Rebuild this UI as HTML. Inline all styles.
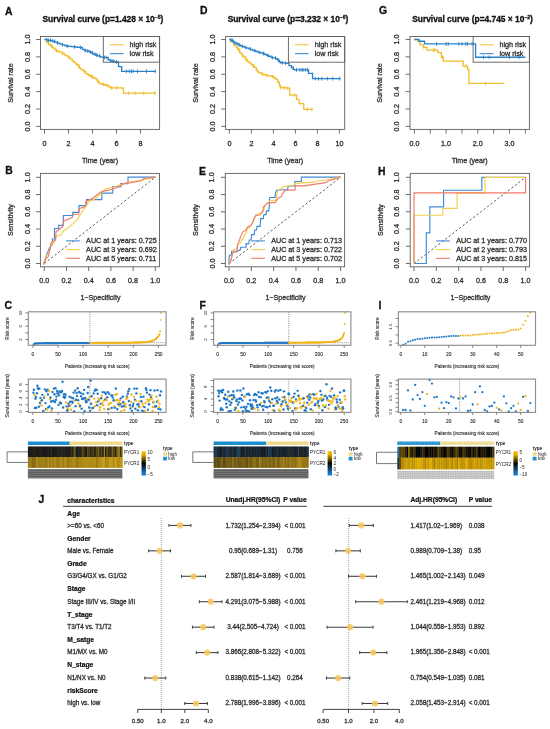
<!DOCTYPE html>
<html><head><meta charset="utf-8"><style>
html,body{margin:0;padding:0;background:#fff;width:550px;height:729px;overflow:hidden}
svg{display:block;will-change:transform}
text{font-family:"Liberation Sans", sans-serif}
text.r{stroke:#333;stroke-width:0.28px}
text.s{stroke:#333;stroke-width:0.1px}
text.b{stroke:#111;stroke-width:0.3px}
text.t{stroke:#111;stroke-width:0.32px}
text.u{stroke:#111;stroke-width:0.22px}
</style></head><body>
<svg width="550" height="729" viewBox="0 0 550 729">
<rect width="550" height="729" fill="#fff"/>
<text x="4.90" y="14.50" font-size="10.4" font-weight="bold" fill="#111" class="b">A</text>
<text x="199.90" y="14.40" font-size="10.4" font-weight="bold" fill="#111" class="b">D</text>
<text x="379.00" y="14.40" font-size="10.4" font-weight="bold" fill="#111" class="b">G</text>
<text x="5.30" y="174.30" font-size="10.4" font-weight="bold" fill="#111" class="b">B</text>
<text x="199.00" y="174.60" font-size="10.4" font-weight="bold" fill="#111" class="b">E</text>
<text x="378.00" y="174.60" font-size="10.4" font-weight="bold" fill="#111" class="b">H</text>
<text x="4.50" y="308.50" font-size="10.4" font-weight="bold" fill="#111" class="b">C</text>
<text x="199.60" y="308.50" font-size="10.4" font-weight="bold" fill="#111" class="b">F</text>
<text x="378.40" y="308.50" font-size="10.4" font-weight="bold" fill="#111" class="b">I</text>
<text x="38.50" y="503.20" font-size="10.4" font-weight="bold" fill="#111" class="b">J</text>
<text x="102.90" y="21.7" font-size="8.4" font-weight="bold" text-anchor="middle" fill="#111" class="t">Survival curve (p=1.428 × 10<tspan dy="-3.0" font-size="5.0">−5</tspan><tspan dy="3.0">)</tspan></text>
<polyline points="44.50,39.50 46.59,39.50 46.59,42.30 48.47,42.30 48.47,44.27 49.75,44.27 49.75,45.15 50.89,45.15 50.89,45.96 52.12,45.96 52.12,47.16 53.01,47.16 53.01,48.03 54.98,48.03 54.98,49.96 56.39,49.96 56.39,50.73 58.49,50.73 58.49,51.61 59.87,51.61 59.87,52.19 62.14,52.19 62.14,53.38 64.25,53.38 64.25,54.62 65.03,54.62 65.03,55.08 66.13,55.08 66.13,55.94 68.33,55.94 68.33,57.71 69.85,57.71 69.85,58.93 72.16,58.93 72.16,60.79 73.56,60.79 73.56,61.91 74.45,61.91 74.45,62.63 76.21,62.63 76.21,64.42 78.21,64.42 78.21,66.57 79.41,66.57 79.41,67.87 80.32,67.87 80.32,68.84 81.62,68.84 81.62,69.88 83.91,69.88 83.91,71.71 85.87,71.71 85.87,73.28 86.83,73.28 86.83,73.95 88.00,73.95 88.00,74.75 88.93,74.75 88.93,75.40 89.81,75.40 89.81,76.01 91.83,76.01 91.83,77.23 92.89,77.23 92.89,77.62 94.54,77.62 94.54,78.21 96.02,78.21 96.02,79.41 97.10,79.41 97.10,81.58 99.02,81.58 99.02,83.29 100.00,83.29 100.00,83.57 101.79,83.57 101.79,84.08 102.75,84.08 102.75,84.35 104.18,84.35 104.18,84.77 105.30,84.77 105.30,85.09 106.50,85.09 106.50,85.44 108.79,85.44 108.79,86.79 110.50,86.79 110.50,87.90 110.50,87.90 122.86,87.90 122.86,88.51 123.46,88.51 123.46,93.20 155.86,93.20 155.86,93.20" fill="none" stroke="#f1bd2c" stroke-width="1.3" stroke-linejoin="miter"/>
<line x1="48.10" y1="40.40" x2="48.10" y2="44.20" stroke="#f1bd2c" stroke-width="0.9"/>
<line x1="51.70" y1="44.06" x2="51.70" y2="47.86" stroke="#f1bd2c" stroke-width="0.9"/>
<line x1="56.50" y1="48.83" x2="56.50" y2="52.63" stroke="#f1bd2c" stroke-width="0.9"/>
<line x1="62.50" y1="51.48" x2="62.50" y2="55.28" stroke="#f1bd2c" stroke-width="0.9"/>
<line x1="69.70" y1="55.81" x2="69.70" y2="59.61" stroke="#f1bd2c" stroke-width="0.9"/>
<line x1="79.30" y1="64.67" x2="79.30" y2="68.47" stroke="#f1bd2c" stroke-width="0.9"/>
<line x1="84.10" y1="69.81" x2="84.10" y2="73.61" stroke="#f1bd2c" stroke-width="0.9"/>
<line x1="91.30" y1="74.11" x2="91.30" y2="77.91" stroke="#f1bd2c" stroke-width="0.9"/>
<line x1="92.50" y1="75.33" x2="92.50" y2="79.13" stroke="#f1bd2c" stroke-width="0.9"/>
<line x1="98.50" y1="79.68" x2="98.50" y2="83.48" stroke="#f1bd2c" stroke-width="0.9"/>
<line x1="103.30" y1="82.45" x2="103.30" y2="86.25" stroke="#f1bd2c" stroke-width="0.9"/>
<line x1="106.90" y1="83.54" x2="106.90" y2="87.34" stroke="#f1bd2c" stroke-width="0.9"/>
<line x1="111.70" y1="86.00" x2="111.70" y2="89.80" stroke="#f1bd2c" stroke-width="0.9"/>
<line x1="116.50" y1="86.00" x2="116.50" y2="89.80" stroke="#f1bd2c" stroke-width="0.9"/>
<line x1="128.50" y1="91.30" x2="128.50" y2="95.10" stroke="#f1bd2c" stroke-width="0.9"/>
<line x1="135.10" y1="91.30" x2="135.10" y2="95.10" stroke="#f1bd2c" stroke-width="0.9"/>
<line x1="143.74" y1="91.30" x2="143.74" y2="95.10" stroke="#f1bd2c" stroke-width="0.9"/>
<line x1="154.90" y1="91.30" x2="154.90" y2="95.10" stroke="#f1bd2c" stroke-width="0.9"/>
<polyline points="44.50,39.50 46.33,39.50 46.33,39.87 48.36,39.87 48.36,40.29 51.10,40.29 51.10,40.88 52.95,40.88 52.95,41.46 54.89,41.46 54.89,42.07 56.97,42.07 56.97,42.78 58.29,42.78 58.29,43.31 60.23,43.31 60.23,44.09 62.40,44.09 62.40,44.90 64.88,44.90 64.88,45.65 66.02,45.65 66.02,45.99 67.57,45.99 67.57,46.19 68.70,46.19 68.70,46.33 71.22,46.33 71.22,46.63 73.51,46.63 73.51,46.90 74.55,46.90 74.55,47.02 77.39,47.02 77.39,47.26 80.21,47.26 80.21,47.49 82.42,47.49 82.42,49.28 84.56,49.28 84.56,50.48 85.83,50.48 85.83,50.75 86.81,50.75 86.81,50.96 88.79,50.96 88.79,51.38 89.86,51.38 89.86,51.97 91.19,51.97 91.19,52.76 92.61,52.76 92.61,53.60 93.63,53.60 93.63,54.18 95.48,54.18 95.48,55.00 97.29,55.00 97.29,55.80 99.86,55.80 99.86,56.90 101.82,56.90 101.82,57.14 104.01,57.14 104.01,57.40 105.93,57.40 105.93,57.63 108.16,57.63 108.16,59.94 110.00,59.94 110.00,60.52 111.49,60.52 111.49,60.99 114.37,60.99 114.37,61.89 114.46,61.89 114.46,61.92 114.46,61.92 118.54,61.92 118.54,66.61 121.66,66.61 121.66,71.31 155.86,71.31 155.86,71.31" fill="none" stroke="#2a82ca" stroke-width="1.3" stroke-linejoin="miter"/>
<line x1="46.90" y1="37.97" x2="46.90" y2="41.77" stroke="#2a82ca" stroke-width="0.9"/>
<line x1="48.70" y1="38.39" x2="48.70" y2="42.19" stroke="#2a82ca" stroke-width="0.9"/>
<line x1="50.50" y1="38.39" x2="50.50" y2="42.19" stroke="#2a82ca" stroke-width="0.9"/>
<line x1="52.90" y1="38.98" x2="52.90" y2="42.78" stroke="#2a82ca" stroke-width="0.9"/>
<line x1="54.70" y1="39.56" x2="54.70" y2="43.36" stroke="#2a82ca" stroke-width="0.9"/>
<line x1="57.70" y1="40.88" x2="57.70" y2="44.68" stroke="#2a82ca" stroke-width="0.9"/>
<line x1="62.50" y1="43.00" x2="62.50" y2="46.80" stroke="#2a82ca" stroke-width="0.9"/>
<line x1="67.30" y1="44.09" x2="67.30" y2="47.89" stroke="#2a82ca" stroke-width="0.9"/>
<line x1="74.50" y1="45.00" x2="74.50" y2="48.80" stroke="#2a82ca" stroke-width="0.9"/>
<line x1="80.50" y1="45.59" x2="80.50" y2="49.39" stroke="#2a82ca" stroke-width="0.9"/>
<line x1="85.30" y1="48.58" x2="85.30" y2="52.38" stroke="#2a82ca" stroke-width="0.9"/>
<line x1="87.70" y1="49.06" x2="87.70" y2="52.86" stroke="#2a82ca" stroke-width="0.9"/>
<line x1="90.10" y1="50.07" x2="90.10" y2="53.87" stroke="#2a82ca" stroke-width="0.9"/>
<line x1="92.50" y1="50.86" x2="92.50" y2="54.66" stroke="#2a82ca" stroke-width="0.9"/>
<line x1="94.90" y1="52.28" x2="94.90" y2="56.08" stroke="#2a82ca" stroke-width="0.9"/>
<line x1="96.70" y1="53.10" x2="96.70" y2="56.90" stroke="#2a82ca" stroke-width="0.9"/>
<line x1="99.70" y1="53.90" x2="99.70" y2="57.70" stroke="#2a82ca" stroke-width="0.9"/>
<line x1="104.50" y1="55.50" x2="104.50" y2="59.30" stroke="#2a82ca" stroke-width="0.9"/>
<line x1="106.90" y1="55.73" x2="106.90" y2="59.53" stroke="#2a82ca" stroke-width="0.9"/>
<line x1="110.50" y1="58.62" x2="110.50" y2="62.42" stroke="#2a82ca" stroke-width="0.9"/>
<line x1="112.90" y1="59.09" x2="112.90" y2="62.89" stroke="#2a82ca" stroke-width="0.9"/>
<line x1="116.50" y1="60.02" x2="116.50" y2="63.82" stroke="#2a82ca" stroke-width="0.9"/>
<line x1="126.34" y1="69.41" x2="126.34" y2="73.21" stroke="#2a82ca" stroke-width="0.9"/>
<line x1="129.34" y1="69.41" x2="129.34" y2="73.21" stroke="#2a82ca" stroke-width="0.9"/>
<line x1="131.62" y1="69.41" x2="131.62" y2="73.21" stroke="#2a82ca" stroke-width="0.9"/>
<line x1="132.94" y1="69.41" x2="132.94" y2="73.21" stroke="#2a82ca" stroke-width="0.9"/>
<line x1="137.50" y1="69.41" x2="137.50" y2="73.21" stroke="#2a82ca" stroke-width="0.9"/>
<line x1="146.50" y1="69.41" x2="146.50" y2="73.21" stroke="#2a82ca" stroke-width="0.9"/>
<line x1="155.26" y1="69.41" x2="155.26" y2="73.21" stroke="#2a82ca" stroke-width="0.9"/>
<rect x="40.50" y="36.50" width="119.10" height="92.90" fill="none" stroke="#5e5e5e" stroke-width="0.9"/>
<line x1="36.10" y1="126.40" x2="40.50" y2="126.40" stroke="#5e5e5e" stroke-width="0.9"/>
<text x="29.70" y="126.40" font-size="7.3" text-anchor="middle" class="r" fill="#222" transform="rotate(-90 29.70 126.40)">0.0</text>
<line x1="36.10" y1="109.02" x2="40.50" y2="109.02" stroke="#5e5e5e" stroke-width="0.9"/>
<text x="29.70" y="109.02" font-size="7.3" text-anchor="middle" class="r" fill="#222" transform="rotate(-90 29.70 109.02)">0.2</text>
<line x1="36.10" y1="91.64" x2="40.50" y2="91.64" stroke="#5e5e5e" stroke-width="0.9"/>
<text x="29.70" y="91.64" font-size="7.3" text-anchor="middle" class="r" fill="#222" transform="rotate(-90 29.70 91.64)">0.4</text>
<line x1="36.10" y1="74.26" x2="40.50" y2="74.26" stroke="#5e5e5e" stroke-width="0.9"/>
<text x="29.70" y="74.26" font-size="7.3" text-anchor="middle" class="r" fill="#222" transform="rotate(-90 29.70 74.26)">0.6</text>
<line x1="36.10" y1="56.88" x2="40.50" y2="56.88" stroke="#5e5e5e" stroke-width="0.9"/>
<text x="29.70" y="56.88" font-size="7.3" text-anchor="middle" class="r" fill="#222" transform="rotate(-90 29.70 56.88)">0.8</text>
<line x1="36.10" y1="39.50" x2="40.50" y2="39.50" stroke="#5e5e5e" stroke-width="0.9"/>
<text x="29.70" y="39.50" font-size="7.3" text-anchor="middle" class="r" fill="#222" transform="rotate(-90 29.70 39.50)">1.0</text>
<line x1="44.50" y1="129.40" x2="44.50" y2="133.60" stroke="#5e5e5e" stroke-width="0.9"/>
<text x="44.50" y="145.70" font-size="7.2" text-anchor="middle" class="r" fill="#222">0</text>
<line x1="68.50" y1="129.40" x2="68.50" y2="133.60" stroke="#5e5e5e" stroke-width="0.9"/>
<text x="68.50" y="145.70" font-size="7.2" text-anchor="middle" class="r" fill="#222">2</text>
<line x1="92.50" y1="129.40" x2="92.50" y2="133.60" stroke="#5e5e5e" stroke-width="0.9"/>
<text x="92.50" y="145.70" font-size="7.2" text-anchor="middle" class="r" fill="#222">4</text>
<line x1="116.50" y1="129.40" x2="116.50" y2="133.60" stroke="#5e5e5e" stroke-width="0.9"/>
<text x="116.50" y="145.70" font-size="7.2" text-anchor="middle" class="r" fill="#222">6</text>
<line x1="140.50" y1="129.40" x2="140.50" y2="133.60" stroke="#5e5e5e" stroke-width="0.9"/>
<text x="140.50" y="145.70" font-size="7.2" text-anchor="middle" class="r" fill="#222">8</text>
<text x="100.05" y="162.60" font-size="7.1" text-anchor="middle" class="r" fill="#222">Time (year)</text>
<text x="13.00" y="82.95" font-size="7.1" text-anchor="middle" class="r" fill="#222" transform="rotate(-90 13.00 82.95)">Survival rate</text>
<rect x="103.30" y="36.50" width="56.30" height="25.70" fill="none" stroke="#5e5e5e" stroke-width="0.9"/>
<line x1="109.80" y1="44.80" x2="123.60" y2="44.80" stroke="#f1bd2c" stroke-width="1.0"/>
<line x1="109.80" y1="53.70" x2="123.60" y2="53.70" stroke="#2a82ca" stroke-width="1.0"/>
<text x="129.60" y="47.30" font-size="7.2" text-anchor="start" class="r" fill="#222">high risk</text>
<text x="129.60" y="56.20" font-size="7.2" text-anchor="start" class="r" fill="#222">low risk</text>
<text x="288.00" y="21.7" font-size="8.4" font-weight="bold" text-anchor="middle" fill="#111" class="t">Survival curve (p=3.232 × 10<tspan dy="-3.0" font-size="5.0">−6</tspan><tspan dy="3.0">)</tspan></text>
<polyline points="229.40,39.50 230.33,39.50 230.33,40.60 231.16,40.60 231.16,41.59 233.41,41.59 233.41,44.16 234.55,44.16 234.55,45.30 236.40,45.30 236.40,47.28 237.57,47.28 237.57,49.25 239.61,49.25 239.61,52.62 241.30,52.62 241.30,54.33 242.52,54.33 242.52,55.56 243.56,55.56 243.56,56.83 245.44,56.83 245.44,59.23 246.31,59.23 246.31,60.35 247.44,60.35 247.44,61.57 249.07,61.57 249.07,62.86 251.15,62.86 251.15,64.50 252.87,64.50 252.87,66.00 254.07,66.00 254.07,67.43 256.25,67.43 256.25,70.01 257.33,70.01 257.33,71.30 258.13,71.30 258.13,72.15 259.31,72.15 259.31,72.74 260.77,72.74 260.77,73.47 261.63,73.47 261.63,73.90 262.68,73.90 262.68,74.42 264.01,74.42 264.01,74.89 265.66,74.89 265.66,75.18 266.64,75.18 266.64,75.35 267.97,75.35 267.97,75.58 270.11,75.58 270.11,76.02 272.39,76.02 272.39,77.14 274.17,77.14 274.17,78.01 276.00,78.01 276.00,79.45 277.67,79.45 277.67,81.73 278.66,81.73 278.66,83.20 279.48,83.20 279.48,85.50 280.28,85.50 280.28,87.56 282.45,87.56 282.45,87.72 284.30,87.72 284.30,87.86 286.55,87.86 286.55,88.02 287.36,88.02 287.36,88.08 288.47,88.08 288.47,88.16 288.47,88.16 289.68,88.16 289.68,95.20 296.61,95.20 296.61,99.37 299.03,99.37 299.03,103.55 303.76,103.55 303.76,109.37 312.56,109.37 312.56,109.37" fill="none" stroke="#f1bd2c" stroke-width="1.3" stroke-linejoin="miter"/>
<line x1="233.80" y1="42.26" x2="233.80" y2="46.06" stroke="#f1bd2c" stroke-width="0.9"/>
<line x1="238.20" y1="47.35" x2="238.20" y2="51.15" stroke="#f1bd2c" stroke-width="0.9"/>
<line x1="242.60" y1="53.66" x2="242.60" y2="57.46" stroke="#f1bd2c" stroke-width="0.9"/>
<line x1="247.00" y1="58.45" x2="247.00" y2="62.25" stroke="#f1bd2c" stroke-width="0.9"/>
<line x1="253.60" y1="64.10" x2="253.60" y2="67.90" stroke="#f1bd2c" stroke-width="0.9"/>
<line x1="262.40" y1="72.00" x2="262.40" y2="75.80" stroke="#f1bd2c" stroke-width="0.9"/>
<line x1="266.80" y1="73.45" x2="266.80" y2="77.25" stroke="#f1bd2c" stroke-width="0.9"/>
<line x1="273.40" y1="75.24" x2="273.40" y2="79.04" stroke="#f1bd2c" stroke-width="0.9"/>
<line x1="281.10" y1="85.66" x2="281.10" y2="89.46" stroke="#f1bd2c" stroke-width="0.9"/>
<line x1="284.40" y1="85.96" x2="284.40" y2="89.76" stroke="#f1bd2c" stroke-width="0.9"/>
<line x1="287.70" y1="86.18" x2="287.70" y2="89.98" stroke="#f1bd2c" stroke-width="0.9"/>
<line x1="294.30" y1="93.30" x2="294.30" y2="97.10" stroke="#f1bd2c" stroke-width="0.9"/>
<line x1="307.50" y1="107.47" x2="307.50" y2="111.27" stroke="#f1bd2c" stroke-width="0.9"/>
<line x1="311.90" y1="107.47" x2="311.90" y2="111.27" stroke="#f1bd2c" stroke-width="0.9"/>
<polyline points="229.40,39.50 230.82,39.50 230.82,40.42 233.25,40.42 233.25,42.02 234.50,42.02 234.50,42.83 236.08,42.83 236.08,43.72 238.46,43.72 238.46,44.91 240.47,44.91 240.47,45.91 241.53,45.91 241.53,46.29 244.15,46.29 244.15,47.22 245.40,47.22 245.40,47.67 246.74,47.67 246.74,48.14 248.98,48.14 248.98,48.94 250.44,48.94 250.44,49.47 251.84,49.47 251.84,49.97 252.85,49.97 252.85,50.34 253.89,50.34 253.89,50.71 255.79,50.71 255.79,51.40 257.10,51.40 257.10,51.82 259.04,51.82 259.04,52.45 260.57,52.45 260.57,52.94 262.25,52.94 262.25,53.48 264.82,53.48 264.82,54.62 266.55,54.62 266.55,55.39 268.44,55.39 268.44,56.24 270.85,56.24 270.85,57.19 272.05,57.19 272.05,57.58 273.20,57.58 273.20,57.95 275.68,57.95 275.68,58.74 278.00,58.74 278.00,60.54 279.32,60.54 279.32,61.83 280.53,61.83 280.53,62.73 282.71,62.73 282.71,62.92 285.25,62.92 285.25,63.14 286.47,63.14 286.47,63.24 289.02,63.24 289.02,65.55 291.46,65.55 291.46,67.85 293.40,67.85 293.40,69.35 294.30,69.35 294.30,69.83 294.30,69.83 308.49,69.83 308.49,73.39 312.56,73.39 312.56,78.69 340.83,78.69 340.83,78.69" fill="none" stroke="#2a82ca" stroke-width="1.3" stroke-linejoin="miter"/>
<line x1="231.05" y1="38.52" x2="231.05" y2="42.32" stroke="#2a82ca" stroke-width="0.9"/>
<line x1="232.70" y1="38.52" x2="232.70" y2="42.32" stroke="#2a82ca" stroke-width="0.9"/>
<line x1="234.90" y1="40.93" x2="234.90" y2="44.73" stroke="#2a82ca" stroke-width="0.9"/>
<line x1="237.10" y1="41.82" x2="237.10" y2="45.62" stroke="#2a82ca" stroke-width="0.9"/>
<line x1="239.30" y1="43.01" x2="239.30" y2="46.81" stroke="#2a82ca" stroke-width="0.9"/>
<line x1="242.60" y1="44.39" x2="242.60" y2="48.19" stroke="#2a82ca" stroke-width="0.9"/>
<line x1="245.90" y1="45.77" x2="245.90" y2="49.57" stroke="#2a82ca" stroke-width="0.9"/>
<line x1="250.30" y1="47.04" x2="250.30" y2="50.84" stroke="#2a82ca" stroke-width="0.9"/>
<line x1="254.70" y1="48.81" x2="254.70" y2="52.61" stroke="#2a82ca" stroke-width="0.9"/>
<line x1="259.10" y1="50.55" x2="259.10" y2="54.35" stroke="#2a82ca" stroke-width="0.9"/>
<line x1="263.50" y1="51.58" x2="263.50" y2="55.38" stroke="#2a82ca" stroke-width="0.9"/>
<line x1="267.90" y1="53.49" x2="267.90" y2="57.29" stroke="#2a82ca" stroke-width="0.9"/>
<line x1="272.30" y1="55.68" x2="272.30" y2="59.48" stroke="#2a82ca" stroke-width="0.9"/>
<line x1="275.60" y1="56.05" x2="275.60" y2="59.85" stroke="#2a82ca" stroke-width="0.9"/>
<line x1="278.90" y1="58.64" x2="278.90" y2="62.44" stroke="#2a82ca" stroke-width="0.9"/>
<line x1="282.20" y1="60.83" x2="282.20" y2="64.63" stroke="#2a82ca" stroke-width="0.9"/>
<line x1="285.50" y1="61.24" x2="285.50" y2="65.04" stroke="#2a82ca" stroke-width="0.9"/>
<line x1="293.20" y1="65.95" x2="293.20" y2="69.75" stroke="#2a82ca" stroke-width="0.9"/>
<line x1="296.50" y1="67.93" x2="296.50" y2="71.73" stroke="#2a82ca" stroke-width="0.9"/>
<line x1="299.80" y1="67.93" x2="299.80" y2="71.73" stroke="#2a82ca" stroke-width="0.9"/>
<line x1="302.00" y1="67.93" x2="302.00" y2="71.73" stroke="#2a82ca" stroke-width="0.9"/>
<line x1="303.10" y1="67.93" x2="303.10" y2="71.73" stroke="#2a82ca" stroke-width="0.9"/>
<line x1="305.30" y1="67.93" x2="305.30" y2="71.73" stroke="#2a82ca" stroke-width="0.9"/>
<line x1="307.50" y1="67.93" x2="307.50" y2="71.73" stroke="#2a82ca" stroke-width="0.9"/>
<line x1="315.20" y1="76.79" x2="315.20" y2="80.59" stroke="#2a82ca" stroke-width="0.9"/>
<line x1="318.50" y1="76.79" x2="318.50" y2="80.59" stroke="#2a82ca" stroke-width="0.9"/>
<line x1="321.80" y1="76.79" x2="321.80" y2="80.59" stroke="#2a82ca" stroke-width="0.9"/>
<line x1="327.30" y1="76.79" x2="327.30" y2="80.59" stroke="#2a82ca" stroke-width="0.9"/>
<line x1="332.80" y1="76.79" x2="332.80" y2="80.59" stroke="#2a82ca" stroke-width="0.9"/>
<line x1="339.40" y1="76.79" x2="339.40" y2="80.59" stroke="#2a82ca" stroke-width="0.9"/>
<rect x="225.60" y="36.50" width="119.10" height="92.90" fill="none" stroke="#5e5e5e" stroke-width="0.9"/>
<line x1="221.20" y1="126.40" x2="225.60" y2="126.40" stroke="#5e5e5e" stroke-width="0.9"/>
<text x="214.80" y="126.40" font-size="7.3" text-anchor="middle" class="r" fill="#222" transform="rotate(-90 214.80 126.40)">0.0</text>
<line x1="221.20" y1="109.02" x2="225.60" y2="109.02" stroke="#5e5e5e" stroke-width="0.9"/>
<text x="214.80" y="109.02" font-size="7.3" text-anchor="middle" class="r" fill="#222" transform="rotate(-90 214.80 109.02)">0.2</text>
<line x1="221.20" y1="91.64" x2="225.60" y2="91.64" stroke="#5e5e5e" stroke-width="0.9"/>
<text x="214.80" y="91.64" font-size="7.3" text-anchor="middle" class="r" fill="#222" transform="rotate(-90 214.80 91.64)">0.4</text>
<line x1="221.20" y1="74.26" x2="225.60" y2="74.26" stroke="#5e5e5e" stroke-width="0.9"/>
<text x="214.80" y="74.26" font-size="7.3" text-anchor="middle" class="r" fill="#222" transform="rotate(-90 214.80 74.26)">0.6</text>
<line x1="221.20" y1="56.88" x2="225.60" y2="56.88" stroke="#5e5e5e" stroke-width="0.9"/>
<text x="214.80" y="56.88" font-size="7.3" text-anchor="middle" class="r" fill="#222" transform="rotate(-90 214.80 56.88)">0.8</text>
<line x1="221.20" y1="39.50" x2="225.60" y2="39.50" stroke="#5e5e5e" stroke-width="0.9"/>
<text x="214.80" y="39.50" font-size="7.3" text-anchor="middle" class="r" fill="#222" transform="rotate(-90 214.80 39.50)">1.0</text>
<line x1="229.40" y1="129.40" x2="229.40" y2="133.60" stroke="#5e5e5e" stroke-width="0.9"/>
<text x="229.40" y="145.70" font-size="7.2" text-anchor="middle" class="r" fill="#222">0</text>
<line x1="251.40" y1="129.40" x2="251.40" y2="133.60" stroke="#5e5e5e" stroke-width="0.9"/>
<text x="251.40" y="145.70" font-size="7.2" text-anchor="middle" class="r" fill="#222">2</text>
<line x1="273.40" y1="129.40" x2="273.40" y2="133.60" stroke="#5e5e5e" stroke-width="0.9"/>
<text x="273.40" y="145.70" font-size="7.2" text-anchor="middle" class="r" fill="#222">4</text>
<line x1="295.40" y1="129.40" x2="295.40" y2="133.60" stroke="#5e5e5e" stroke-width="0.9"/>
<text x="295.40" y="145.70" font-size="7.2" text-anchor="middle" class="r" fill="#222">6</text>
<line x1="317.40" y1="129.40" x2="317.40" y2="133.60" stroke="#5e5e5e" stroke-width="0.9"/>
<text x="317.40" y="145.70" font-size="7.2" text-anchor="middle" class="r" fill="#222">8</text>
<line x1="339.40" y1="129.40" x2="339.40" y2="133.60" stroke="#5e5e5e" stroke-width="0.9"/>
<text x="339.40" y="145.70" font-size="7.2" text-anchor="middle" class="r" fill="#222">10</text>
<text x="285.15" y="162.60" font-size="7.1" text-anchor="middle" class="r" fill="#222">Time (year)</text>
<text x="198.10" y="82.95" font-size="7.1" text-anchor="middle" class="r" fill="#222" transform="rotate(-90 198.10 82.95)">Survival rate</text>
<rect x="288.40" y="36.50" width="56.30" height="25.70" fill="none" stroke="#5e5e5e" stroke-width="0.9"/>
<line x1="294.90" y1="44.80" x2="308.70" y2="44.80" stroke="#f1bd2c" stroke-width="1.0"/>
<line x1="294.90" y1="53.70" x2="308.70" y2="53.70" stroke="#2a82ca" stroke-width="1.0"/>
<text x="314.70" y="47.30" font-size="7.2" text-anchor="start" class="r" fill="#222">high risk</text>
<text x="314.70" y="56.20" font-size="7.2" text-anchor="start" class="r" fill="#222">low risk</text>
<text x="472.55" y="21.7" font-size="8.4" font-weight="bold" text-anchor="middle" fill="#111" class="t">Survival curve (p=4.745 × 10<tspan dy="-3.0" font-size="5.0">−2</tspan><tspan dy="3.0">)</tspan></text>
<polyline points="414.40,39.50 417.89,39.50 417.89,41.67 420.11,41.67 420.11,44.97 423.28,44.97 423.28,47.32 426.76,47.32 426.76,50.10 437.86,50.10 437.86,52.71 441.34,52.71 441.34,57.23 443.25,57.23 443.25,61.22 463.22,61.22 463.22,66.09 467.66,66.09 467.66,69.39 468.92,69.39 468.92,83.38 504.43,83.38 504.43,83.38" fill="none" stroke="#f1bd2c" stroke-width="1.3" stroke-linejoin="miter"/>
<line x1="423.91" y1="45.42" x2="423.91" y2="49.22" stroke="#f1bd2c" stroke-width="0.9"/>
<line x1="433.42" y1="48.20" x2="433.42" y2="52.00" stroke="#f1bd2c" stroke-width="0.9"/>
<line x1="435.00" y1="48.20" x2="435.00" y2="52.00" stroke="#f1bd2c" stroke-width="0.9"/>
<line x1="442.93" y1="55.33" x2="442.93" y2="59.13" stroke="#f1bd2c" stroke-width="0.9"/>
<line x1="465.75" y1="64.19" x2="465.75" y2="67.99" stroke="#f1bd2c" stroke-width="0.9"/>
<line x1="485.41" y1="81.48" x2="485.41" y2="85.28" stroke="#f1bd2c" stroke-width="0.9"/>
<polyline points="414.40,39.50 419.00,39.50 419.00,41.24 424.54,41.24 424.54,43.84 475.58,43.84 475.58,57.23 525.35,57.23 525.35,57.23" fill="none" stroke="#2a82ca" stroke-width="1.3" stroke-linejoin="miter"/>
<line x1="436.59" y1="41.95" x2="436.59" y2="45.74" stroke="#2a82ca" stroke-width="0.9"/>
<line x1="446.10" y1="41.95" x2="446.10" y2="45.74" stroke="#2a82ca" stroke-width="0.9"/>
<line x1="448.32" y1="41.95" x2="448.32" y2="45.74" stroke="#2a82ca" stroke-width="0.9"/>
<line x1="458.78" y1="41.95" x2="458.78" y2="45.74" stroke="#2a82ca" stroke-width="0.9"/>
<line x1="461.95" y1="41.95" x2="461.95" y2="45.74" stroke="#2a82ca" stroke-width="0.9"/>
<line x1="465.75" y1="41.95" x2="465.75" y2="45.74" stroke="#2a82ca" stroke-width="0.9"/>
<line x1="467.66" y1="41.95" x2="467.66" y2="45.74" stroke="#2a82ca" stroke-width="0.9"/>
<line x1="472.09" y1="41.95" x2="472.09" y2="45.74" stroke="#2a82ca" stroke-width="0.9"/>
<line x1="483.51" y1="55.33" x2="483.51" y2="59.13" stroke="#2a82ca" stroke-width="0.9"/>
<line x1="489.21" y1="55.33" x2="489.21" y2="59.13" stroke="#2a82ca" stroke-width="0.9"/>
<line x1="509.50" y1="55.33" x2="509.50" y2="59.13" stroke="#2a82ca" stroke-width="0.9"/>
<line x1="519.01" y1="55.33" x2="519.01" y2="59.13" stroke="#2a82ca" stroke-width="0.9"/>
<rect x="410.00" y="36.50" width="119.40" height="92.90" fill="none" stroke="#5e5e5e" stroke-width="0.9"/>
<line x1="405.60" y1="126.40" x2="410.00" y2="126.40" stroke="#5e5e5e" stroke-width="0.9"/>
<text x="399.20" y="126.40" font-size="7.3" text-anchor="middle" class="r" fill="#222" transform="rotate(-90 399.20 126.40)">0.0</text>
<line x1="405.60" y1="109.02" x2="410.00" y2="109.02" stroke="#5e5e5e" stroke-width="0.9"/>
<text x="399.20" y="109.02" font-size="7.3" text-anchor="middle" class="r" fill="#222" transform="rotate(-90 399.20 109.02)">0.2</text>
<line x1="405.60" y1="91.64" x2="410.00" y2="91.64" stroke="#5e5e5e" stroke-width="0.9"/>
<text x="399.20" y="91.64" font-size="7.3" text-anchor="middle" class="r" fill="#222" transform="rotate(-90 399.20 91.64)">0.4</text>
<line x1="405.60" y1="74.26" x2="410.00" y2="74.26" stroke="#5e5e5e" stroke-width="0.9"/>
<text x="399.20" y="74.26" font-size="7.3" text-anchor="middle" class="r" fill="#222" transform="rotate(-90 399.20 74.26)">0.6</text>
<line x1="405.60" y1="56.88" x2="410.00" y2="56.88" stroke="#5e5e5e" stroke-width="0.9"/>
<text x="399.20" y="56.88" font-size="7.3" text-anchor="middle" class="r" fill="#222" transform="rotate(-90 399.20 56.88)">0.8</text>
<line x1="405.60" y1="39.50" x2="410.00" y2="39.50" stroke="#5e5e5e" stroke-width="0.9"/>
<text x="399.20" y="39.50" font-size="7.3" text-anchor="middle" class="r" fill="#222" transform="rotate(-90 399.20 39.50)">1.0</text>
<line x1="414.40" y1="129.40" x2="414.40" y2="133.60" stroke="#5e5e5e" stroke-width="0.9"/>
<text x="414.40" y="145.70" font-size="7.2" text-anchor="middle" class="r" fill="#222">0.0</text>
<line x1="430.25" y1="129.40" x2="430.25" y2="133.60" stroke="#5e5e5e" stroke-width="0.9"/>
<line x1="446.10" y1="129.40" x2="446.10" y2="133.60" stroke="#5e5e5e" stroke-width="0.9"/>
<text x="446.10" y="145.70" font-size="7.2" text-anchor="middle" class="r" fill="#222">1.0</text>
<line x1="461.95" y1="129.40" x2="461.95" y2="133.60" stroke="#5e5e5e" stroke-width="0.9"/>
<line x1="477.80" y1="129.40" x2="477.80" y2="133.60" stroke="#5e5e5e" stroke-width="0.9"/>
<text x="477.80" y="145.70" font-size="7.2" text-anchor="middle" class="r" fill="#222">2.0</text>
<line x1="493.65" y1="129.40" x2="493.65" y2="133.60" stroke="#5e5e5e" stroke-width="0.9"/>
<line x1="509.50" y1="129.40" x2="509.50" y2="133.60" stroke="#5e5e5e" stroke-width="0.9"/>
<text x="509.50" y="145.70" font-size="7.2" text-anchor="middle" class="r" fill="#222">3.0</text>
<line x1="525.35" y1="129.40" x2="525.35" y2="133.60" stroke="#5e5e5e" stroke-width="0.9"/>
<text x="469.70" y="162.60" font-size="7.1" text-anchor="middle" class="r" fill="#222">Time (year)</text>
<text x="382.50" y="82.95" font-size="7.1" text-anchor="middle" class="r" fill="#222" transform="rotate(-90 382.50 82.95)">Survival rate</text>
<rect x="473.10" y="36.50" width="56.30" height="25.70" fill="none" stroke="#5e5e5e" stroke-width="0.9"/>
<line x1="479.60" y1="44.80" x2="493.40" y2="44.80" stroke="#f1bd2c" stroke-width="1.0"/>
<line x1="479.60" y1="53.70" x2="493.40" y2="53.70" stroke="#2a82ca" stroke-width="1.0"/>
<text x="499.40" y="47.30" font-size="7.2" text-anchor="start" class="r" fill="#222">high risk</text>
<text x="499.40" y="56.20" font-size="7.2" text-anchor="start" class="r" fill="#222">low risk</text>
<line x1="44.30" y1="263.50" x2="155.30" y2="177.30" stroke="#444" stroke-width="0.9" stroke-dasharray="2.2,2.2"/>
<polyline points="43.56,264.48 46.69,254.58 49.29,248.33 52.42,244.17 52.42,238.96 54.50,238.96 54.50,228.54 58.67,228.54 58.67,225.42 63.35,225.42 63.35,215.52 72.73,215.52 72.73,212.40 78.98,212.40 78.98,205.62 85.75,205.62 86.55,205.45 86.55,199.64 101.82,199.64 101.82,193.09 112.73,193.09 112.73,186.55 120.73,186.55 120.73,183.64 128.00,183.64 128.00,177.09 155.64,177.09" fill="none" stroke="#3f8ad8" stroke-width="1.15" stroke-linejoin="miter"/>
<polyline points="43.56,264.48 46.17,256.67 48.77,252.50 50.33,248.33 51.90,243.12 54.50,242.08 56.58,235.83 61.27,234.79 62.83,231.67 67.00,228.54 73.25,223.33 77.42,219.17 80.02,214.90 88.73,201.82 94.55,198.91 98.91,195.27 105.45,188.73 113.45,187.27 123.64,183.64 132.36,181.45 146.91,179.27 155.64,177.09" fill="none" stroke="#f6cf4e" stroke-width="1.15" stroke-linejoin="miter"/>
<polyline points="43.56,264.48 45.65,258.75 48.25,256.67 50.33,248.33 50.85,243.12 55.54,240.00 56.06,231.67 62.83,226.46 63.35,221.25 72.21,217.60 73.25,214.48 78.46,213.96 78.98,208.75 85.23,206.67 85.82,203.27 85.82,201.09 91.64,198.91 100.36,192.36 104.73,190.91 112.00,189.45 120.73,185.82 123.64,183.64 129.45,182.91 141.09,180.73 144.00,178.55 155.64,177.09" fill="none" stroke="#f27a68" stroke-width="1.15" stroke-linejoin="miter"/>
<rect x="40.40" y="173.40" width="119.10" height="93.40" fill="none" stroke="#5e5e5e" stroke-width="0.9"/>
<line x1="36.00" y1="263.50" x2="40.40" y2="263.50" stroke="#5e5e5e" stroke-width="0.9"/>
<text x="29.60" y="263.50" font-size="7.3" text-anchor="middle" class="r" fill="#222" transform="rotate(-90 29.60 263.50)">0.0</text>
<line x1="44.30" y1="266.80" x2="44.30" y2="271.00" stroke="#5e5e5e" stroke-width="0.9"/>
<text x="44.30" y="282.70" font-size="7.2" text-anchor="middle" class="r" fill="#222">0.0</text>
<line x1="36.00" y1="246.26" x2="40.40" y2="246.26" stroke="#5e5e5e" stroke-width="0.9"/>
<text x="29.60" y="246.26" font-size="7.3" text-anchor="middle" class="r" fill="#222" transform="rotate(-90 29.60 246.26)">0.2</text>
<line x1="66.50" y1="266.80" x2="66.50" y2="271.00" stroke="#5e5e5e" stroke-width="0.9"/>
<text x="66.50" y="282.70" font-size="7.2" text-anchor="middle" class="r" fill="#222">0.2</text>
<line x1="36.00" y1="229.02" x2="40.40" y2="229.02" stroke="#5e5e5e" stroke-width="0.9"/>
<text x="29.60" y="229.02" font-size="7.3" text-anchor="middle" class="r" fill="#222" transform="rotate(-90 29.60 229.02)">0.4</text>
<line x1="88.70" y1="266.80" x2="88.70" y2="271.00" stroke="#5e5e5e" stroke-width="0.9"/>
<text x="88.70" y="282.70" font-size="7.2" text-anchor="middle" class="r" fill="#222">0.4</text>
<line x1="36.00" y1="211.78" x2="40.40" y2="211.78" stroke="#5e5e5e" stroke-width="0.9"/>
<text x="29.60" y="211.78" font-size="7.3" text-anchor="middle" class="r" fill="#222" transform="rotate(-90 29.60 211.78)">0.6</text>
<line x1="110.90" y1="266.80" x2="110.90" y2="271.00" stroke="#5e5e5e" stroke-width="0.9"/>
<text x="110.90" y="282.70" font-size="7.2" text-anchor="middle" class="r" fill="#222">0.6</text>
<line x1="36.00" y1="194.54" x2="40.40" y2="194.54" stroke="#5e5e5e" stroke-width="0.9"/>
<text x="29.60" y="194.54" font-size="7.3" text-anchor="middle" class="r" fill="#222" transform="rotate(-90 29.60 194.54)">0.8</text>
<line x1="133.10" y1="266.80" x2="133.10" y2="271.00" stroke="#5e5e5e" stroke-width="0.9"/>
<text x="133.10" y="282.70" font-size="7.2" text-anchor="middle" class="r" fill="#222">0.8</text>
<line x1="36.00" y1="177.30" x2="40.40" y2="177.30" stroke="#5e5e5e" stroke-width="0.9"/>
<text x="29.60" y="177.30" font-size="7.3" text-anchor="middle" class="r" fill="#222" transform="rotate(-90 29.60 177.30)">1.0</text>
<line x1="155.30" y1="266.80" x2="155.30" y2="271.00" stroke="#5e5e5e" stroke-width="0.9"/>
<text x="155.30" y="282.70" font-size="7.2" text-anchor="middle" class="r" fill="#222">1.0</text>
<text x="100.45" y="299.80" font-size="7.1" text-anchor="middle" class="r" fill="#222">1−Specificity</text>
<text x="12.90" y="220.10" font-size="7.1" text-anchor="middle" class="r" fill="#222" transform="rotate(-90 12.90 220.10)">Sensitivity</text>
<line x1="66.10" y1="240.90" x2="79.90" y2="240.90" stroke="#3f8ad8" stroke-width="1.1"/>
<text x="86.10" y="243.40" font-size="7.2" text-anchor="start" class="r" fill="#222">AUC at 1 years: 0.725</text>
<line x1="66.10" y1="249.60" x2="79.90" y2="249.60" stroke="#f6cf4e" stroke-width="1.1"/>
<text x="86.10" y="252.10" font-size="7.2" text-anchor="start" class="r" fill="#222">AUC at 3 years: 0.692</text>
<line x1="66.10" y1="258.30" x2="79.90" y2="258.30" stroke="#f27a68" stroke-width="1.1"/>
<text x="86.10" y="260.80" font-size="7.2" text-anchor="start" class="r" fill="#222">AUC at 5 years: 0.711</text>
<line x1="229.00" y1="263.50" x2="340.60" y2="177.30" stroke="#444" stroke-width="0.9" stroke-dasharray="2.2,2.2"/>
<polyline points="228.82,264.55 229.27,255.45 231.55,254.55 231.55,251.36 237.00,251.36 240.64,249.55 240.64,247.27 246.09,247.27 246.09,243.64 248.82,243.64 249.27,240.00 251.09,240.00 251.55,234.55 254.27,234.55 254.73,230.00 256.55,230.00 257.00,226.36 260.18,226.36 260.64,218.64 263.36,218.64 263.82,214.55 266.09,214.55 266.55,210.91 268.82,210.91 269.27,206.36 269.36,198.91 270.09,197.45 275.18,197.45 275.18,193.82 276.64,190.18 287.55,189.45 288.27,185.82 294.82,185.82 294.82,181.45 301.36,181.45 301.36,177.09 340.64,177.09" fill="none" stroke="#3f8ad8" stroke-width="1.15" stroke-linejoin="miter"/>
<polyline points="228.82,264.55 231.09,260.00 233.36,249.55 237.00,249.09 237.91,244.55 240.64,242.73 241.55,240.00 243.36,239.09 244.27,234.55 246.09,233.64 247.00,229.09 249.73,227.27 251.55,224.55 253.36,221.82 254.27,218.18 256.09,214.55 259.73,213.64 263.36,210.91 265.18,205.45 270.09,200.36 275.91,200.36 277.36,191.64 279.55,189.45 283.91,186.55 288.27,185.82 294.09,185.09 294.82,183.64 302.82,182.91 314.45,182.18 317.36,180.73 326.09,180.00 340.64,177.09" fill="none" stroke="#f6cf4e" stroke-width="1.15" stroke-linejoin="miter"/>
<polyline points="228.82,264.55 230.64,261.82 232.45,253.64 234.27,251.82 237.00,251.82 237.45,244.55 239.27,240.91 240.64,236.36 242.91,231.82 246.09,230.00 247.45,227.27 250.64,225.45 252.45,222.73 254.27,218.18 256.09,215.45 259.73,215.00 262.91,211.82 263.36,207.27 267.18,203.27 270.82,202.55 275.18,202.55 278.09,198.18 281.00,196.73 282.45,193.82 285.36,190.18 294.82,190.18 295.55,185.82 304.27,185.82 313.73,184.36 324.64,182.91 329.00,180.73 340.64,177.09" fill="none" stroke="#f27a68" stroke-width="1.15" stroke-linejoin="miter"/>
<rect x="225.30" y="173.40" width="119.30" height="93.40" fill="none" stroke="#5e5e5e" stroke-width="0.9"/>
<line x1="220.90" y1="263.50" x2="225.30" y2="263.50" stroke="#5e5e5e" stroke-width="0.9"/>
<text x="214.50" y="263.50" font-size="7.3" text-anchor="middle" class="r" fill="#222" transform="rotate(-90 214.50 263.50)">0.0</text>
<line x1="229.00" y1="266.80" x2="229.00" y2="271.00" stroke="#5e5e5e" stroke-width="0.9"/>
<text x="229.00" y="282.70" font-size="7.2" text-anchor="middle" class="r" fill="#222">0.0</text>
<line x1="220.90" y1="246.26" x2="225.30" y2="246.26" stroke="#5e5e5e" stroke-width="0.9"/>
<text x="214.50" y="246.26" font-size="7.3" text-anchor="middle" class="r" fill="#222" transform="rotate(-90 214.50 246.26)">0.2</text>
<line x1="251.32" y1="266.80" x2="251.32" y2="271.00" stroke="#5e5e5e" stroke-width="0.9"/>
<text x="251.32" y="282.70" font-size="7.2" text-anchor="middle" class="r" fill="#222">0.2</text>
<line x1="220.90" y1="229.02" x2="225.30" y2="229.02" stroke="#5e5e5e" stroke-width="0.9"/>
<text x="214.50" y="229.02" font-size="7.3" text-anchor="middle" class="r" fill="#222" transform="rotate(-90 214.50 229.02)">0.4</text>
<line x1="273.64" y1="266.80" x2="273.64" y2="271.00" stroke="#5e5e5e" stroke-width="0.9"/>
<text x="273.64" y="282.70" font-size="7.2" text-anchor="middle" class="r" fill="#222">0.4</text>
<line x1="220.90" y1="211.78" x2="225.30" y2="211.78" stroke="#5e5e5e" stroke-width="0.9"/>
<text x="214.50" y="211.78" font-size="7.3" text-anchor="middle" class="r" fill="#222" transform="rotate(-90 214.50 211.78)">0.6</text>
<line x1="295.96" y1="266.80" x2="295.96" y2="271.00" stroke="#5e5e5e" stroke-width="0.9"/>
<text x="295.96" y="282.70" font-size="7.2" text-anchor="middle" class="r" fill="#222">0.6</text>
<line x1="220.90" y1="194.54" x2="225.30" y2="194.54" stroke="#5e5e5e" stroke-width="0.9"/>
<text x="214.50" y="194.54" font-size="7.3" text-anchor="middle" class="r" fill="#222" transform="rotate(-90 214.50 194.54)">0.8</text>
<line x1="318.28" y1="266.80" x2="318.28" y2="271.00" stroke="#5e5e5e" stroke-width="0.9"/>
<text x="318.28" y="282.70" font-size="7.2" text-anchor="middle" class="r" fill="#222">0.8</text>
<line x1="220.90" y1="177.30" x2="225.30" y2="177.30" stroke="#5e5e5e" stroke-width="0.9"/>
<text x="214.50" y="177.30" font-size="7.3" text-anchor="middle" class="r" fill="#222" transform="rotate(-90 214.50 177.30)">1.0</text>
<line x1="340.60" y1="266.80" x2="340.60" y2="271.00" stroke="#5e5e5e" stroke-width="0.9"/>
<text x="340.60" y="282.70" font-size="7.2" text-anchor="middle" class="r" fill="#222">1.0</text>
<text x="285.45" y="299.80" font-size="7.1" text-anchor="middle" class="r" fill="#222">1−Specificity</text>
<text x="197.80" y="220.10" font-size="7.1" text-anchor="middle" class="r" fill="#222" transform="rotate(-90 197.80 220.10)">Sensitivity</text>
<line x1="251.20" y1="240.90" x2="265.00" y2="240.90" stroke="#3f8ad8" stroke-width="1.1"/>
<text x="271.20" y="243.40" font-size="7.2" text-anchor="start" class="r" fill="#222">AUC at 1 years: 0.713</text>
<line x1="251.20" y1="249.60" x2="265.00" y2="249.60" stroke="#f6cf4e" stroke-width="1.1"/>
<text x="271.20" y="252.10" font-size="7.2" text-anchor="start" class="r" fill="#222">AUC at 3 years: 0.722</text>
<line x1="251.20" y1="258.30" x2="265.00" y2="258.30" stroke="#f27a68" stroke-width="1.1"/>
<text x="271.20" y="260.80" font-size="7.2" text-anchor="start" class="r" fill="#222">AUC at 5 years: 0.702</text>
<line x1="414.00" y1="263.50" x2="525.60" y2="177.30" stroke="#444" stroke-width="0.9" stroke-dasharray="2.2,2.2"/>
<polyline points="414.00,263.50 426.28,263.50 426.28,232.81 429.85,232.81 429.85,206.87 443.57,206.87 443.57,190.23 481.85,190.23 481.85,177.30 525.60,177.30" fill="none" stroke="#3f8ad8" stroke-width="1.15" stroke-linejoin="miter"/>
<polyline points="414.00,263.50 414.00,215.23 442.79,215.23 442.79,208.33 457.08,208.33 457.08,192.82 484.98,192.82 484.98,177.30 525.60,177.30" fill="none" stroke="#f6cf4e" stroke-width="1.15" stroke-linejoin="miter"/>
<polyline points="414.00,263.50 414.00,192.82 525.60,192.82 525.60,177.30" fill="none" stroke="#f27a68" stroke-width="1.15" stroke-linejoin="miter"/>
<rect x="410.20" y="173.40" width="119.40" height="93.40" fill="none" stroke="#5e5e5e" stroke-width="0.9"/>
<line x1="405.80" y1="263.50" x2="410.20" y2="263.50" stroke="#5e5e5e" stroke-width="0.9"/>
<text x="399.40" y="263.50" font-size="7.3" text-anchor="middle" class="r" fill="#222" transform="rotate(-90 399.40 263.50)">0.0</text>
<line x1="414.00" y1="266.80" x2="414.00" y2="271.00" stroke="#5e5e5e" stroke-width="0.9"/>
<text x="414.00" y="282.70" font-size="7.2" text-anchor="middle" class="r" fill="#222">0.0</text>
<line x1="405.80" y1="246.26" x2="410.20" y2="246.26" stroke="#5e5e5e" stroke-width="0.9"/>
<text x="399.40" y="246.26" font-size="7.3" text-anchor="middle" class="r" fill="#222" transform="rotate(-90 399.40 246.26)">0.2</text>
<line x1="436.32" y1="266.80" x2="436.32" y2="271.00" stroke="#5e5e5e" stroke-width="0.9"/>
<text x="436.32" y="282.70" font-size="7.2" text-anchor="middle" class="r" fill="#222">0.2</text>
<line x1="405.80" y1="229.02" x2="410.20" y2="229.02" stroke="#5e5e5e" stroke-width="0.9"/>
<text x="399.40" y="229.02" font-size="7.3" text-anchor="middle" class="r" fill="#222" transform="rotate(-90 399.40 229.02)">0.4</text>
<line x1="458.64" y1="266.80" x2="458.64" y2="271.00" stroke="#5e5e5e" stroke-width="0.9"/>
<text x="458.64" y="282.70" font-size="7.2" text-anchor="middle" class="r" fill="#222">0.4</text>
<line x1="405.80" y1="211.78" x2="410.20" y2="211.78" stroke="#5e5e5e" stroke-width="0.9"/>
<text x="399.40" y="211.78" font-size="7.3" text-anchor="middle" class="r" fill="#222" transform="rotate(-90 399.40 211.78)">0.6</text>
<line x1="480.96" y1="266.80" x2="480.96" y2="271.00" stroke="#5e5e5e" stroke-width="0.9"/>
<text x="480.96" y="282.70" font-size="7.2" text-anchor="middle" class="r" fill="#222">0.6</text>
<line x1="405.80" y1="194.54" x2="410.20" y2="194.54" stroke="#5e5e5e" stroke-width="0.9"/>
<text x="399.40" y="194.54" font-size="7.3" text-anchor="middle" class="r" fill="#222" transform="rotate(-90 399.40 194.54)">0.8</text>
<line x1="503.28" y1="266.80" x2="503.28" y2="271.00" stroke="#5e5e5e" stroke-width="0.9"/>
<text x="503.28" y="282.70" font-size="7.2" text-anchor="middle" class="r" fill="#222">0.8</text>
<line x1="405.80" y1="177.30" x2="410.20" y2="177.30" stroke="#5e5e5e" stroke-width="0.9"/>
<text x="399.40" y="177.30" font-size="7.3" text-anchor="middle" class="r" fill="#222" transform="rotate(-90 399.40 177.30)">1.0</text>
<line x1="525.60" y1="266.80" x2="525.60" y2="271.00" stroke="#5e5e5e" stroke-width="0.9"/>
<text x="525.60" y="282.70" font-size="7.2" text-anchor="middle" class="r" fill="#222">1.0</text>
<text x="470.40" y="299.80" font-size="7.1" text-anchor="middle" class="r" fill="#222">1−Specificity</text>
<text x="382.70" y="220.10" font-size="7.1" text-anchor="middle" class="r" fill="#222" transform="rotate(-90 382.70 220.10)">Sensitivity</text>
<line x1="436.20" y1="240.90" x2="450.00" y2="240.90" stroke="#3f8ad8" stroke-width="1.1"/>
<text x="456.20" y="243.40" font-size="7.2" text-anchor="start" class="r" fill="#222">AUC at 1 years: 0.770</text>
<line x1="436.20" y1="249.60" x2="450.00" y2="249.60" stroke="#f6cf4e" stroke-width="1.1"/>
<text x="456.20" y="252.10" font-size="7.2" text-anchor="start" class="r" fill="#222">AUC at 2 years: 0.793</text>
<line x1="436.20" y1="258.30" x2="450.00" y2="258.30" stroke="#f27a68" stroke-width="1.1"/>
<text x="456.20" y="260.80" font-size="7.2" text-anchor="start" class="r" fill="#222">AUC at 3 years: 0.815</text>
<line x1="89.92" y1="311.80" x2="89.92" y2="345.30" stroke="#555" stroke-width="0.7" stroke-dasharray="1,1.2"/>
<line x1="89.92" y1="342.70" x2="166.10" y2="342.70" stroke="#555" stroke-width="0.7" stroke-dasharray="1,1.2"/>
<circle cx="33.40" cy="345.10" r="0.95" fill="#1f78c8"/>
<circle cx="33.90" cy="344.20" r="0.95" fill="#1f78c8"/>
<circle cx="34.41" cy="343.60" r="0.95" fill="#1f78c8"/>
<circle cx="34.91" cy="343.50" r="0.95" fill="#1f78c8"/>
<circle cx="35.41" cy="343.40" r="0.95" fill="#1f78c8"/>
<circle cx="35.91" cy="343.40" r="0.95" fill="#1f78c8"/>
<circle cx="36.42" cy="343.39" r="0.95" fill="#1f78c8"/>
<circle cx="36.92" cy="343.39" r="0.95" fill="#1f78c8"/>
<circle cx="37.42" cy="343.38" r="0.95" fill="#1f78c8"/>
<circle cx="37.92" cy="343.38" r="0.95" fill="#1f78c8"/>
<circle cx="38.43" cy="343.37" r="0.95" fill="#1f78c8"/>
<circle cx="38.93" cy="343.37" r="0.95" fill="#1f78c8"/>
<circle cx="39.43" cy="343.36" r="0.95" fill="#1f78c8"/>
<circle cx="39.93" cy="343.36" r="0.95" fill="#1f78c8"/>
<circle cx="40.44" cy="343.35" r="0.95" fill="#1f78c8"/>
<circle cx="40.94" cy="343.35" r="0.95" fill="#1f78c8"/>
<circle cx="41.44" cy="343.34" r="0.95" fill="#1f78c8"/>
<circle cx="41.94" cy="343.34" r="0.95" fill="#1f78c8"/>
<circle cx="42.45" cy="343.33" r="0.95" fill="#1f78c8"/>
<circle cx="42.95" cy="343.33" r="0.95" fill="#1f78c8"/>
<circle cx="43.45" cy="343.32" r="0.95" fill="#1f78c8"/>
<circle cx="43.95" cy="343.32" r="0.95" fill="#1f78c8"/>
<circle cx="44.46" cy="343.31" r="0.95" fill="#1f78c8"/>
<circle cx="44.96" cy="343.31" r="0.95" fill="#1f78c8"/>
<circle cx="45.46" cy="343.30" r="0.95" fill="#1f78c8"/>
<circle cx="45.96" cy="343.30" r="0.95" fill="#1f78c8"/>
<circle cx="46.46" cy="343.29" r="0.95" fill="#1f78c8"/>
<circle cx="46.97" cy="343.29" r="0.95" fill="#1f78c8"/>
<circle cx="47.47" cy="343.28" r="0.95" fill="#1f78c8"/>
<circle cx="47.97" cy="343.28" r="0.95" fill="#1f78c8"/>
<circle cx="48.47" cy="343.27" r="0.95" fill="#1f78c8"/>
<circle cx="48.98" cy="343.27" r="0.95" fill="#1f78c8"/>
<circle cx="49.48" cy="343.26" r="0.95" fill="#1f78c8"/>
<circle cx="49.98" cy="343.26" r="0.95" fill="#1f78c8"/>
<circle cx="50.48" cy="343.25" r="0.95" fill="#1f78c8"/>
<circle cx="50.99" cy="343.25" r="0.95" fill="#1f78c8"/>
<circle cx="51.49" cy="343.24" r="0.95" fill="#1f78c8"/>
<circle cx="51.99" cy="343.24" r="0.95" fill="#1f78c8"/>
<circle cx="52.49" cy="343.24" r="0.95" fill="#1f78c8"/>
<circle cx="53.00" cy="343.23" r="0.95" fill="#1f78c8"/>
<circle cx="53.50" cy="343.23" r="0.95" fill="#1f78c8"/>
<circle cx="54.00" cy="343.22" r="0.95" fill="#1f78c8"/>
<circle cx="54.50" cy="343.22" r="0.95" fill="#1f78c8"/>
<circle cx="55.01" cy="343.21" r="0.95" fill="#1f78c8"/>
<circle cx="55.51" cy="343.21" r="0.95" fill="#1f78c8"/>
<circle cx="56.01" cy="343.20" r="0.95" fill="#1f78c8"/>
<circle cx="56.51" cy="343.20" r="0.95" fill="#1f78c8"/>
<circle cx="57.02" cy="343.19" r="0.95" fill="#1f78c8"/>
<circle cx="57.52" cy="343.19" r="0.95" fill="#1f78c8"/>
<circle cx="58.02" cy="343.18" r="0.95" fill="#1f78c8"/>
<circle cx="58.52" cy="343.18" r="0.95" fill="#1f78c8"/>
<circle cx="59.02" cy="343.17" r="0.95" fill="#1f78c8"/>
<circle cx="59.53" cy="343.17" r="0.95" fill="#1f78c8"/>
<circle cx="60.03" cy="343.16" r="0.95" fill="#1f78c8"/>
<circle cx="60.53" cy="343.16" r="0.95" fill="#1f78c8"/>
<circle cx="61.03" cy="343.15" r="0.95" fill="#1f78c8"/>
<circle cx="61.54" cy="343.15" r="0.95" fill="#1f78c8"/>
<circle cx="62.04" cy="343.14" r="0.95" fill="#1f78c8"/>
<circle cx="62.54" cy="343.14" r="0.95" fill="#1f78c8"/>
<circle cx="63.04" cy="343.13" r="0.95" fill="#1f78c8"/>
<circle cx="63.55" cy="343.13" r="0.95" fill="#1f78c8"/>
<circle cx="64.05" cy="343.12" r="0.95" fill="#1f78c8"/>
<circle cx="64.55" cy="343.12" r="0.95" fill="#1f78c8"/>
<circle cx="65.05" cy="343.11" r="0.95" fill="#1f78c8"/>
<circle cx="65.56" cy="343.11" r="0.95" fill="#1f78c8"/>
<circle cx="66.06" cy="343.10" r="0.95" fill="#1f78c8"/>
<circle cx="66.56" cy="343.10" r="0.95" fill="#1f78c8"/>
<circle cx="67.06" cy="343.09" r="0.95" fill="#1f78c8"/>
<circle cx="67.57" cy="343.09" r="0.95" fill="#1f78c8"/>
<circle cx="68.07" cy="343.08" r="0.95" fill="#1f78c8"/>
<circle cx="68.57" cy="343.08" r="0.95" fill="#1f78c8"/>
<circle cx="69.07" cy="343.07" r="0.95" fill="#1f78c8"/>
<circle cx="69.58" cy="343.07" r="0.95" fill="#1f78c8"/>
<circle cx="70.08" cy="343.06" r="0.95" fill="#1f78c8"/>
<circle cx="70.58" cy="343.06" r="0.95" fill="#1f78c8"/>
<circle cx="71.08" cy="343.05" r="0.95" fill="#1f78c8"/>
<circle cx="71.58" cy="343.05" r="0.95" fill="#1f78c8"/>
<circle cx="72.09" cy="343.04" r="0.95" fill="#1f78c8"/>
<circle cx="72.59" cy="343.04" r="0.95" fill="#1f78c8"/>
<circle cx="73.09" cy="343.03" r="0.95" fill="#1f78c8"/>
<circle cx="73.59" cy="343.03" r="0.95" fill="#1f78c8"/>
<circle cx="74.10" cy="343.02" r="0.95" fill="#1f78c8"/>
<circle cx="74.60" cy="343.02" r="0.95" fill="#1f78c8"/>
<circle cx="75.10" cy="343.01" r="0.95" fill="#1f78c8"/>
<circle cx="75.60" cy="343.01" r="0.95" fill="#1f78c8"/>
<circle cx="76.11" cy="343.00" r="0.95" fill="#1f78c8"/>
<circle cx="76.61" cy="343.00" r="0.95" fill="#1f78c8"/>
<circle cx="77.11" cy="342.99" r="0.95" fill="#1f78c8"/>
<circle cx="77.61" cy="342.99" r="0.95" fill="#1f78c8"/>
<circle cx="78.12" cy="342.98" r="0.95" fill="#1f78c8"/>
<circle cx="78.62" cy="342.98" r="0.95" fill="#1f78c8"/>
<circle cx="79.12" cy="342.97" r="0.95" fill="#1f78c8"/>
<circle cx="79.62" cy="342.97" r="0.95" fill="#1f78c8"/>
<circle cx="80.13" cy="342.96" r="0.95" fill="#1f78c8"/>
<circle cx="80.63" cy="342.96" r="0.95" fill="#1f78c8"/>
<circle cx="81.13" cy="342.95" r="0.95" fill="#1f78c8"/>
<circle cx="81.63" cy="342.95" r="0.95" fill="#1f78c8"/>
<circle cx="82.14" cy="342.94" r="0.95" fill="#1f78c8"/>
<circle cx="82.64" cy="342.94" r="0.95" fill="#1f78c8"/>
<circle cx="83.14" cy="342.93" r="0.95" fill="#1f78c8"/>
<circle cx="83.64" cy="342.93" r="0.95" fill="#1f78c8"/>
<circle cx="84.14" cy="342.92" r="0.95" fill="#1f78c8"/>
<circle cx="84.65" cy="342.92" r="0.95" fill="#1f78c8"/>
<circle cx="85.15" cy="342.91" r="0.95" fill="#1f78c8"/>
<circle cx="85.65" cy="342.91" r="0.95" fill="#1f78c8"/>
<circle cx="86.15" cy="342.90" r="0.95" fill="#1f78c8"/>
<circle cx="86.66" cy="342.90" r="0.95" fill="#1f78c8"/>
<circle cx="87.16" cy="342.89" r="0.95" fill="#1f78c8"/>
<circle cx="87.66" cy="342.89" r="0.95" fill="#1f78c8"/>
<circle cx="88.16" cy="342.88" r="0.95" fill="#1f78c8"/>
<circle cx="88.67" cy="342.88" r="0.95" fill="#1f78c8"/>
<circle cx="89.17" cy="342.87" r="0.95" fill="#1f78c8"/>
<circle cx="89.67" cy="342.87" r="0.95" fill="#1f78c8"/>
<circle cx="90.17" cy="342.87" r="0.95" fill="#f2b51d"/>
<circle cx="90.68" cy="342.86" r="0.95" fill="#f2b51d"/>
<circle cx="91.18" cy="342.86" r="0.95" fill="#f2b51d"/>
<circle cx="91.68" cy="342.86" r="0.95" fill="#f2b51d"/>
<circle cx="92.18" cy="342.85" r="0.95" fill="#f2b51d"/>
<circle cx="92.69" cy="342.85" r="0.95" fill="#f2b51d"/>
<circle cx="93.19" cy="342.85" r="0.95" fill="#f2b51d"/>
<circle cx="93.69" cy="342.85" r="0.95" fill="#f2b51d"/>
<circle cx="94.19" cy="342.84" r="0.95" fill="#f2b51d"/>
<circle cx="94.70" cy="342.84" r="0.95" fill="#f2b51d"/>
<circle cx="95.20" cy="342.84" r="0.95" fill="#f2b51d"/>
<circle cx="95.70" cy="342.83" r="0.95" fill="#f2b51d"/>
<circle cx="96.20" cy="342.83" r="0.95" fill="#f2b51d"/>
<circle cx="96.70" cy="342.83" r="0.95" fill="#f2b51d"/>
<circle cx="97.21" cy="342.82" r="0.95" fill="#f2b51d"/>
<circle cx="97.71" cy="342.82" r="0.95" fill="#f2b51d"/>
<circle cx="98.21" cy="342.82" r="0.95" fill="#f2b51d"/>
<circle cx="98.71" cy="342.81" r="0.95" fill="#f2b51d"/>
<circle cx="99.22" cy="342.81" r="0.95" fill="#f2b51d"/>
<circle cx="99.72" cy="342.81" r="0.95" fill="#f2b51d"/>
<circle cx="100.22" cy="342.81" r="0.95" fill="#f2b51d"/>
<circle cx="100.72" cy="342.80" r="0.95" fill="#f2b51d"/>
<circle cx="101.23" cy="342.80" r="0.95" fill="#f2b51d"/>
<circle cx="101.73" cy="342.80" r="0.95" fill="#f2b51d"/>
<circle cx="102.23" cy="342.79" r="0.95" fill="#f2b51d"/>
<circle cx="102.73" cy="342.79" r="0.95" fill="#f2b51d"/>
<circle cx="103.24" cy="342.79" r="0.95" fill="#f2b51d"/>
<circle cx="103.74" cy="342.78" r="0.95" fill="#f2b51d"/>
<circle cx="104.24" cy="342.78" r="0.95" fill="#f2b51d"/>
<circle cx="104.74" cy="342.78" r="0.95" fill="#f2b51d"/>
<circle cx="105.25" cy="342.78" r="0.95" fill="#f2b51d"/>
<circle cx="105.75" cy="342.77" r="0.95" fill="#f2b51d"/>
<circle cx="106.25" cy="342.77" r="0.95" fill="#f2b51d"/>
<circle cx="106.75" cy="342.77" r="0.95" fill="#f2b51d"/>
<circle cx="107.26" cy="342.76" r="0.95" fill="#f2b51d"/>
<circle cx="107.76" cy="342.76" r="0.95" fill="#f2b51d"/>
<circle cx="108.26" cy="342.76" r="0.95" fill="#f2b51d"/>
<circle cx="108.76" cy="342.75" r="0.95" fill="#f2b51d"/>
<circle cx="109.26" cy="342.75" r="0.95" fill="#f2b51d"/>
<circle cx="109.77" cy="342.75" r="0.95" fill="#f2b51d"/>
<circle cx="110.27" cy="342.74" r="0.95" fill="#f2b51d"/>
<circle cx="110.77" cy="342.74" r="0.95" fill="#f2b51d"/>
<circle cx="111.27" cy="342.74" r="0.95" fill="#f2b51d"/>
<circle cx="111.78" cy="342.74" r="0.95" fill="#f2b51d"/>
<circle cx="112.28" cy="342.73" r="0.95" fill="#f2b51d"/>
<circle cx="112.78" cy="342.73" r="0.95" fill="#f2b51d"/>
<circle cx="113.28" cy="342.73" r="0.95" fill="#f2b51d"/>
<circle cx="113.79" cy="342.72" r="0.95" fill="#f2b51d"/>
<circle cx="114.29" cy="342.72" r="0.95" fill="#f2b51d"/>
<circle cx="114.79" cy="342.72" r="0.95" fill="#f2b51d"/>
<circle cx="115.29" cy="342.71" r="0.95" fill="#f2b51d"/>
<circle cx="115.80" cy="342.71" r="0.95" fill="#f2b51d"/>
<circle cx="116.30" cy="342.71" r="0.95" fill="#f2b51d"/>
<circle cx="116.80" cy="342.70" r="0.95" fill="#f2b51d"/>
<circle cx="117.30" cy="342.70" r="0.95" fill="#f2b51d"/>
<circle cx="117.81" cy="342.70" r="0.95" fill="#f2b51d"/>
<circle cx="118.31" cy="342.70" r="0.95" fill="#f2b51d"/>
<circle cx="118.81" cy="342.69" r="0.95" fill="#f2b51d"/>
<circle cx="119.31" cy="342.69" r="0.95" fill="#f2b51d"/>
<circle cx="119.82" cy="342.69" r="0.95" fill="#f2b51d"/>
<circle cx="120.32" cy="342.68" r="0.95" fill="#f2b51d"/>
<circle cx="120.82" cy="342.68" r="0.95" fill="#f2b51d"/>
<circle cx="121.32" cy="342.68" r="0.95" fill="#f2b51d"/>
<circle cx="121.82" cy="342.67" r="0.95" fill="#f2b51d"/>
<circle cx="122.33" cy="342.67" r="0.95" fill="#f2b51d"/>
<circle cx="122.83" cy="342.67" r="0.95" fill="#f2b51d"/>
<circle cx="123.33" cy="342.66" r="0.95" fill="#f2b51d"/>
<circle cx="123.83" cy="342.66" r="0.95" fill="#f2b51d"/>
<circle cx="124.34" cy="342.66" r="0.95" fill="#f2b51d"/>
<circle cx="124.84" cy="342.66" r="0.95" fill="#f2b51d"/>
<circle cx="125.34" cy="342.65" r="0.95" fill="#f2b51d"/>
<circle cx="125.84" cy="342.65" r="0.95" fill="#f2b51d"/>
<circle cx="126.35" cy="342.65" r="0.95" fill="#f2b51d"/>
<circle cx="126.85" cy="342.64" r="0.95" fill="#f2b51d"/>
<circle cx="127.35" cy="342.64" r="0.95" fill="#f2b51d"/>
<circle cx="127.85" cy="342.64" r="0.95" fill="#f2b51d"/>
<circle cx="128.36" cy="342.63" r="0.95" fill="#f2b51d"/>
<circle cx="128.86" cy="342.63" r="0.95" fill="#f2b51d"/>
<circle cx="129.36" cy="342.63" r="0.95" fill="#f2b51d"/>
<circle cx="129.86" cy="342.63" r="0.95" fill="#f2b51d"/>
<circle cx="130.37" cy="342.62" r="0.95" fill="#f2b51d"/>
<circle cx="130.87" cy="342.62" r="0.95" fill="#f2b51d"/>
<circle cx="131.37" cy="342.62" r="0.95" fill="#f2b51d"/>
<circle cx="131.87" cy="342.61" r="0.95" fill="#f2b51d"/>
<circle cx="132.38" cy="342.61" r="0.95" fill="#f2b51d"/>
<circle cx="132.88" cy="342.61" r="0.95" fill="#f2b51d"/>
<circle cx="133.38" cy="342.60" r="0.95" fill="#f2b51d"/>
<circle cx="133.88" cy="342.59" r="0.95" fill="#f2b51d"/>
<circle cx="134.38" cy="342.57" r="0.95" fill="#f2b51d"/>
<circle cx="134.89" cy="342.56" r="0.95" fill="#f2b51d"/>
<circle cx="135.39" cy="342.54" r="0.95" fill="#f2b51d"/>
<circle cx="135.89" cy="342.52" r="0.95" fill="#f2b51d"/>
<circle cx="136.39" cy="342.51" r="0.95" fill="#f2b51d"/>
<circle cx="136.90" cy="342.49" r="0.95" fill="#f2b51d"/>
<circle cx="137.40" cy="342.48" r="0.95" fill="#f2b51d"/>
<circle cx="137.90" cy="342.46" r="0.95" fill="#f2b51d"/>
<circle cx="138.40" cy="342.44" r="0.95" fill="#f2b51d"/>
<circle cx="138.91" cy="342.43" r="0.95" fill="#f2b51d"/>
<circle cx="139.41" cy="342.41" r="0.95" fill="#f2b51d"/>
<circle cx="139.91" cy="342.40" r="0.95" fill="#f2b51d"/>
<circle cx="140.41" cy="342.38" r="0.95" fill="#f2b51d"/>
<circle cx="140.92" cy="342.36" r="0.95" fill="#f2b51d"/>
<circle cx="141.42" cy="342.35" r="0.95" fill="#f2b51d"/>
<circle cx="141.92" cy="342.33" r="0.95" fill="#f2b51d"/>
<circle cx="142.42" cy="342.32" r="0.95" fill="#f2b51d"/>
<circle cx="142.93" cy="342.30" r="0.95" fill="#f2b51d"/>
<circle cx="143.43" cy="342.28" r="0.95" fill="#f2b51d"/>
<circle cx="143.93" cy="342.27" r="0.95" fill="#f2b51d"/>
<circle cx="144.43" cy="342.25" r="0.95" fill="#f2b51d"/>
<circle cx="144.94" cy="342.24" r="0.95" fill="#f2b51d"/>
<circle cx="145.44" cy="342.22" r="0.95" fill="#f2b51d"/>
<circle cx="145.94" cy="342.20" r="0.95" fill="#f2b51d"/>
<circle cx="146.44" cy="342.12" r="0.95" fill="#f2b51d"/>
<circle cx="146.94" cy="342.04" r="0.95" fill="#f2b51d"/>
<circle cx="147.45" cy="341.96" r="0.95" fill="#f2b51d"/>
<circle cx="147.95" cy="341.88" r="0.95" fill="#f2b51d"/>
<circle cx="148.45" cy="341.80" r="0.95" fill="#f2b51d"/>
<circle cx="148.95" cy="341.71" r="0.95" fill="#f2b51d"/>
<circle cx="149.46" cy="341.63" r="0.95" fill="#f2b51d"/>
<circle cx="149.96" cy="341.55" r="0.95" fill="#f2b51d"/>
<circle cx="150.46" cy="341.47" r="0.95" fill="#f2b51d"/>
<circle cx="150.96" cy="341.39" r="0.95" fill="#f2b51d"/>
<circle cx="151.47" cy="341.30" r="0.95" fill="#f2b51d"/>
<circle cx="151.97" cy="341.06" r="0.95" fill="#f2b51d"/>
<circle cx="152.47" cy="340.82" r="0.95" fill="#f2b51d"/>
<circle cx="152.97" cy="340.58" r="0.95" fill="#f2b51d"/>
<circle cx="153.48" cy="340.33" r="0.95" fill="#f2b51d"/>
<circle cx="153.98" cy="340.09" r="0.95" fill="#f2b51d"/>
<circle cx="154.48" cy="339.85" r="0.95" fill="#f2b51d"/>
<circle cx="154.98" cy="339.61" r="0.95" fill="#f2b51d"/>
<circle cx="155.49" cy="339.15" r="0.95" fill="#f2b51d"/>
<circle cx="155.99" cy="338.70" r="0.95" fill="#f2b51d"/>
<circle cx="156.49" cy="338.24" r="0.95" fill="#f2b51d"/>
<circle cx="156.99" cy="337.79" r="0.95" fill="#f2b51d"/>
<circle cx="157.50" cy="337.33" r="0.95" fill="#f2b51d"/>
<circle cx="158.00" cy="336.88" r="0.95" fill="#f2b51d"/>
<circle cx="158.50" cy="335.99" r="0.95" fill="#f2b51d"/>
<circle cx="159.00" cy="335.10" r="0.95" fill="#f2b51d"/>
<circle cx="159.50" cy="334.21" r="0.95" fill="#f2b51d"/>
<circle cx="160.01" cy="331.21" r="0.95" fill="#f2b51d"/>
<circle cx="160.51" cy="319.89" r="0.95" fill="#f2b51d"/>
<circle cx="161.01" cy="312.90" r="0.95" fill="#f2b51d"/>
<rect x="28.30" y="311.80" width="137.80" height="33.50" fill="none" stroke="#8f8f8f" stroke-width="1.15"/>
<line x1="25.30" y1="312.90" x2="28.30" y2="312.90" stroke="#6a6a6a" stroke-width="0.8"/>
<text x="22.00" y="312.90" font-size="4.4" text-anchor="middle" fill="#222" transform="rotate(-90 22.00 312.90)">10</text>
<line x1="25.30" y1="319.56" x2="28.30" y2="319.56" stroke="#6a6a6a" stroke-width="0.8"/>
<line x1="25.30" y1="326.22" x2="28.30" y2="326.22" stroke="#6a6a6a" stroke-width="0.8"/>
<text x="22.00" y="326.22" font-size="4.4" text-anchor="middle" fill="#222" transform="rotate(-90 22.00 326.22)">6</text>
<line x1="25.30" y1="332.88" x2="28.30" y2="332.88" stroke="#6a6a6a" stroke-width="0.8"/>
<line x1="25.30" y1="339.54" x2="28.30" y2="339.54" stroke="#6a6a6a" stroke-width="0.8"/>
<text x="22.00" y="339.54" font-size="4.4" text-anchor="middle" fill="#222" transform="rotate(-90 22.00 339.54)">2</text>
<line x1="32.90" y1="345.30" x2="32.90" y2="347.90" stroke="#6a6a6a" stroke-width="0.8"/>
<text x="32.90" y="355.60" font-size="4.9" text-anchor="middle" class="s" fill="#222">0</text>
<line x1="58.02" y1="345.30" x2="58.02" y2="347.90" stroke="#6a6a6a" stroke-width="0.8"/>
<text x="58.02" y="355.60" font-size="4.9" text-anchor="middle" class="s" fill="#222">50</text>
<line x1="83.14" y1="345.30" x2="83.14" y2="347.90" stroke="#6a6a6a" stroke-width="0.8"/>
<text x="83.14" y="355.60" font-size="4.9" text-anchor="middle" class="s" fill="#222">100</text>
<line x1="108.26" y1="345.30" x2="108.26" y2="347.90" stroke="#6a6a6a" stroke-width="0.8"/>
<text x="108.26" y="355.60" font-size="4.9" text-anchor="middle" class="s" fill="#222">150</text>
<line x1="133.38" y1="345.30" x2="133.38" y2="347.90" stroke="#6a6a6a" stroke-width="0.8"/>
<text x="133.38" y="355.60" font-size="4.9" text-anchor="middle" class="s" fill="#222">200</text>
<line x1="158.50" y1="345.30" x2="158.50" y2="347.90" stroke="#6a6a6a" stroke-width="0.8"/>
<text x="158.50" y="355.60" font-size="4.9" text-anchor="middle" class="s" fill="#222">250</text>
<text x="97.20" y="368.10" font-size="4.75" text-anchor="middle" class="s" fill="#222">Patients (increasing risk score)</text>
<text x="8.80" y="328.55" font-size="4.75" text-anchor="middle" class="s" fill="#222" transform="rotate(-90 8.80 328.55)">Risk score</text>
<line x1="89.92" y1="379.10" x2="89.92" y2="412.40" stroke="#555" stroke-width="0.7" stroke-dasharray="1,1.2"/>
<circle cx="33.40" cy="392.71" r="1.2" fill="#1f78c8"/>
<circle cx="33.90" cy="389.71" r="1.2" fill="#1f78c8"/>
<circle cx="34.41" cy="394.78" r="1.2" fill="#f2b51d"/>
<circle cx="34.91" cy="407.98" r="1.2" fill="#1f78c8"/>
<circle cx="35.41" cy="398.65" r="1.2" fill="#1f78c8"/>
<circle cx="35.91" cy="396.98" r="1.2" fill="#1f78c8"/>
<circle cx="36.42" cy="407.73" r="1.2" fill="#1f78c8"/>
<circle cx="36.92" cy="393.19" r="1.2" fill="#1f78c8"/>
<circle cx="37.42" cy="385.70" r="1.2" fill="#1f78c8"/>
<circle cx="37.92" cy="388.29" r="1.2" fill="#1f78c8"/>
<circle cx="38.43" cy="388.79" r="1.2" fill="#1f78c8"/>
<circle cx="38.93" cy="406.66" r="1.2" fill="#1f78c8"/>
<circle cx="39.43" cy="388.66" r="1.2" fill="#1f78c8"/>
<circle cx="39.93" cy="402.97" r="1.2" fill="#1f78c8"/>
<circle cx="40.44" cy="397.86" r="1.2" fill="#1f78c8"/>
<circle cx="40.94" cy="400.81" r="1.2" fill="#f2b51d"/>
<circle cx="41.44" cy="405.51" r="1.2" fill="#f2b51d"/>
<circle cx="41.94" cy="400.14" r="1.2" fill="#1f78c8"/>
<circle cx="42.45" cy="394.85" r="1.2" fill="#1f78c8"/>
<circle cx="42.95" cy="410.97" r="1.2" fill="#f2b51d"/>
<circle cx="43.45" cy="411.07" r="1.2" fill="#1f78c8"/>
<circle cx="43.95" cy="397.83" r="1.2" fill="#1f78c8"/>
<circle cx="44.46" cy="396.60" r="1.2" fill="#f2b51d"/>
<circle cx="44.96" cy="389.54" r="1.2" fill="#1f78c8"/>
<circle cx="45.46" cy="403.12" r="1.2" fill="#1f78c8"/>
<circle cx="45.96" cy="408.95" r="1.2" fill="#1f78c8"/>
<circle cx="46.46" cy="391.19" r="1.2" fill="#1f78c8"/>
<circle cx="46.97" cy="409.38" r="1.2" fill="#f2b51d"/>
<circle cx="47.47" cy="389.81" r="1.2" fill="#1f78c8"/>
<circle cx="47.97" cy="394.57" r="1.2" fill="#1f78c8"/>
<circle cx="48.47" cy="407.31" r="1.2" fill="#1f78c8"/>
<circle cx="48.98" cy="391.07" r="1.2" fill="#f2b51d"/>
<circle cx="49.48" cy="406.48" r="1.2" fill="#1f78c8"/>
<circle cx="49.98" cy="399.08" r="1.2" fill="#f2b51d"/>
<circle cx="50.48" cy="397.47" r="1.2" fill="#1f78c8"/>
<circle cx="50.99" cy="401.54" r="1.2" fill="#1f78c8"/>
<circle cx="51.49" cy="410.74" r="1.2" fill="#f2b51d"/>
<circle cx="51.99" cy="408.42" r="1.2" fill="#1f78c8"/>
<circle cx="52.49" cy="391.93" r="1.2" fill="#1f78c8"/>
<circle cx="53.00" cy="401.17" r="1.2" fill="#1f78c8"/>
<circle cx="53.50" cy="400.79" r="1.2" fill="#1f78c8"/>
<circle cx="54.00" cy="388.44" r="1.2" fill="#1f78c8"/>
<circle cx="54.50" cy="394.27" r="1.2" fill="#1f78c8"/>
<circle cx="55.01" cy="401.96" r="1.2" fill="#1f78c8"/>
<circle cx="55.51" cy="388.15" r="1.2" fill="#1f78c8"/>
<circle cx="56.01" cy="399.70" r="1.2" fill="#1f78c8"/>
<circle cx="56.51" cy="396.62" r="1.2" fill="#1f78c8"/>
<circle cx="57.02" cy="391.01" r="1.2" fill="#1f78c8"/>
<circle cx="57.52" cy="393.19" r="1.2" fill="#1f78c8"/>
<circle cx="58.02" cy="393.55" r="1.2" fill="#1f78c8"/>
<circle cx="58.52" cy="404.86" r="1.2" fill="#1f78c8"/>
<circle cx="59.02" cy="395.18" r="1.2" fill="#1f78c8"/>
<circle cx="59.53" cy="391.33" r="1.2" fill="#1f78c8"/>
<circle cx="60.03" cy="402.42" r="1.2" fill="#1f78c8"/>
<circle cx="60.53" cy="392.21" r="1.2" fill="#1f78c8"/>
<circle cx="61.03" cy="403.28" r="1.2" fill="#1f78c8"/>
<circle cx="61.54" cy="391.93" r="1.2" fill="#1f78c8"/>
<circle cx="62.04" cy="390.95" r="1.2" fill="#1f78c8"/>
<circle cx="62.54" cy="381.80" r="1.2" fill="#1f78c8"/>
<circle cx="63.04" cy="407.57" r="1.2" fill="#1f78c8"/>
<circle cx="63.55" cy="396.68" r="1.2" fill="#1f78c8"/>
<circle cx="64.05" cy="394.25" r="1.2" fill="#1f78c8"/>
<circle cx="64.55" cy="397.78" r="1.2" fill="#1f78c8"/>
<circle cx="65.05" cy="396.76" r="1.2" fill="#1f78c8"/>
<circle cx="65.56" cy="394.48" r="1.2" fill="#1f78c8"/>
<circle cx="66.06" cy="402.38" r="1.2" fill="#f2b51d"/>
<circle cx="66.56" cy="406.33" r="1.2" fill="#1f78c8"/>
<circle cx="67.06" cy="410.51" r="1.2" fill="#1f78c8"/>
<circle cx="67.57" cy="410.22" r="1.2" fill="#1f78c8"/>
<circle cx="68.07" cy="408.28" r="1.2" fill="#f2b51d"/>
<circle cx="68.57" cy="403.80" r="1.2" fill="#1f78c8"/>
<circle cx="69.07" cy="405.88" r="1.2" fill="#1f78c8"/>
<circle cx="69.58" cy="396.72" r="1.2" fill="#1f78c8"/>
<circle cx="70.08" cy="401.81" r="1.2" fill="#1f78c8"/>
<circle cx="70.58" cy="404.88" r="1.2" fill="#f2b51d"/>
<circle cx="71.08" cy="409.82" r="1.2" fill="#f2b51d"/>
<circle cx="71.58" cy="397.78" r="1.2" fill="#1f78c8"/>
<circle cx="72.09" cy="401.60" r="1.2" fill="#1f78c8"/>
<circle cx="72.59" cy="402.77" r="1.2" fill="#1f78c8"/>
<circle cx="73.09" cy="398.18" r="1.2" fill="#1f78c8"/>
<circle cx="73.59" cy="392.60" r="1.2" fill="#1f78c8"/>
<circle cx="74.10" cy="411.33" r="1.2" fill="#1f78c8"/>
<circle cx="74.60" cy="400.60" r="1.2" fill="#f2b51d"/>
<circle cx="75.10" cy="390.44" r="1.2" fill="#1f78c8"/>
<circle cx="75.60" cy="406.15" r="1.2" fill="#1f78c8"/>
<circle cx="76.11" cy="399.71" r="1.2" fill="#1f78c8"/>
<circle cx="76.61" cy="393.00" r="1.2" fill="#1f78c8"/>
<circle cx="77.11" cy="396.09" r="1.2" fill="#1f78c8"/>
<circle cx="77.61" cy="388.25" r="1.2" fill="#1f78c8"/>
<circle cx="78.12" cy="400.23" r="1.2" fill="#1f78c8"/>
<circle cx="78.62" cy="403.64" r="1.2" fill="#f2b51d"/>
<circle cx="79.12" cy="391.97" r="1.2" fill="#1f78c8"/>
<circle cx="79.62" cy="406.65" r="1.2" fill="#f2b51d"/>
<circle cx="80.13" cy="405.70" r="1.2" fill="#1f78c8"/>
<circle cx="80.63" cy="392.95" r="1.2" fill="#1f78c8"/>
<circle cx="81.13" cy="396.26" r="1.2" fill="#1f78c8"/>
<circle cx="81.63" cy="408.71" r="1.2" fill="#1f78c8"/>
<circle cx="82.14" cy="398.90" r="1.2" fill="#1f78c8"/>
<circle cx="82.64" cy="398.98" r="1.2" fill="#1f78c8"/>
<circle cx="83.14" cy="393.90" r="1.2" fill="#1f78c8"/>
<circle cx="83.64" cy="398.36" r="1.2" fill="#1f78c8"/>
<circle cx="84.14" cy="389.85" r="1.2" fill="#1f78c8"/>
<circle cx="84.65" cy="411.16" r="1.2" fill="#1f78c8"/>
<circle cx="85.15" cy="397.90" r="1.2" fill="#1f78c8"/>
<circle cx="85.65" cy="400.12" r="1.2" fill="#1f78c8"/>
<circle cx="86.15" cy="402.24" r="1.2" fill="#1f78c8"/>
<circle cx="86.66" cy="401.29" r="1.2" fill="#1f78c8"/>
<circle cx="87.16" cy="399.19" r="1.2" fill="#f2b51d"/>
<circle cx="87.66" cy="393.06" r="1.2" fill="#1f78c8"/>
<circle cx="88.16" cy="387.05" r="1.2" fill="#1f78c8"/>
<circle cx="88.67" cy="399.74" r="1.2" fill="#1f78c8"/>
<circle cx="89.17" cy="407.53" r="1.2" fill="#1f78c8"/>
<circle cx="89.67" cy="396.98" r="1.2" fill="#f2b51d"/>
<circle cx="90.17" cy="410.90" r="1.2" fill="#1f78c8"/>
<circle cx="90.68" cy="380.50" r="1.2" fill="#1f78c8"/>
<circle cx="91.18" cy="403.70" r="1.2" fill="#1f78c8"/>
<circle cx="91.68" cy="396.24" r="1.2" fill="#1f78c8"/>
<circle cx="92.18" cy="408.32" r="1.2" fill="#1f78c8"/>
<circle cx="92.69" cy="408.01" r="1.2" fill="#f2b51d"/>
<circle cx="93.19" cy="407.69" r="1.2" fill="#1f78c8"/>
<circle cx="93.69" cy="393.39" r="1.2" fill="#1f78c8"/>
<circle cx="94.19" cy="398.58" r="1.2" fill="#f2b51d"/>
<circle cx="94.70" cy="390.75" r="1.2" fill="#1f78c8"/>
<circle cx="95.20" cy="405.93" r="1.2" fill="#f2b51d"/>
<circle cx="95.70" cy="389.33" r="1.2" fill="#1f78c8"/>
<circle cx="96.20" cy="402.22" r="1.2" fill="#f2b51d"/>
<circle cx="96.70" cy="389.99" r="1.2" fill="#1f78c8"/>
<circle cx="97.21" cy="405.28" r="1.2" fill="#1f78c8"/>
<circle cx="97.71" cy="393.77" r="1.2" fill="#1f78c8"/>
<circle cx="98.21" cy="401.29" r="1.2" fill="#1f78c8"/>
<circle cx="98.71" cy="398.45" r="1.2" fill="#f2b51d"/>
<circle cx="99.22" cy="399.89" r="1.2" fill="#f2b51d"/>
<circle cx="99.72" cy="409.88" r="1.2" fill="#f2b51d"/>
<circle cx="100.22" cy="407.27" r="1.2" fill="#f2b51d"/>
<circle cx="100.72" cy="403.86" r="1.2" fill="#1f78c8"/>
<circle cx="101.23" cy="398.32" r="1.2" fill="#1f78c8"/>
<circle cx="101.73" cy="395.64" r="1.2" fill="#f2b51d"/>
<circle cx="102.23" cy="402.87" r="1.2" fill="#f2b51d"/>
<circle cx="102.73" cy="392.11" r="1.2" fill="#1f78c8"/>
<circle cx="103.24" cy="405.22" r="1.2" fill="#f2b51d"/>
<circle cx="103.74" cy="400.62" r="1.2" fill="#f2b51d"/>
<circle cx="104.24" cy="409.08" r="1.2" fill="#f2b51d"/>
<circle cx="104.74" cy="392.49" r="1.2" fill="#1f78c8"/>
<circle cx="105.25" cy="399.27" r="1.2" fill="#1f78c8"/>
<circle cx="105.75" cy="394.01" r="1.2" fill="#1f78c8"/>
<circle cx="106.25" cy="398.38" r="1.2" fill="#f2b51d"/>
<circle cx="106.75" cy="400.30" r="1.2" fill="#f2b51d"/>
<circle cx="107.26" cy="397.15" r="1.2" fill="#1f78c8"/>
<circle cx="107.76" cy="392.27" r="1.2" fill="#1f78c8"/>
<circle cx="108.26" cy="409.14" r="1.2" fill="#1f78c8"/>
<circle cx="108.76" cy="404.55" r="1.2" fill="#f2b51d"/>
<circle cx="109.26" cy="393.75" r="1.2" fill="#1f78c8"/>
<circle cx="109.77" cy="408.64" r="1.2" fill="#f2b51d"/>
<circle cx="110.27" cy="402.96" r="1.2" fill="#f2b51d"/>
<circle cx="110.77" cy="402.91" r="1.2" fill="#f2b51d"/>
<circle cx="111.27" cy="395.58" r="1.2" fill="#1f78c8"/>
<circle cx="111.78" cy="407.84" r="1.2" fill="#1f78c8"/>
<circle cx="112.28" cy="395.57" r="1.2" fill="#1f78c8"/>
<circle cx="112.78" cy="397.59" r="1.2" fill="#1f78c8"/>
<circle cx="113.28" cy="400.40" r="1.2" fill="#f2b51d"/>
<circle cx="113.79" cy="400.19" r="1.2" fill="#1f78c8"/>
<circle cx="114.29" cy="406.48" r="1.2" fill="#f2b51d"/>
<circle cx="114.79" cy="407.64" r="1.2" fill="#1f78c8"/>
<circle cx="115.29" cy="394.84" r="1.2" fill="#f2b51d"/>
<circle cx="115.80" cy="388.46" r="1.2" fill="#1f78c8"/>
<circle cx="116.30" cy="400.52" r="1.2" fill="#f2b51d"/>
<circle cx="116.80" cy="393.97" r="1.2" fill="#f2b51d"/>
<circle cx="117.30" cy="409.28" r="1.2" fill="#1f78c8"/>
<circle cx="117.81" cy="400.06" r="1.2" fill="#f2b51d"/>
<circle cx="118.31" cy="404.14" r="1.2" fill="#1f78c8"/>
<circle cx="118.81" cy="402.66" r="1.2" fill="#f2b51d"/>
<circle cx="119.31" cy="406.08" r="1.2" fill="#f2b51d"/>
<circle cx="119.82" cy="400.41" r="1.2" fill="#f2b51d"/>
<circle cx="120.32" cy="404.15" r="1.2" fill="#1f78c8"/>
<circle cx="120.82" cy="398.33" r="1.2" fill="#1f78c8"/>
<circle cx="121.32" cy="411.29" r="1.2" fill="#f2b51d"/>
<circle cx="121.82" cy="406.43" r="1.2" fill="#1f78c8"/>
<circle cx="122.33" cy="402.88" r="1.2" fill="#f2b51d"/>
<circle cx="122.83" cy="396.73" r="1.2" fill="#1f78c8"/>
<circle cx="123.33" cy="401.95" r="1.2" fill="#1f78c8"/>
<circle cx="123.83" cy="406.21" r="1.2" fill="#1f78c8"/>
<circle cx="124.34" cy="409.95" r="1.2" fill="#f2b51d"/>
<circle cx="124.84" cy="404.11" r="1.2" fill="#1f78c8"/>
<circle cx="125.34" cy="404.05" r="1.2" fill="#f2b51d"/>
<circle cx="125.84" cy="406.76" r="1.2" fill="#f2b51d"/>
<circle cx="126.35" cy="398.78" r="1.2" fill="#f2b51d"/>
<circle cx="126.85" cy="396.45" r="1.2" fill="#1f78c8"/>
<circle cx="127.35" cy="397.82" r="1.2" fill="#f2b51d"/>
<circle cx="127.85" cy="393.73" r="1.2" fill="#1f78c8"/>
<circle cx="128.36" cy="391.19" r="1.2" fill="#1f78c8"/>
<circle cx="128.86" cy="401.05" r="1.2" fill="#1f78c8"/>
<circle cx="129.36" cy="388.94" r="1.2" fill="#1f78c8"/>
<circle cx="129.86" cy="405.18" r="1.2" fill="#1f78c8"/>
<circle cx="130.37" cy="408.42" r="1.2" fill="#1f78c8"/>
<circle cx="130.87" cy="401.92" r="1.2" fill="#f2b51d"/>
<circle cx="131.37" cy="394.56" r="1.2" fill="#f2b51d"/>
<circle cx="131.87" cy="410.85" r="1.2" fill="#1f78c8"/>
<circle cx="132.38" cy="407.01" r="1.2" fill="#f2b51d"/>
<circle cx="132.88" cy="406.04" r="1.2" fill="#1f78c8"/>
<circle cx="133.38" cy="403.69" r="1.2" fill="#1f78c8"/>
<circle cx="133.88" cy="396.85" r="1.2" fill="#f2b51d"/>
<circle cx="134.38" cy="388.59" r="1.2" fill="#1f78c8"/>
<circle cx="134.89" cy="399.67" r="1.2" fill="#1f78c8"/>
<circle cx="135.39" cy="408.71" r="1.2" fill="#1f78c8"/>
<circle cx="135.89" cy="400.76" r="1.2" fill="#f2b51d"/>
<circle cx="136.39" cy="393.37" r="1.2" fill="#1f78c8"/>
<circle cx="136.90" cy="388.59" r="1.2" fill="#1f78c8"/>
<circle cx="137.40" cy="404.39" r="1.2" fill="#1f78c8"/>
<circle cx="137.90" cy="410.26" r="1.2" fill="#1f78c8"/>
<circle cx="138.40" cy="404.17" r="1.2" fill="#1f78c8"/>
<circle cx="138.91" cy="406.41" r="1.2" fill="#1f78c8"/>
<circle cx="139.41" cy="401.53" r="1.2" fill="#f2b51d"/>
<circle cx="139.91" cy="407.22" r="1.2" fill="#f2b51d"/>
<circle cx="140.41" cy="394.09" r="1.2" fill="#f2b51d"/>
<circle cx="140.92" cy="396.90" r="1.2" fill="#1f78c8"/>
<circle cx="141.42" cy="401.24" r="1.2" fill="#1f78c8"/>
<circle cx="141.92" cy="410.61" r="1.2" fill="#1f78c8"/>
<circle cx="142.42" cy="403.35" r="1.2" fill="#f2b51d"/>
<circle cx="142.93" cy="405.76" r="1.2" fill="#f2b51d"/>
<circle cx="143.43" cy="396.78" r="1.2" fill="#1f78c8"/>
<circle cx="143.93" cy="411.26" r="1.2" fill="#1f78c8"/>
<circle cx="144.43" cy="407.14" r="1.2" fill="#1f78c8"/>
<circle cx="144.94" cy="411.02" r="1.2" fill="#f2b51d"/>
<circle cx="145.44" cy="403.06" r="1.2" fill="#f2b51d"/>
<circle cx="145.94" cy="388.29" r="1.2" fill="#1f78c8"/>
<circle cx="146.44" cy="389.99" r="1.2" fill="#1f78c8"/>
<circle cx="146.94" cy="392.63" r="1.2" fill="#1f78c8"/>
<circle cx="147.45" cy="399.46" r="1.2" fill="#f2b51d"/>
<circle cx="147.95" cy="409.66" r="1.2" fill="#1f78c8"/>
<circle cx="148.45" cy="401.22" r="1.2" fill="#f2b51d"/>
<circle cx="148.95" cy="404.25" r="1.2" fill="#1f78c8"/>
<circle cx="149.46" cy="394.58" r="1.2" fill="#1f78c8"/>
<circle cx="149.96" cy="399.63" r="1.2" fill="#f2b51d"/>
<circle cx="150.46" cy="390.15" r="1.2" fill="#1f78c8"/>
<circle cx="150.96" cy="397.07" r="1.2" fill="#1f78c8"/>
<circle cx="151.47" cy="395.62" r="1.2" fill="#f2b51d"/>
<circle cx="151.97" cy="398.83" r="1.2" fill="#f2b51d"/>
<circle cx="152.47" cy="410.96" r="1.2" fill="#f2b51d"/>
<circle cx="152.97" cy="406.96" r="1.2" fill="#f2b51d"/>
<circle cx="153.48" cy="402.37" r="1.2" fill="#1f78c8"/>
<circle cx="153.98" cy="401.69" r="1.2" fill="#f2b51d"/>
<circle cx="154.48" cy="390.55" r="1.2" fill="#1f78c8"/>
<circle cx="154.98" cy="406.76" r="1.2" fill="#f2b51d"/>
<circle cx="155.49" cy="406.30" r="1.2" fill="#1f78c8"/>
<circle cx="155.99" cy="406.19" r="1.2" fill="#1f78c8"/>
<circle cx="156.49" cy="396.79" r="1.2" fill="#f2b51d"/>
<circle cx="156.99" cy="401.65" r="1.2" fill="#1f78c8"/>
<circle cx="157.50" cy="390.13" r="1.2" fill="#1f78c8"/>
<circle cx="158.00" cy="400.77" r="1.2" fill="#f2b51d"/>
<circle cx="158.50" cy="408.68" r="1.2" fill="#1f78c8"/>
<circle cx="159.00" cy="407.10" r="1.2" fill="#f2b51d"/>
<circle cx="159.50" cy="403.75" r="1.2" fill="#f2b51d"/>
<circle cx="160.01" cy="395.19" r="1.2" fill="#1f78c8"/>
<circle cx="160.51" cy="409.47" r="1.2" fill="#1f78c8"/>
<circle cx="161.01" cy="391.41" r="1.2" fill="#1f78c8"/>
<rect x="28.30" y="379.10" width="137.80" height="33.30" fill="none" stroke="#8f8f8f" stroke-width="1.15"/>
<line x1="25.30" y1="411.50" x2="28.30" y2="411.50" stroke="#6a6a6a" stroke-width="0.8"/>
<text x="22.00" y="411.50" font-size="4.4" text-anchor="middle" fill="#222" transform="rotate(-90 22.00 411.50)">0</text>
<line x1="25.30" y1="404.75" x2="28.30" y2="404.75" stroke="#6a6a6a" stroke-width="0.8"/>
<text x="22.00" y="404.75" font-size="4.4" text-anchor="middle" fill="#222" transform="rotate(-90 22.00 404.75)">2</text>
<line x1="25.30" y1="398.00" x2="28.30" y2="398.00" stroke="#6a6a6a" stroke-width="0.8"/>
<text x="22.00" y="398.00" font-size="4.4" text-anchor="middle" fill="#222" transform="rotate(-90 22.00 398.00)">4</text>
<line x1="25.30" y1="391.25" x2="28.30" y2="391.25" stroke="#6a6a6a" stroke-width="0.8"/>
<text x="22.00" y="391.25" font-size="4.4" text-anchor="middle" fill="#222" transform="rotate(-90 22.00 391.25)">6</text>
<line x1="25.30" y1="384.50" x2="28.30" y2="384.50" stroke="#6a6a6a" stroke-width="0.8"/>
<text x="22.00" y="384.50" font-size="4.4" text-anchor="middle" fill="#222" transform="rotate(-90 22.00 384.50)">8</text>
<line x1="32.90" y1="412.40" x2="32.90" y2="415.00" stroke="#6a6a6a" stroke-width="0.8"/>
<text x="32.90" y="423.40" font-size="4.9" text-anchor="middle" class="s" fill="#222">0</text>
<line x1="58.02" y1="412.40" x2="58.02" y2="415.00" stroke="#6a6a6a" stroke-width="0.8"/>
<text x="58.02" y="423.40" font-size="4.9" text-anchor="middle" class="s" fill="#222">50</text>
<line x1="83.14" y1="412.40" x2="83.14" y2="415.00" stroke="#6a6a6a" stroke-width="0.8"/>
<text x="83.14" y="423.40" font-size="4.9" text-anchor="middle" class="s" fill="#222">100</text>
<line x1="108.26" y1="412.40" x2="108.26" y2="415.00" stroke="#6a6a6a" stroke-width="0.8"/>
<text x="108.26" y="423.40" font-size="4.9" text-anchor="middle" class="s" fill="#222">150</text>
<line x1="133.38" y1="412.40" x2="133.38" y2="415.00" stroke="#6a6a6a" stroke-width="0.8"/>
<text x="133.38" y="423.40" font-size="4.9" text-anchor="middle" class="s" fill="#222">200</text>
<line x1="158.50" y1="412.40" x2="158.50" y2="415.00" stroke="#6a6a6a" stroke-width="0.8"/>
<text x="158.50" y="423.40" font-size="4.9" text-anchor="middle" class="s" fill="#222">250</text>
<text x="97.20" y="434.80" font-size="4.75" text-anchor="middle" class="s" fill="#222">Patients (increasing risk score)</text>
<text x="8.80" y="395.75" font-size="4.75" text-anchor="middle" class="s" fill="#222" transform="rotate(-90 8.80 395.75)">Survival time (years)</text>
<rect x="27.90" y="441.5" width="41.83" height="3.50" fill="#1b8ed0"/>
<rect x="69.73" y="441.5" width="52.57" height="3.50" fill="#eedb8a"/>
<rect x="27.900" y="446.60" width="0.620" height="10.50" fill="#010204"/>
<rect x="28.270" y="446.60" width="0.620" height="10.50" fill="#010204"/>
<rect x="28.640" y="446.60" width="0.620" height="10.50" fill="#010000"/>
<rect x="29.011" y="446.60" width="0.620" height="10.50" fill="#010509"/>
<rect x="29.381" y="446.60" width="0.620" height="10.50" fill="#010509"/>
<rect x="29.751" y="446.60" width="0.620" height="10.50" fill="#010509"/>
<rect x="30.121" y="446.60" width="0.620" height="10.50" fill="#010509"/>
<rect x="30.491" y="446.60" width="0.620" height="10.50" fill="#010609"/>
<rect x="30.862" y="446.60" width="0.620" height="10.50" fill="#000001"/>
<rect x="31.232" y="446.60" width="0.620" height="10.50" fill="#090700"/>
<rect x="31.602" y="446.60" width="0.620" height="10.50" fill="#090700"/>
<rect x="31.972" y="446.60" width="0.620" height="10.50" fill="#010000"/>
<rect x="32.342" y="446.60" width="0.620" height="10.50" fill="#140f00"/>
<rect x="32.713" y="446.60" width="0.620" height="10.50" fill="#151000"/>
<rect x="33.083" y="446.60" width="0.620" height="10.50" fill="#151000"/>
<rect x="33.453" y="446.60" width="0.620" height="10.50" fill="#020100"/>
<rect x="33.823" y="446.60" width="0.620" height="10.50" fill="#120d00"/>
<rect x="34.193" y="446.60" width="0.620" height="10.50" fill="#120e00"/>
<rect x="34.564" y="446.60" width="0.620" height="10.50" fill="#120e00"/>
<rect x="34.934" y="446.60" width="0.620" height="10.50" fill="#010406"/>
<rect x="35.304" y="446.60" width="0.620" height="10.50" fill="#0f0b00"/>
<rect x="35.674" y="446.60" width="0.620" height="10.50" fill="#0f0c00"/>
<rect x="36.044" y="446.60" width="0.620" height="10.50" fill="#010406"/>
<rect x="36.415" y="446.60" width="0.620" height="10.50" fill="#080600"/>
<rect x="36.785" y="446.60" width="0.620" height="10.50" fill="#0c0900"/>
<rect x="37.155" y="446.60" width="0.620" height="10.50" fill="#0c0900"/>
<rect x="37.525" y="446.60" width="0.620" height="10.50" fill="#070500"/>
<rect x="37.895" y="446.60" width="0.620" height="10.50" fill="#070500"/>
<rect x="38.265" y="446.60" width="0.620" height="10.50" fill="#060500"/>
<rect x="38.636" y="446.60" width="0.620" height="10.50" fill="#060500"/>
<rect x="39.006" y="446.60" width="0.620" height="10.50" fill="#070500"/>
<rect x="39.376" y="446.60" width="0.620" height="10.50" fill="#171200"/>
<rect x="39.746" y="446.60" width="0.620" height="10.50" fill="#181200"/>
<rect x="40.116" y="446.60" width="0.620" height="10.50" fill="#181200"/>
<rect x="40.487" y="446.60" width="0.620" height="10.50" fill="#090700"/>
<rect x="40.857" y="446.60" width="0.620" height="10.50" fill="#080600"/>
<rect x="41.227" y="446.60" width="0.620" height="10.50" fill="#02080d"/>
<rect x="41.597" y="446.60" width="0.620" height="10.50" fill="#0f0b00"/>
<rect x="41.967" y="446.60" width="0.620" height="10.50" fill="#0f0c00"/>
<rect x="42.338" y="446.60" width="0.620" height="10.50" fill="#100c00"/>
<rect x="42.708" y="446.60" width="0.620" height="10.50" fill="#0b0900"/>
<rect x="43.078" y="446.60" width="0.620" height="10.50" fill="#0c0900"/>
<rect x="43.448" y="446.60" width="0.620" height="10.50" fill="#010204"/>
<rect x="43.818" y="446.60" width="0.620" height="10.50" fill="#010204"/>
<rect x="44.189" y="446.60" width="0.620" height="10.50" fill="#010204"/>
<rect x="44.559" y="446.60" width="0.620" height="10.50" fill="#030200"/>
<rect x="44.929" y="446.60" width="0.620" height="10.50" fill="#030200"/>
<rect x="45.299" y="446.60" width="0.620" height="10.50" fill="#030200"/>
<rect x="45.669" y="446.60" width="0.620" height="10.50" fill="#02080d"/>
<rect x="46.040" y="446.60" width="0.620" height="10.50" fill="#02080d"/>
<rect x="46.410" y="446.60" width="0.620" height="10.50" fill="#030300"/>
<rect x="46.780" y="446.60" width="0.620" height="10.50" fill="#0d0a00"/>
<rect x="47.150" y="446.60" width="0.620" height="10.50" fill="#0d0a00"/>
<rect x="47.520" y="446.60" width="0.620" height="10.50" fill="#0d0a00"/>
<rect x="47.891" y="446.60" width="0.620" height="10.50" fill="#030c14"/>
<rect x="48.261" y="446.60" width="0.620" height="10.50" fill="#030d15"/>
<rect x="48.631" y="446.60" width="0.620" height="10.50" fill="#030d15"/>
<rect x="49.001" y="446.60" width="0.620" height="10.50" fill="#020100"/>
<rect x="49.371" y="446.60" width="0.620" height="10.50" fill="#120d00"/>
<rect x="49.742" y="446.60" width="0.620" height="10.50" fill="#120e00"/>
<rect x="50.112" y="446.60" width="0.620" height="10.50" fill="#070500"/>
<rect x="50.482" y="446.60" width="0.620" height="10.50" fill="#070600"/>
<rect x="50.852" y="446.60" width="0.620" height="10.50" fill="#080600"/>
<rect x="51.222" y="446.60" width="0.620" height="10.50" fill="#241b00"/>
<rect x="51.593" y="446.60" width="0.620" height="10.50" fill="#241c00"/>
<rect x="51.963" y="446.60" width="0.620" height="10.50" fill="#010609"/>
<rect x="52.333" y="446.60" width="0.620" height="10.50" fill="#010509"/>
<rect x="52.703" y="446.60" width="0.620" height="10.50" fill="#070500"/>
<rect x="53.073" y="446.60" width="0.620" height="10.50" fill="#070500"/>
<rect x="53.444" y="446.60" width="0.620" height="10.50" fill="#070600"/>
<rect x="53.814" y="446.60" width="0.620" height="10.50" fill="#000101"/>
<rect x="54.184" y="446.60" width="0.620" height="10.50" fill="#000101"/>
<rect x="54.554" y="446.60" width="0.620" height="10.50" fill="#000101"/>
<rect x="54.924" y="446.60" width="0.620" height="10.50" fill="#0c0900"/>
<rect x="55.295" y="446.60" width="0.620" height="10.50" fill="#030300"/>
<rect x="55.665" y="446.60" width="0.620" height="10.50" fill="#0a0800"/>
<rect x="56.035" y="446.60" width="0.620" height="10.50" fill="#0b0800"/>
<rect x="56.405" y="446.60" width="0.620" height="10.50" fill="#0b0800"/>
<rect x="56.775" y="446.60" width="0.620" height="10.50" fill="#130e00"/>
<rect x="57.145" y="446.60" width="0.620" height="10.50" fill="#130f00"/>
<rect x="57.516" y="446.60" width="0.620" height="10.50" fill="#140f00"/>
<rect x="57.886" y="446.60" width="0.620" height="10.50" fill="#100c00"/>
<rect x="58.256" y="446.60" width="0.620" height="10.50" fill="#100c00"/>
<rect x="58.626" y="446.60" width="0.620" height="10.50" fill="#100c00"/>
<rect x="58.996" y="446.60" width="0.620" height="10.50" fill="#000102"/>
<rect x="59.367" y="446.60" width="0.620" height="10.50" fill="#051623"/>
<rect x="59.737" y="446.60" width="0.620" height="10.50" fill="#051623"/>
<rect x="60.107" y="446.60" width="0.620" height="10.50" fill="#010508"/>
<rect x="60.477" y="446.60" width="0.620" height="10.50" fill="#010508"/>
<rect x="60.847" y="446.60" width="0.620" height="10.50" fill="#010508"/>
<rect x="61.218" y="446.60" width="0.620" height="10.50" fill="#000202"/>
<rect x="61.588" y="446.60" width="0.620" height="10.50" fill="#4a3800"/>
<rect x="61.958" y="446.60" width="0.620" height="10.50" fill="#0d0a00"/>
<rect x="62.328" y="446.60" width="0.620" height="10.50" fill="#0c0900"/>
<rect x="62.698" y="446.60" width="0.620" height="10.50" fill="#030c14"/>
<rect x="63.069" y="446.60" width="0.620" height="10.50" fill="#04101b"/>
<rect x="63.439" y="446.60" width="0.620" height="10.50" fill="#04101b"/>
<rect x="63.809" y="446.60" width="0.620" height="10.50" fill="#0a0700"/>
<rect x="64.179" y="446.60" width="0.620" height="10.50" fill="#0a0800"/>
<rect x="64.549" y="446.60" width="0.620" height="10.50" fill="#171200"/>
<rect x="64.920" y="446.60" width="0.620" height="10.50" fill="#181200"/>
<rect x="65.290" y="446.60" width="0.620" height="10.50" fill="#0d0a00"/>
<rect x="65.660" y="446.60" width="0.620" height="10.50" fill="#0e0a00"/>
<rect x="66.030" y="446.60" width="0.620" height="10.50" fill="#0e0b00"/>
<rect x="66.400" y="446.60" width="0.620" height="10.50" fill="#020a10"/>
<rect x="66.771" y="446.60" width="0.620" height="10.50" fill="#020a10"/>
<rect x="67.141" y="446.60" width="0.620" height="10.50" fill="#020a11"/>
<rect x="67.511" y="446.60" width="0.620" height="10.50" fill="#020a11"/>
<rect x="67.881" y="446.60" width="0.620" height="10.50" fill="#0a0700"/>
<rect x="68.251" y="446.60" width="0.620" height="10.50" fill="#0a0800"/>
<rect x="68.622" y="446.60" width="0.620" height="10.50" fill="#0a0800"/>
<rect x="68.992" y="446.60" width="0.620" height="10.50" fill="#080600"/>
<rect x="69.362" y="446.60" width="0.620" height="10.50" fill="#090700"/>
<rect x="69.732" y="446.60" width="0.620" height="10.50" fill="#090700"/>
<rect x="70.102" y="446.60" width="0.620" height="10.50" fill="#130f00"/>
<rect x="70.473" y="446.60" width="0.620" height="10.50" fill="#1d1600"/>
<rect x="70.843" y="446.60" width="0.620" height="10.50" fill="#1d1600"/>
<rect x="71.213" y="446.60" width="0.620" height="10.50" fill="#1e1700"/>
<rect x="71.583" y="446.60" width="0.620" height="10.50" fill="#231b00"/>
<rect x="71.953" y="446.60" width="0.620" height="10.50" fill="#010509"/>
<rect x="72.324" y="446.60" width="0.620" height="10.50" fill="#010509"/>
<rect x="72.694" y="446.60" width="0.620" height="10.50" fill="#372a00"/>
<rect x="73.064" y="446.60" width="0.620" height="10.50" fill="#382b00"/>
<rect x="73.434" y="446.60" width="0.620" height="10.50" fill="#3b2d00"/>
<rect x="73.804" y="446.60" width="0.620" height="10.50" fill="#3b2d00"/>
<rect x="74.175" y="446.60" width="0.620" height="10.50" fill="#3c2e00"/>
<rect x="74.545" y="446.60" width="0.620" height="10.50" fill="#755900"/>
<rect x="74.915" y="446.60" width="0.620" height="10.50" fill="#765a00"/>
<rect x="75.285" y="446.60" width="0.620" height="10.50" fill="#775b00"/>
<rect x="75.655" y="446.60" width="0.620" height="10.50" fill="#010406"/>
<rect x="76.025" y="446.60" width="0.620" height="10.50" fill="#010306"/>
<rect x="76.396" y="446.60" width="0.620" height="10.50" fill="#010304"/>
<rect x="76.766" y="446.60" width="0.620" height="10.50" fill="#010204"/>
<rect x="77.136" y="446.60" width="0.620" height="10.50" fill="#010204"/>
<rect x="77.506" y="446.60" width="0.620" height="10.50" fill="#04131f"/>
<rect x="77.876" y="446.60" width="0.620" height="10.50" fill="#04131f"/>
<rect x="78.247" y="446.60" width="0.620" height="10.50" fill="#04131f"/>
<rect x="78.617" y="446.60" width="0.620" height="10.50" fill="#181200"/>
<rect x="78.987" y="446.60" width="0.620" height="10.50" fill="#3d2f00"/>
<rect x="79.357" y="446.60" width="0.620" height="10.50" fill="#01060a"/>
<rect x="79.727" y="446.60" width="0.620" height="10.50" fill="#1d1600"/>
<rect x="80.098" y="446.60" width="0.620" height="10.50" fill="#322600"/>
<rect x="80.468" y="446.60" width="0.620" height="10.50" fill="#000000"/>
<rect x="80.838" y="446.60" width="0.620" height="10.50" fill="#000000"/>
<rect x="81.208" y="446.60" width="0.620" height="10.50" fill="#010100"/>
<rect x="81.578" y="446.60" width="0.620" height="10.50" fill="#4e3b00"/>
<rect x="81.949" y="446.60" width="0.620" height="10.50" fill="#443300"/>
<rect x="82.319" y="446.60" width="0.620" height="10.50" fill="#443400"/>
<rect x="82.689" y="446.60" width="0.620" height="10.50" fill="#453400"/>
<rect x="83.059" y="446.60" width="0.620" height="10.50" fill="#392b00"/>
<rect x="83.429" y="446.60" width="0.620" height="10.50" fill="#392b00"/>
<rect x="83.800" y="446.60" width="0.620" height="10.50" fill="#3a2c00"/>
<rect x="84.170" y="446.60" width="0.620" height="10.50" fill="#271d00"/>
<rect x="84.540" y="446.60" width="0.620" height="10.50" fill="#271e00"/>
<rect x="84.910" y="446.60" width="0.620" height="10.50" fill="#281e00"/>
<rect x="85.280" y="446.60" width="0.620" height="10.50" fill="#110d00"/>
<rect x="85.651" y="446.60" width="0.620" height="10.50" fill="#01060a"/>
<rect x="86.021" y="446.60" width="0.620" height="10.50" fill="#01060a"/>
<rect x="86.391" y="446.60" width="0.620" height="10.50" fill="#01060a"/>
<rect x="86.761" y="446.60" width="0.620" height="10.50" fill="#0c0900"/>
<rect x="87.131" y="446.60" width="0.620" height="10.50" fill="#050400"/>
<rect x="87.502" y="446.60" width="0.620" height="10.50" fill="#926f00"/>
<rect x="87.872" y="446.60" width="0.620" height="10.50" fill="#463500"/>
<rect x="88.242" y="446.60" width="0.620" height="10.50" fill="#1a1400"/>
<rect x="88.612" y="446.60" width="0.620" height="10.50" fill="#362900"/>
<rect x="88.982" y="446.60" width="0.620" height="10.50" fill="#896800"/>
<rect x="89.353" y="446.60" width="0.620" height="10.50" fill="#342800"/>
<rect x="89.723" y="446.60" width="0.620" height="10.50" fill="#352800"/>
<rect x="90.093" y="446.60" width="0.620" height="10.50" fill="#0c0900"/>
<rect x="90.463" y="446.60" width="0.620" height="10.50" fill="#0d0a00"/>
<rect x="90.833" y="446.60" width="0.620" height="10.50" fill="#0d0a00"/>
<rect x="91.204" y="446.60" width="0.620" height="10.50" fill="#342800"/>
<rect x="91.574" y="446.60" width="0.620" height="10.50" fill="#352800"/>
<rect x="91.944" y="446.60" width="0.620" height="10.50" fill="#352900"/>
<rect x="92.314" y="446.60" width="0.620" height="10.50" fill="#302400"/>
<rect x="92.684" y="446.60" width="0.620" height="10.50" fill="#302500"/>
<rect x="93.055" y="446.60" width="0.620" height="10.50" fill="#312500"/>
<rect x="93.425" y="446.60" width="0.620" height="10.50" fill="#3c2d00"/>
<rect x="93.795" y="446.60" width="0.620" height="10.50" fill="#3d2e00"/>
<rect x="94.165" y="446.60" width="0.620" height="10.50" fill="#0e0b00"/>
<rect x="94.535" y="446.60" width="0.620" height="10.50" fill="#151000"/>
<rect x="94.905" y="446.60" width="0.620" height="10.50" fill="#151000"/>
<rect x="95.276" y="446.60" width="0.620" height="10.50" fill="#120d00"/>
<rect x="95.646" y="446.60" width="0.620" height="10.50" fill="#221a00"/>
<rect x="96.016" y="446.60" width="0.620" height="10.50" fill="#4c3900"/>
<rect x="96.386" y="446.60" width="0.620" height="10.50" fill="#4c3a00"/>
<rect x="96.756" y="446.60" width="0.620" height="10.50" fill="#795c00"/>
<rect x="97.127" y="446.60" width="0.620" height="10.50" fill="#654c00"/>
<rect x="97.497" y="446.60" width="0.620" height="10.50" fill="#161100"/>
<rect x="97.867" y="446.60" width="0.620" height="10.50" fill="#171100"/>
<rect x="98.237" y="446.60" width="0.620" height="10.50" fill="#7b5d00"/>
<rect x="98.607" y="446.60" width="0.620" height="10.50" fill="#7c5e00"/>
<rect x="98.978" y="446.60" width="0.620" height="10.50" fill="#463500"/>
<rect x="99.348" y="446.60" width="0.620" height="10.50" fill="#473600"/>
<rect x="99.718" y="446.60" width="0.620" height="10.50" fill="#030e17"/>
<rect x="100.088" y="446.60" width="0.620" height="10.50" fill="#030e17"/>
<rect x="100.458" y="446.60" width="0.620" height="10.50" fill="#271e00"/>
<rect x="100.829" y="446.60" width="0.620" height="10.50" fill="#281e00"/>
<rect x="101.199" y="446.60" width="0.620" height="10.50" fill="#533f00"/>
<rect x="101.569" y="446.60" width="0.620" height="10.50" fill="#533f00"/>
<rect x="101.939" y="446.60" width="0.620" height="10.50" fill="#291f00"/>
<rect x="102.309" y="446.60" width="0.620" height="10.50" fill="#291f00"/>
<rect x="102.680" y="446.60" width="0.620" height="10.50" fill="#090700"/>
<rect x="103.050" y="446.60" width="0.620" height="10.50" fill="#090700"/>
<rect x="103.420" y="446.60" width="0.620" height="10.50" fill="#090700"/>
<rect x="103.790" y="446.60" width="0.620" height="10.50" fill="#aa8100"/>
<rect x="104.160" y="446.60" width="0.620" height="10.50" fill="#ab8200"/>
<rect x="104.531" y="446.60" width="0.620" height="10.50" fill="#ac8300"/>
<rect x="104.901" y="446.60" width="0.620" height="10.50" fill="#010609"/>
<rect x="105.271" y="446.60" width="0.620" height="10.50" fill="#010609"/>
<rect x="105.641" y="446.60" width="0.620" height="10.50" fill="#010509"/>
<rect x="106.011" y="446.60" width="0.620" height="10.50" fill="#473600"/>
<rect x="106.382" y="446.60" width="0.620" height="10.50" fill="#483700"/>
<rect x="106.752" y="446.60" width="0.620" height="10.50" fill="#493700"/>
<rect x="107.122" y="446.60" width="0.620" height="10.50" fill="#4f3c00"/>
<rect x="107.492" y="446.60" width="0.620" height="10.50" fill="#503c00"/>
<rect x="107.862" y="446.60" width="0.620" height="10.50" fill="#503d00"/>
<rect x="108.233" y="446.60" width="0.620" height="10.50" fill="#1f1700"/>
<rect x="108.603" y="446.60" width="0.620" height="10.50" fill="#1f1800"/>
<rect x="108.973" y="446.60" width="0.620" height="10.50" fill="#201800"/>
<rect x="109.343" y="446.60" width="0.620" height="10.50" fill="#2a2000"/>
<rect x="109.713" y="446.60" width="0.620" height="10.50" fill="#2b2100"/>
<rect x="110.084" y="446.60" width="0.620" height="10.50" fill="#2c2100"/>
<rect x="110.454" y="446.60" width="0.620" height="10.50" fill="#201800"/>
<rect x="110.824" y="446.60" width="0.620" height="10.50" fill="#201800"/>
<rect x="111.194" y="446.60" width="0.620" height="10.50" fill="#211900"/>
<rect x="111.564" y="446.60" width="0.620" height="10.50" fill="#493700"/>
<rect x="111.935" y="446.60" width="0.620" height="10.50" fill="#6c5200"/>
<rect x="112.305" y="446.60" width="0.620" height="10.50" fill="#715500"/>
<rect x="112.675" y="446.60" width="0.620" height="10.50" fill="#715600"/>
<rect x="113.045" y="446.60" width="0.620" height="10.50" fill="#453400"/>
<rect x="113.415" y="446.60" width="0.620" height="10.50" fill="#3d2e00"/>
<rect x="113.785" y="446.60" width="0.620" height="10.50" fill="#3e2f00"/>
<rect x="114.156" y="446.60" width="0.620" height="10.50" fill="#413100"/>
<rect x="114.526" y="446.60" width="0.620" height="10.50" fill="#423200"/>
<rect x="114.896" y="446.60" width="0.620" height="10.50" fill="#423200"/>
<rect x="115.266" y="446.60" width="0.620" height="10.50" fill="#140f00"/>
<rect x="115.636" y="446.60" width="0.620" height="10.50" fill="#140f00"/>
<rect x="116.007" y="446.60" width="0.620" height="10.50" fill="#151000"/>
<rect x="116.377" y="446.60" width="0.620" height="10.50" fill="#4b3900"/>
<rect x="116.747" y="446.60" width="0.620" height="10.50" fill="#7a5d00"/>
<rect x="117.117" y="446.60" width="0.620" height="10.50" fill="#5b4500"/>
<rect x="117.487" y="446.60" width="0.620" height="10.50" fill="#806100"/>
<rect x="117.858" y="446.60" width="0.620" height="10.50" fill="#816200"/>
<rect x="118.228" y="446.60" width="0.620" height="10.50" fill="#826300"/>
<rect x="118.598" y="446.60" width="0.620" height="10.50" fill="#967200"/>
<rect x="118.968" y="446.60" width="0.620" height="10.50" fill="#977300"/>
<rect x="119.338" y="446.60" width="0.620" height="10.50" fill="#987400"/>
<rect x="119.709" y="446.60" width="0.620" height="10.50" fill="#634b00"/>
<rect x="120.079" y="446.60" width="0.620" height="10.50" fill="#061c2f"/>
<rect x="120.449" y="446.60" width="0.620" height="10.50" fill="#061c2e"/>
<rect x="120.819" y="446.60" width="0.620" height="10.50" fill="#403100"/>
<rect x="121.189" y="446.60" width="0.620" height="10.50" fill="#695000"/>
<rect x="121.560" y="446.60" width="0.620" height="10.50" fill="#6a5100"/>
<rect x="121.930" y="446.60" width="0.620" height="10.50" fill="#765a00"/>
<rect x="27.900" y="457.10" width="0.620" height="10.70" fill="#8a6900"/>
<rect x="28.270" y="457.10" width="0.620" height="10.70" fill="#8a6900"/>
<rect x="28.640" y="457.10" width="0.620" height="10.70" fill="#926f00"/>
<rect x="29.011" y="457.10" width="0.620" height="10.70" fill="#997400"/>
<rect x="29.381" y="457.10" width="0.620" height="10.70" fill="#997400"/>
<rect x="29.751" y="457.10" width="0.620" height="10.70" fill="#997400"/>
<rect x="30.121" y="457.10" width="0.620" height="10.70" fill="#8c6a00"/>
<rect x="30.491" y="457.10" width="0.620" height="10.70" fill="#8c6a00"/>
<rect x="30.862" y="457.10" width="0.620" height="10.70" fill="#8a6900"/>
<rect x="31.232" y="457.10" width="0.620" height="10.70" fill="#8f6c00"/>
<rect x="31.602" y="457.10" width="0.620" height="10.70" fill="#8f6d00"/>
<rect x="31.972" y="457.10" width="0.620" height="10.70" fill="#9d7700"/>
<rect x="32.342" y="457.10" width="0.620" height="10.70" fill="#6f5400"/>
<rect x="32.713" y="457.10" width="0.620" height="10.70" fill="#6f5400"/>
<rect x="33.083" y="457.10" width="0.620" height="10.70" fill="#6f5400"/>
<rect x="33.453" y="457.10" width="0.620" height="10.70" fill="#846400"/>
<rect x="33.823" y="457.10" width="0.620" height="10.70" fill="#7c5e00"/>
<rect x="34.193" y="457.10" width="0.620" height="10.70" fill="#7c5e00"/>
<rect x="34.564" y="457.10" width="0.620" height="10.70" fill="#7c5e00"/>
<rect x="34.934" y="457.10" width="0.620" height="10.70" fill="#7d5f00"/>
<rect x="35.304" y="457.10" width="0.620" height="10.70" fill="#836300"/>
<rect x="35.674" y="457.10" width="0.620" height="10.70" fill="#836300"/>
<rect x="36.044" y="457.10" width="0.620" height="10.70" fill="#9f7900"/>
<rect x="36.415" y="457.10" width="0.620" height="10.70" fill="#b88c00"/>
<rect x="36.785" y="457.10" width="0.620" height="10.70" fill="#9c7600"/>
<rect x="37.155" y="457.10" width="0.620" height="10.70" fill="#9c7600"/>
<rect x="37.525" y="457.10" width="0.620" height="10.70" fill="#a07a00"/>
<rect x="37.895" y="457.10" width="0.620" height="10.70" fill="#a07a00"/>
<rect x="38.265" y="457.10" width="0.620" height="10.70" fill="#926f00"/>
<rect x="38.636" y="457.10" width="0.620" height="10.70" fill="#926f00"/>
<rect x="39.006" y="457.10" width="0.620" height="10.70" fill="#926f00"/>
<rect x="39.376" y="457.10" width="0.620" height="10.70" fill="#987300"/>
<rect x="39.746" y="457.10" width="0.620" height="10.70" fill="#987300"/>
<rect x="40.116" y="457.10" width="0.620" height="10.70" fill="#987400"/>
<rect x="40.487" y="457.10" width="0.620" height="10.70" fill="#916e00"/>
<rect x="40.857" y="457.10" width="0.620" height="10.70" fill="#926f00"/>
<rect x="41.227" y="457.10" width="0.620" height="10.70" fill="#987300"/>
<rect x="41.597" y="457.10" width="0.620" height="10.70" fill="#8f6d00"/>
<rect x="41.967" y="457.10" width="0.620" height="10.70" fill="#906d00"/>
<rect x="42.338" y="457.10" width="0.620" height="10.70" fill="#906d00"/>
<rect x="42.708" y="457.10" width="0.620" height="10.70" fill="#b48800"/>
<rect x="43.078" y="457.10" width="0.620" height="10.70" fill="#b48900"/>
<rect x="43.448" y="457.10" width="0.620" height="10.70" fill="#947000"/>
<rect x="43.818" y="457.10" width="0.620" height="10.70" fill="#947000"/>
<rect x="44.189" y="457.10" width="0.620" height="10.70" fill="#947000"/>
<rect x="44.559" y="457.10" width="0.620" height="10.70" fill="#947100"/>
<rect x="44.929" y="457.10" width="0.620" height="10.70" fill="#947100"/>
<rect x="45.299" y="457.10" width="0.620" height="10.70" fill="#947100"/>
<rect x="45.669" y="457.10" width="0.620" height="10.70" fill="#926e00"/>
<rect x="46.040" y="457.10" width="0.620" height="10.70" fill="#926f00"/>
<rect x="46.410" y="457.10" width="0.620" height="10.70" fill="#7e5f00"/>
<rect x="46.780" y="457.10" width="0.620" height="10.70" fill="#9a7500"/>
<rect x="47.150" y="457.10" width="0.620" height="10.70" fill="#9a7500"/>
<rect x="47.520" y="457.10" width="0.620" height="10.70" fill="#9a7500"/>
<rect x="47.891" y="457.10" width="0.620" height="10.70" fill="#b08500"/>
<rect x="48.261" y="457.10" width="0.620" height="10.70" fill="#b08600"/>
<rect x="48.631" y="457.10" width="0.620" height="10.70" fill="#b08600"/>
<rect x="49.001" y="457.10" width="0.620" height="10.70" fill="#977300"/>
<rect x="49.371" y="457.10" width="0.620" height="10.70" fill="#8a6800"/>
<rect x="49.742" y="457.10" width="0.620" height="10.70" fill="#8a6900"/>
<rect x="50.112" y="457.10" width="0.620" height="10.70" fill="#947000"/>
<rect x="50.482" y="457.10" width="0.620" height="10.70" fill="#947000"/>
<rect x="50.852" y="457.10" width="0.620" height="10.70" fill="#947000"/>
<rect x="51.222" y="457.10" width="0.620" height="10.70" fill="#b28700"/>
<rect x="51.593" y="457.10" width="0.620" height="10.70" fill="#b28700"/>
<rect x="51.963" y="457.10" width="0.620" height="10.70" fill="#a17a00"/>
<rect x="52.333" y="457.10" width="0.620" height="10.70" fill="#a17a00"/>
<rect x="52.703" y="457.10" width="0.620" height="10.70" fill="#8b6a00"/>
<rect x="53.073" y="457.10" width="0.620" height="10.70" fill="#8b6a00"/>
<rect x="53.444" y="457.10" width="0.620" height="10.70" fill="#8c6a00"/>
<rect x="53.814" y="457.10" width="0.620" height="10.70" fill="#ad8300"/>
<rect x="54.184" y="457.10" width="0.620" height="10.70" fill="#ad8300"/>
<rect x="54.554" y="457.10" width="0.620" height="10.70" fill="#ad8300"/>
<rect x="54.924" y="457.10" width="0.620" height="10.70" fill="#aa8100"/>
<rect x="55.295" y="457.10" width="0.620" height="10.70" fill="#aa8100"/>
<rect x="55.665" y="457.10" width="0.620" height="10.70" fill="#997400"/>
<rect x="56.035" y="457.10" width="0.620" height="10.70" fill="#997500"/>
<rect x="56.405" y="457.10" width="0.620" height="10.70" fill="#9a7500"/>
<rect x="56.775" y="457.10" width="0.620" height="10.70" fill="#8b6900"/>
<rect x="57.145" y="457.10" width="0.620" height="10.70" fill="#8b6900"/>
<rect x="57.516" y="457.10" width="0.620" height="10.70" fill="#8b6a00"/>
<rect x="57.886" y="457.10" width="0.620" height="10.70" fill="#886700"/>
<rect x="58.256" y="457.10" width="0.620" height="10.70" fill="#886700"/>
<rect x="58.626" y="457.10" width="0.620" height="10.70" fill="#886800"/>
<rect x="58.996" y="457.10" width="0.620" height="10.70" fill="#a47c00"/>
<rect x="59.367" y="457.10" width="0.620" height="10.70" fill="#9c7600"/>
<rect x="59.737" y="457.10" width="0.620" height="10.70" fill="#9c7600"/>
<rect x="60.107" y="457.10" width="0.620" height="10.70" fill="#b18700"/>
<rect x="60.477" y="457.10" width="0.620" height="10.70" fill="#b28700"/>
<rect x="60.847" y="457.10" width="0.620" height="10.70" fill="#b28700"/>
<rect x="61.218" y="457.10" width="0.620" height="10.70" fill="#7e6000"/>
<rect x="61.588" y="457.10" width="0.620" height="10.70" fill="#ae8400"/>
<rect x="61.958" y="457.10" width="0.620" height="10.70" fill="#aa8100"/>
<rect x="62.328" y="457.10" width="0.620" height="10.70" fill="#9e7800"/>
<rect x="62.698" y="457.10" width="0.620" height="10.70" fill="#a98000"/>
<rect x="63.069" y="457.10" width="0.620" height="10.70" fill="#836300"/>
<rect x="63.439" y="457.10" width="0.620" height="10.70" fill="#836400"/>
<rect x="63.809" y="457.10" width="0.620" height="10.70" fill="#b38800"/>
<rect x="64.179" y="457.10" width="0.620" height="10.70" fill="#b38800"/>
<rect x="64.549" y="457.10" width="0.620" height="10.70" fill="#a67e00"/>
<rect x="64.920" y="457.10" width="0.620" height="10.70" fill="#a67e00"/>
<rect x="65.290" y="457.10" width="0.620" height="10.70" fill="#a98000"/>
<rect x="65.660" y="457.10" width="0.620" height="10.70" fill="#a98000"/>
<rect x="66.030" y="457.10" width="0.620" height="10.70" fill="#a98000"/>
<rect x="66.400" y="457.10" width="0.620" height="10.70" fill="#a98000"/>
<rect x="66.771" y="457.10" width="0.620" height="10.70" fill="#a98000"/>
<rect x="67.141" y="457.10" width="0.620" height="10.70" fill="#916e00"/>
<rect x="67.511" y="457.10" width="0.620" height="10.70" fill="#916e00"/>
<rect x="67.881" y="457.10" width="0.620" height="10.70" fill="#856500"/>
<rect x="68.251" y="457.10" width="0.620" height="10.70" fill="#856500"/>
<rect x="68.622" y="457.10" width="0.620" height="10.70" fill="#856500"/>
<rect x="68.992" y="457.10" width="0.620" height="10.70" fill="#a27b00"/>
<rect x="69.362" y="457.10" width="0.620" height="10.70" fill="#a27b00"/>
<rect x="69.732" y="457.10" width="0.620" height="10.70" fill="#a37b00"/>
<rect x="70.102" y="457.10" width="0.620" height="10.70" fill="#ab8200"/>
<rect x="70.473" y="457.10" width="0.620" height="10.70" fill="#997400"/>
<rect x="70.843" y="457.10" width="0.620" height="10.70" fill="#997400"/>
<rect x="71.213" y="457.10" width="0.620" height="10.70" fill="#9a7500"/>
<rect x="71.583" y="457.10" width="0.620" height="10.70" fill="#9a7500"/>
<rect x="71.953" y="457.10" width="0.620" height="10.70" fill="#a98000"/>
<rect x="72.324" y="457.10" width="0.620" height="10.70" fill="#a98000"/>
<rect x="72.694" y="457.10" width="0.620" height="10.70" fill="#ae8400"/>
<rect x="73.064" y="457.10" width="0.620" height="10.70" fill="#ae8400"/>
<rect x="73.434" y="457.10" width="0.620" height="10.70" fill="#9d7700"/>
<rect x="73.804" y="457.10" width="0.620" height="10.70" fill="#9d7700"/>
<rect x="74.175" y="457.10" width="0.620" height="10.70" fill="#9d7700"/>
<rect x="74.545" y="457.10" width="0.620" height="10.70" fill="#ae8400"/>
<rect x="74.915" y="457.10" width="0.620" height="10.70" fill="#ae8400"/>
<rect x="75.285" y="457.10" width="0.620" height="10.70" fill="#ae8400"/>
<rect x="75.655" y="457.10" width="0.620" height="10.70" fill="#9f7800"/>
<rect x="76.025" y="457.10" width="0.620" height="10.70" fill="#9f7900"/>
<rect x="76.396" y="457.10" width="0.620" height="10.70" fill="#8d6b00"/>
<rect x="76.766" y="457.10" width="0.620" height="10.70" fill="#8d6b00"/>
<rect x="77.136" y="457.10" width="0.620" height="10.70" fill="#8d6b00"/>
<rect x="77.506" y="457.10" width="0.620" height="10.70" fill="#926f00"/>
<rect x="77.876" y="457.10" width="0.620" height="10.70" fill="#926f00"/>
<rect x="78.247" y="457.10" width="0.620" height="10.70" fill="#926f00"/>
<rect x="78.617" y="457.10" width="0.620" height="10.70" fill="#8a6900"/>
<rect x="78.987" y="457.10" width="0.620" height="10.70" fill="#b18700"/>
<rect x="79.357" y="457.10" width="0.620" height="10.70" fill="#a77f00"/>
<rect x="79.727" y="457.10" width="0.620" height="10.70" fill="#a27b00"/>
<rect x="80.098" y="457.10" width="0.620" height="10.70" fill="#9d7800"/>
<rect x="80.468" y="457.10" width="0.620" height="10.70" fill="#9d7700"/>
<rect x="80.838" y="457.10" width="0.620" height="10.70" fill="#9d7700"/>
<rect x="81.208" y="457.10" width="0.620" height="10.70" fill="#9e7800"/>
<rect x="81.578" y="457.10" width="0.620" height="10.70" fill="#ac8200"/>
<rect x="81.949" y="457.10" width="0.620" height="10.70" fill="#ac8200"/>
<rect x="82.319" y="457.10" width="0.620" height="10.70" fill="#ac8300"/>
<rect x="82.689" y="457.10" width="0.620" height="10.70" fill="#ac8300"/>
<rect x="83.059" y="457.10" width="0.620" height="10.70" fill="#ac8200"/>
<rect x="83.429" y="457.10" width="0.620" height="10.70" fill="#ac8300"/>
<rect x="83.800" y="457.10" width="0.620" height="10.70" fill="#ac8300"/>
<rect x="84.170" y="457.10" width="0.620" height="10.70" fill="#a07a00"/>
<rect x="84.540" y="457.10" width="0.620" height="10.70" fill="#a07a00"/>
<rect x="84.910" y="457.10" width="0.620" height="10.70" fill="#a17a00"/>
<rect x="85.280" y="457.10" width="0.620" height="10.70" fill="#b78b00"/>
<rect x="85.651" y="457.10" width="0.620" height="10.70" fill="#ac8300"/>
<rect x="86.021" y="457.10" width="0.620" height="10.70" fill="#ac8300"/>
<rect x="86.391" y="457.10" width="0.620" height="10.70" fill="#ad8300"/>
<rect x="86.761" y="457.10" width="0.620" height="10.70" fill="#c29400"/>
<rect x="87.131" y="457.10" width="0.620" height="10.70" fill="#ad8300"/>
<rect x="87.502" y="457.10" width="0.620" height="10.70" fill="#a17a00"/>
<rect x="87.872" y="457.10" width="0.620" height="10.70" fill="#b38800"/>
<rect x="88.242" y="457.10" width="0.620" height="10.70" fill="#ac8200"/>
<rect x="88.612" y="457.10" width="0.620" height="10.70" fill="#ad8300"/>
<rect x="88.982" y="457.10" width="0.620" height="10.70" fill="#987300"/>
<rect x="89.353" y="457.10" width="0.620" height="10.70" fill="#ac8200"/>
<rect x="89.723" y="457.10" width="0.620" height="10.70" fill="#ac8200"/>
<rect x="90.093" y="457.10" width="0.620" height="10.70" fill="#a77f00"/>
<rect x="90.463" y="457.10" width="0.620" height="10.70" fill="#a87f00"/>
<rect x="90.833" y="457.10" width="0.620" height="10.70" fill="#a87f00"/>
<rect x="91.204" y="457.10" width="0.620" height="10.70" fill="#ab8200"/>
<rect x="91.574" y="457.10" width="0.620" height="10.70" fill="#ab8200"/>
<rect x="91.944" y="457.10" width="0.620" height="10.70" fill="#ab8200"/>
<rect x="92.314" y="457.10" width="0.620" height="10.70" fill="#a87f00"/>
<rect x="92.684" y="457.10" width="0.620" height="10.70" fill="#a87f00"/>
<rect x="93.055" y="457.10" width="0.620" height="10.70" fill="#a88000"/>
<rect x="93.425" y="457.10" width="0.620" height="10.70" fill="#aa8100"/>
<rect x="93.795" y="457.10" width="0.620" height="10.70" fill="#aa8100"/>
<rect x="94.165" y="457.10" width="0.620" height="10.70" fill="#a98000"/>
<rect x="94.535" y="457.10" width="0.620" height="10.70" fill="#ae8400"/>
<rect x="94.905" y="457.10" width="0.620" height="10.70" fill="#ae8400"/>
<rect x="95.276" y="457.10" width="0.620" height="10.70" fill="#987300"/>
<rect x="95.646" y="457.10" width="0.620" height="10.70" fill="#c99900"/>
<rect x="96.016" y="457.10" width="0.620" height="10.70" fill="#886700"/>
<rect x="96.386" y="457.10" width="0.620" height="10.70" fill="#886700"/>
<rect x="96.756" y="457.10" width="0.620" height="10.70" fill="#916e00"/>
<rect x="97.127" y="457.10" width="0.620" height="10.70" fill="#b08500"/>
<rect x="97.497" y="457.10" width="0.620" height="10.70" fill="#a07a00"/>
<rect x="97.867" y="457.10" width="0.620" height="10.70" fill="#a07a00"/>
<rect x="98.237" y="457.10" width="0.620" height="10.70" fill="#947000"/>
<rect x="98.607" y="457.10" width="0.620" height="10.70" fill="#947000"/>
<rect x="98.978" y="457.10" width="0.620" height="10.70" fill="#ba8d00"/>
<rect x="99.348" y="457.10" width="0.620" height="10.70" fill="#ba8e00"/>
<rect x="99.718" y="457.10" width="0.620" height="10.70" fill="#b58a00"/>
<rect x="100.088" y="457.10" width="0.620" height="10.70" fill="#b58a00"/>
<rect x="100.458" y="457.10" width="0.620" height="10.70" fill="#b28700"/>
<rect x="100.829" y="457.10" width="0.620" height="10.70" fill="#b28700"/>
<rect x="101.199" y="457.10" width="0.620" height="10.70" fill="#b08600"/>
<rect x="101.569" y="457.10" width="0.620" height="10.70" fill="#b18600"/>
<rect x="101.939" y="457.10" width="0.620" height="10.70" fill="#ab8200"/>
<rect x="102.309" y="457.10" width="0.620" height="10.70" fill="#ab8200"/>
<rect x="102.680" y="457.10" width="0.620" height="10.70" fill="#ca9900"/>
<rect x="103.050" y="457.10" width="0.620" height="10.70" fill="#ca9900"/>
<rect x="103.420" y="457.10" width="0.620" height="10.70" fill="#ca9900"/>
<rect x="103.790" y="457.10" width="0.620" height="10.70" fill="#c79700"/>
<rect x="104.160" y="457.10" width="0.620" height="10.70" fill="#c79700"/>
<rect x="104.531" y="457.10" width="0.620" height="10.70" fill="#c79700"/>
<rect x="104.901" y="457.10" width="0.620" height="10.70" fill="#977300"/>
<rect x="105.271" y="457.10" width="0.620" height="10.70" fill="#977300"/>
<rect x="105.641" y="457.10" width="0.620" height="10.70" fill="#987300"/>
<rect x="106.011" y="457.10" width="0.620" height="10.70" fill="#a47c00"/>
<rect x="106.382" y="457.10" width="0.620" height="10.70" fill="#a47c00"/>
<rect x="106.752" y="457.10" width="0.620" height="10.70" fill="#a47d00"/>
<rect x="107.122" y="457.10" width="0.620" height="10.70" fill="#a98000"/>
<rect x="107.492" y="457.10" width="0.620" height="10.70" fill="#a98100"/>
<rect x="107.862" y="457.10" width="0.620" height="10.70" fill="#a98100"/>
<rect x="108.233" y="457.10" width="0.620" height="10.70" fill="#aa8100"/>
<rect x="108.603" y="457.10" width="0.620" height="10.70" fill="#aa8100"/>
<rect x="108.973" y="457.10" width="0.620" height="10.70" fill="#aa8100"/>
<rect x="109.343" y="457.10" width="0.620" height="10.70" fill="#ce9c00"/>
<rect x="109.713" y="457.10" width="0.620" height="10.70" fill="#ce9c00"/>
<rect x="110.084" y="457.10" width="0.620" height="10.70" fill="#ce9c00"/>
<rect x="110.454" y="457.10" width="0.620" height="10.70" fill="#b18600"/>
<rect x="110.824" y="457.10" width="0.620" height="10.70" fill="#b18600"/>
<rect x="111.194" y="457.10" width="0.620" height="10.70" fill="#b18600"/>
<rect x="111.564" y="457.10" width="0.620" height="10.70" fill="#c69600"/>
<rect x="111.935" y="457.10" width="0.620" height="10.70" fill="#e2ac00"/>
<rect x="112.305" y="457.10" width="0.620" height="10.70" fill="#b48900"/>
<rect x="112.675" y="457.10" width="0.620" height="10.70" fill="#b48900"/>
<rect x="113.045" y="457.10" width="0.620" height="10.70" fill="#9f7900"/>
<rect x="113.415" y="457.10" width="0.620" height="10.70" fill="#a47d00"/>
<rect x="113.785" y="457.10" width="0.620" height="10.70" fill="#a47d00"/>
<rect x="114.156" y="457.10" width="0.620" height="10.70" fill="#b28700"/>
<rect x="114.526" y="457.10" width="0.620" height="10.70" fill="#b28700"/>
<rect x="114.896" y="457.10" width="0.620" height="10.70" fill="#b28700"/>
<rect x="115.266" y="457.10" width="0.620" height="10.70" fill="#d3a000"/>
<rect x="115.636" y="457.10" width="0.620" height="10.70" fill="#d3a100"/>
<rect x="116.007" y="457.10" width="0.620" height="10.70" fill="#d4a100"/>
<rect x="116.377" y="457.10" width="0.620" height="10.70" fill="#c39400"/>
<rect x="116.747" y="457.10" width="0.620" height="10.70" fill="#977300"/>
<rect x="117.117" y="457.10" width="0.620" height="10.70" fill="#b38800"/>
<rect x="117.487" y="457.10" width="0.620" height="10.70" fill="#ab8200"/>
<rect x="117.858" y="457.10" width="0.620" height="10.70" fill="#ab8200"/>
<rect x="118.228" y="457.10" width="0.620" height="10.70" fill="#ab8200"/>
<rect x="118.598" y="457.10" width="0.620" height="10.70" fill="#a17a00"/>
<rect x="118.968" y="457.10" width="0.620" height="10.70" fill="#a17a00"/>
<rect x="119.338" y="457.10" width="0.620" height="10.70" fill="#a17a00"/>
<rect x="119.709" y="457.10" width="0.620" height="10.70" fill="#be9000"/>
<rect x="120.079" y="457.10" width="0.620" height="10.70" fill="#bc8f00"/>
<rect x="120.449" y="457.10" width="0.620" height="10.70" fill="#bc8f00"/>
<rect x="120.819" y="457.10" width="0.620" height="10.70" fill="#ce9c00"/>
<rect x="121.189" y="457.10" width="0.620" height="10.70" fill="#af8500"/>
<rect x="121.560" y="457.10" width="0.620" height="10.70" fill="#b08500"/>
<rect x="121.930" y="457.10" width="0.620" height="10.70" fill="#b48800"/>
<rect x="27.90" y="469.2" width="94.40" height="9.20" fill="#565656"/>
<line x1="27.90" y1="471.20" x2="122.30" y2="471.20" stroke="#a8a8a8" stroke-width="0.5"/>
<line x1="27.90" y1="473.30" x2="122.30" y2="473.30" stroke="#a8a8a8" stroke-width="0.5"/>
<line x1="27.90" y1="475.30" x2="122.30" y2="475.30" stroke="#a8a8a8" stroke-width="0.5"/>
<line x1="27.90" y1="477.30" x2="122.30" y2="477.30" stroke="#a8a8a8" stroke-width="0.5"/>
<polyline points="27.90,451.85 7.10,451.85 7.10,462.45 27.90,462.45" fill="none" stroke="#555" stroke-width="0.8"/>
<text x="123.90" y="445.2" font-size="4.6" font-weight="bold" fill="#222">type</text>
<text x="123.90" y="453.95" font-size="4.6" text-anchor="start" fill="#222">PYCR1</text>
<text x="123.90" y="464.55" font-size="4.6" text-anchor="start" fill="#222">PYCR2</text>
<defs><linearGradient id="gC" x1="0" y1="0" x2="0" y2="1"><stop offset="0" stop-color="#f5ba00"/><stop offset="0.12" stop-color="#f0b400"/><stop offset="0.5" stop-color="#000"/><stop offset="0.88" stop-color="#1b6fbd"/><stop offset="1" stop-color="#1c7bc9"/></linearGradient></defs>
<rect x="141.50" y="451.3" width="4.4" height="24.2" fill="url(#gC)"/>
<text x="147.50" y="454.00" font-size="4.6" text-anchor="start" fill="#222">10</text>
<text x="147.50" y="461.40" font-size="4.6" text-anchor="start" fill="#222">5</text>
<text x="147.50" y="468.80" font-size="4.6" text-anchor="start" fill="#222">0</text>
<text x="147.50" y="476.10" font-size="4.6" text-anchor="start" fill="#222">−5</text>
<text x="163.10" y="450.0" font-size="4.6" font-weight="bold" fill="#222">type</text>
<rect x="163.10" y="452.2" width="3.8" height="3.6" fill="#eedb8a"/>
<rect x="163.10" y="456.8" width="3.8" height="3.6" fill="#1b8ed0"/>
<text x="168.30" y="455.60" font-size="4.6" text-anchor="start" fill="#222">high</text>
<text x="168.30" y="460.20" font-size="4.6" text-anchor="start" fill="#222">low</text>
<line x1="288.75" y1="311.80" x2="288.75" y2="345.30" stroke="#555" stroke-width="0.7" stroke-dasharray="1,1.2"/>
<line x1="288.75" y1="342.70" x2="350.90" y2="342.70" stroke="#555" stroke-width="0.7" stroke-dasharray="1,1.2"/>
<circle cx="218.11" cy="344.87" r="0.95" fill="#1f78c8"/>
<circle cx="218.61" cy="343.87" r="0.95" fill="#1f78c8"/>
<circle cx="219.12" cy="343.62" r="0.95" fill="#1f78c8"/>
<circle cx="219.63" cy="343.37" r="0.95" fill="#1f78c8"/>
<circle cx="220.13" cy="343.31" r="0.95" fill="#1f78c8"/>
<circle cx="220.64" cy="343.26" r="0.95" fill="#1f78c8"/>
<circle cx="221.14" cy="343.20" r="0.95" fill="#1f78c8"/>
<circle cx="221.65" cy="343.15" r="0.95" fill="#1f78c8"/>
<circle cx="222.16" cy="343.09" r="0.95" fill="#1f78c8"/>
<circle cx="222.66" cy="343.04" r="0.95" fill="#1f78c8"/>
<circle cx="223.17" cy="343.03" r="0.95" fill="#1f78c8"/>
<circle cx="223.68" cy="343.03" r="0.95" fill="#1f78c8"/>
<circle cx="224.18" cy="343.03" r="0.95" fill="#1f78c8"/>
<circle cx="224.69" cy="343.03" r="0.95" fill="#1f78c8"/>
<circle cx="225.20" cy="343.02" r="0.95" fill="#1f78c8"/>
<circle cx="225.70" cy="343.02" r="0.95" fill="#1f78c8"/>
<circle cx="226.21" cy="343.02" r="0.95" fill="#1f78c8"/>
<circle cx="226.72" cy="343.02" r="0.95" fill="#1f78c8"/>
<circle cx="227.22" cy="343.01" r="0.95" fill="#1f78c8"/>
<circle cx="227.73" cy="343.01" r="0.95" fill="#1f78c8"/>
<circle cx="228.23" cy="343.01" r="0.95" fill="#1f78c8"/>
<circle cx="228.74" cy="343.01" r="0.95" fill="#1f78c8"/>
<circle cx="229.25" cy="343.00" r="0.95" fill="#1f78c8"/>
<circle cx="229.75" cy="343.00" r="0.95" fill="#1f78c8"/>
<circle cx="230.26" cy="343.00" r="0.95" fill="#1f78c8"/>
<circle cx="230.77" cy="343.00" r="0.95" fill="#1f78c8"/>
<circle cx="231.27" cy="342.99" r="0.95" fill="#1f78c8"/>
<circle cx="231.78" cy="342.99" r="0.95" fill="#1f78c8"/>
<circle cx="232.29" cy="342.99" r="0.95" fill="#1f78c8"/>
<circle cx="232.79" cy="342.99" r="0.95" fill="#1f78c8"/>
<circle cx="233.30" cy="342.98" r="0.95" fill="#1f78c8"/>
<circle cx="233.80" cy="342.98" r="0.95" fill="#1f78c8"/>
<circle cx="234.31" cy="342.98" r="0.95" fill="#1f78c8"/>
<circle cx="234.82" cy="342.98" r="0.95" fill="#1f78c8"/>
<circle cx="235.32" cy="342.97" r="0.95" fill="#1f78c8"/>
<circle cx="235.83" cy="342.97" r="0.95" fill="#1f78c8"/>
<circle cx="236.34" cy="342.97" r="0.95" fill="#1f78c8"/>
<circle cx="236.84" cy="342.96" r="0.95" fill="#1f78c8"/>
<circle cx="237.35" cy="342.96" r="0.95" fill="#1f78c8"/>
<circle cx="237.86" cy="342.96" r="0.95" fill="#1f78c8"/>
<circle cx="238.36" cy="342.96" r="0.95" fill="#1f78c8"/>
<circle cx="238.87" cy="342.95" r="0.95" fill="#1f78c8"/>
<circle cx="239.38" cy="342.95" r="0.95" fill="#1f78c8"/>
<circle cx="239.88" cy="342.95" r="0.95" fill="#1f78c8"/>
<circle cx="240.39" cy="342.95" r="0.95" fill="#1f78c8"/>
<circle cx="240.89" cy="342.94" r="0.95" fill="#1f78c8"/>
<circle cx="241.40" cy="342.94" r="0.95" fill="#1f78c8"/>
<circle cx="241.91" cy="342.94" r="0.95" fill="#1f78c8"/>
<circle cx="242.41" cy="342.94" r="0.95" fill="#1f78c8"/>
<circle cx="242.92" cy="342.93" r="0.95" fill="#1f78c8"/>
<circle cx="243.43" cy="342.93" r="0.95" fill="#1f78c8"/>
<circle cx="243.93" cy="342.93" r="0.95" fill="#1f78c8"/>
<circle cx="244.44" cy="342.93" r="0.95" fill="#1f78c8"/>
<circle cx="244.95" cy="342.92" r="0.95" fill="#1f78c8"/>
<circle cx="245.45" cy="342.92" r="0.95" fill="#1f78c8"/>
<circle cx="245.96" cy="342.92" r="0.95" fill="#1f78c8"/>
<circle cx="246.46" cy="342.92" r="0.95" fill="#1f78c8"/>
<circle cx="246.97" cy="342.91" r="0.95" fill="#1f78c8"/>
<circle cx="247.48" cy="342.91" r="0.95" fill="#1f78c8"/>
<circle cx="247.98" cy="342.91" r="0.95" fill="#1f78c8"/>
<circle cx="248.49" cy="342.91" r="0.95" fill="#1f78c8"/>
<circle cx="249.00" cy="342.90" r="0.95" fill="#1f78c8"/>
<circle cx="249.50" cy="342.90" r="0.95" fill="#1f78c8"/>
<circle cx="250.01" cy="342.90" r="0.95" fill="#1f78c8"/>
<circle cx="250.52" cy="342.90" r="0.95" fill="#1f78c8"/>
<circle cx="251.02" cy="342.89" r="0.95" fill="#1f78c8"/>
<circle cx="251.53" cy="342.89" r="0.95" fill="#1f78c8"/>
<circle cx="252.04" cy="342.89" r="0.95" fill="#1f78c8"/>
<circle cx="252.54" cy="342.89" r="0.95" fill="#1f78c8"/>
<circle cx="253.05" cy="342.88" r="0.95" fill="#1f78c8"/>
<circle cx="253.55" cy="342.88" r="0.95" fill="#1f78c8"/>
<circle cx="254.06" cy="342.88" r="0.95" fill="#1f78c8"/>
<circle cx="254.57" cy="342.88" r="0.95" fill="#1f78c8"/>
<circle cx="255.07" cy="342.87" r="0.95" fill="#1f78c8"/>
<circle cx="255.58" cy="342.87" r="0.95" fill="#1f78c8"/>
<circle cx="256.09" cy="342.87" r="0.95" fill="#1f78c8"/>
<circle cx="256.59" cy="342.86" r="0.95" fill="#1f78c8"/>
<circle cx="257.10" cy="342.86" r="0.95" fill="#1f78c8"/>
<circle cx="257.61" cy="342.86" r="0.95" fill="#1f78c8"/>
<circle cx="258.11" cy="342.86" r="0.95" fill="#1f78c8"/>
<circle cx="258.62" cy="342.85" r="0.95" fill="#1f78c8"/>
<circle cx="259.12" cy="342.85" r="0.95" fill="#1f78c8"/>
<circle cx="259.63" cy="342.85" r="0.95" fill="#1f78c8"/>
<circle cx="260.14" cy="342.85" r="0.95" fill="#1f78c8"/>
<circle cx="260.64" cy="342.84" r="0.95" fill="#1f78c8"/>
<circle cx="261.15" cy="342.84" r="0.95" fill="#1f78c8"/>
<circle cx="261.66" cy="342.84" r="0.95" fill="#1f78c8"/>
<circle cx="262.16" cy="342.84" r="0.95" fill="#1f78c8"/>
<circle cx="262.67" cy="342.83" r="0.95" fill="#1f78c8"/>
<circle cx="263.18" cy="342.83" r="0.95" fill="#1f78c8"/>
<circle cx="263.68" cy="342.83" r="0.95" fill="#1f78c8"/>
<circle cx="264.19" cy="342.83" r="0.95" fill="#1f78c8"/>
<circle cx="264.70" cy="342.82" r="0.95" fill="#1f78c8"/>
<circle cx="265.20" cy="342.82" r="0.95" fill="#1f78c8"/>
<circle cx="265.71" cy="342.82" r="0.95" fill="#1f78c8"/>
<circle cx="266.21" cy="342.82" r="0.95" fill="#1f78c8"/>
<circle cx="266.72" cy="342.81" r="0.95" fill="#1f78c8"/>
<circle cx="267.23" cy="342.81" r="0.95" fill="#1f78c8"/>
<circle cx="267.73" cy="342.81" r="0.95" fill="#1f78c8"/>
<circle cx="268.24" cy="342.81" r="0.95" fill="#1f78c8"/>
<circle cx="268.75" cy="342.80" r="0.95" fill="#1f78c8"/>
<circle cx="269.25" cy="342.80" r="0.95" fill="#1f78c8"/>
<circle cx="269.76" cy="342.80" r="0.95" fill="#1f78c8"/>
<circle cx="270.27" cy="342.80" r="0.95" fill="#1f78c8"/>
<circle cx="270.77" cy="342.79" r="0.95" fill="#1f78c8"/>
<circle cx="271.28" cy="342.79" r="0.95" fill="#1f78c8"/>
<circle cx="271.78" cy="342.79" r="0.95" fill="#1f78c8"/>
<circle cx="272.29" cy="342.79" r="0.95" fill="#1f78c8"/>
<circle cx="272.80" cy="342.78" r="0.95" fill="#1f78c8"/>
<circle cx="273.30" cy="342.78" r="0.95" fill="#1f78c8"/>
<circle cx="273.81" cy="342.78" r="0.95" fill="#1f78c8"/>
<circle cx="274.32" cy="342.78" r="0.95" fill="#1f78c8"/>
<circle cx="274.82" cy="342.77" r="0.95" fill="#1f78c8"/>
<circle cx="275.33" cy="342.77" r="0.95" fill="#1f78c8"/>
<circle cx="275.84" cy="342.77" r="0.95" fill="#1f78c8"/>
<circle cx="276.34" cy="342.76" r="0.95" fill="#1f78c8"/>
<circle cx="276.85" cy="342.76" r="0.95" fill="#1f78c8"/>
<circle cx="277.36" cy="342.76" r="0.95" fill="#1f78c8"/>
<circle cx="277.86" cy="342.76" r="0.95" fill="#1f78c8"/>
<circle cx="278.37" cy="342.75" r="0.95" fill="#1f78c8"/>
<circle cx="278.87" cy="342.75" r="0.95" fill="#1f78c8"/>
<circle cx="279.38" cy="342.75" r="0.95" fill="#1f78c8"/>
<circle cx="279.89" cy="342.75" r="0.95" fill="#1f78c8"/>
<circle cx="280.39" cy="342.74" r="0.95" fill="#1f78c8"/>
<circle cx="280.90" cy="342.74" r="0.95" fill="#1f78c8"/>
<circle cx="281.41" cy="342.74" r="0.95" fill="#1f78c8"/>
<circle cx="281.91" cy="342.74" r="0.95" fill="#1f78c8"/>
<circle cx="282.42" cy="342.73" r="0.95" fill="#1f78c8"/>
<circle cx="282.93" cy="342.73" r="0.95" fill="#1f78c8"/>
<circle cx="283.43" cy="342.73" r="0.95" fill="#1f78c8"/>
<circle cx="283.94" cy="342.73" r="0.95" fill="#1f78c8"/>
<circle cx="284.44" cy="342.72" r="0.95" fill="#1f78c8"/>
<circle cx="284.95" cy="342.72" r="0.95" fill="#1f78c8"/>
<circle cx="285.46" cy="342.72" r="0.95" fill="#1f78c8"/>
<circle cx="285.96" cy="342.72" r="0.95" fill="#1f78c8"/>
<circle cx="286.47" cy="342.71" r="0.95" fill="#1f78c8"/>
<circle cx="286.98" cy="342.71" r="0.95" fill="#1f78c8"/>
<circle cx="287.48" cy="342.71" r="0.95" fill="#1f78c8"/>
<circle cx="287.99" cy="342.71" r="0.95" fill="#1f78c8"/>
<circle cx="288.50" cy="342.70" r="0.95" fill="#1f78c8"/>
<circle cx="289.00" cy="342.70" r="0.95" fill="#f2b51d"/>
<circle cx="289.51" cy="342.70" r="0.95" fill="#f2b51d"/>
<circle cx="290.02" cy="342.69" r="0.95" fill="#f2b51d"/>
<circle cx="290.52" cy="342.69" r="0.95" fill="#f2b51d"/>
<circle cx="291.03" cy="342.68" r="0.95" fill="#f2b51d"/>
<circle cx="291.53" cy="342.68" r="0.95" fill="#f2b51d"/>
<circle cx="292.04" cy="342.68" r="0.95" fill="#f2b51d"/>
<circle cx="292.55" cy="342.67" r="0.95" fill="#f2b51d"/>
<circle cx="293.05" cy="342.67" r="0.95" fill="#f2b51d"/>
<circle cx="293.56" cy="342.66" r="0.95" fill="#f2b51d"/>
<circle cx="294.07" cy="342.66" r="0.95" fill="#f2b51d"/>
<circle cx="294.57" cy="342.66" r="0.95" fill="#f2b51d"/>
<circle cx="295.08" cy="342.65" r="0.95" fill="#f2b51d"/>
<circle cx="295.59" cy="342.65" r="0.95" fill="#f2b51d"/>
<circle cx="296.09" cy="342.65" r="0.95" fill="#f2b51d"/>
<circle cx="296.60" cy="342.64" r="0.95" fill="#f2b51d"/>
<circle cx="297.10" cy="342.64" r="0.95" fill="#f2b51d"/>
<circle cx="297.61" cy="342.63" r="0.95" fill="#f2b51d"/>
<circle cx="298.12" cy="342.63" r="0.95" fill="#f2b51d"/>
<circle cx="298.62" cy="342.63" r="0.95" fill="#f2b51d"/>
<circle cx="299.13" cy="342.62" r="0.95" fill="#f2b51d"/>
<circle cx="299.64" cy="342.62" r="0.95" fill="#f2b51d"/>
<circle cx="300.14" cy="342.61" r="0.95" fill="#f2b51d"/>
<circle cx="300.65" cy="342.61" r="0.95" fill="#f2b51d"/>
<circle cx="301.16" cy="342.61" r="0.95" fill="#f2b51d"/>
<circle cx="301.66" cy="342.60" r="0.95" fill="#f2b51d"/>
<circle cx="302.17" cy="342.60" r="0.95" fill="#f2b51d"/>
<circle cx="302.68" cy="342.59" r="0.95" fill="#f2b51d"/>
<circle cx="303.18" cy="342.59" r="0.95" fill="#f2b51d"/>
<circle cx="303.69" cy="342.59" r="0.95" fill="#f2b51d"/>
<circle cx="304.19" cy="342.58" r="0.95" fill="#f2b51d"/>
<circle cx="304.70" cy="342.58" r="0.95" fill="#f2b51d"/>
<circle cx="305.21" cy="342.58" r="0.95" fill="#f2b51d"/>
<circle cx="305.71" cy="342.57" r="0.95" fill="#f2b51d"/>
<circle cx="306.22" cy="342.57" r="0.95" fill="#f2b51d"/>
<circle cx="306.73" cy="342.56" r="0.95" fill="#f2b51d"/>
<circle cx="307.23" cy="342.56" r="0.95" fill="#f2b51d"/>
<circle cx="307.74" cy="342.56" r="0.95" fill="#f2b51d"/>
<circle cx="308.25" cy="342.55" r="0.95" fill="#f2b51d"/>
<circle cx="308.75" cy="342.55" r="0.95" fill="#f2b51d"/>
<circle cx="309.26" cy="342.54" r="0.95" fill="#f2b51d"/>
<circle cx="309.76" cy="342.54" r="0.95" fill="#f2b51d"/>
<circle cx="310.27" cy="342.54" r="0.95" fill="#f2b51d"/>
<circle cx="310.78" cy="342.53" r="0.95" fill="#f2b51d"/>
<circle cx="311.28" cy="342.53" r="0.95" fill="#f2b51d"/>
<circle cx="311.79" cy="342.52" r="0.95" fill="#f2b51d"/>
<circle cx="312.30" cy="342.52" r="0.95" fill="#f2b51d"/>
<circle cx="312.80" cy="342.52" r="0.95" fill="#f2b51d"/>
<circle cx="313.31" cy="342.51" r="0.95" fill="#f2b51d"/>
<circle cx="313.82" cy="342.51" r="0.95" fill="#f2b51d"/>
<circle cx="314.32" cy="342.51" r="0.95" fill="#f2b51d"/>
<circle cx="314.83" cy="342.50" r="0.95" fill="#f2b51d"/>
<circle cx="315.34" cy="342.50" r="0.95" fill="#f2b51d"/>
<circle cx="315.84" cy="342.49" r="0.95" fill="#f2b51d"/>
<circle cx="316.35" cy="342.49" r="0.95" fill="#f2b51d"/>
<circle cx="316.85" cy="342.49" r="0.95" fill="#f2b51d"/>
<circle cx="317.36" cy="342.48" r="0.95" fill="#f2b51d"/>
<circle cx="317.87" cy="342.48" r="0.95" fill="#f2b51d"/>
<circle cx="318.37" cy="342.47" r="0.95" fill="#f2b51d"/>
<circle cx="318.88" cy="342.47" r="0.95" fill="#f2b51d"/>
<circle cx="319.39" cy="342.45" r="0.95" fill="#f2b51d"/>
<circle cx="319.89" cy="342.43" r="0.95" fill="#f2b51d"/>
<circle cx="320.40" cy="342.41" r="0.95" fill="#f2b51d"/>
<circle cx="320.91" cy="342.38" r="0.95" fill="#f2b51d"/>
<circle cx="321.41" cy="342.36" r="0.95" fill="#f2b51d"/>
<circle cx="321.92" cy="342.34" r="0.95" fill="#f2b51d"/>
<circle cx="322.42" cy="342.32" r="0.95" fill="#f2b51d"/>
<circle cx="322.93" cy="342.30" r="0.95" fill="#f2b51d"/>
<circle cx="323.44" cy="342.28" r="0.95" fill="#f2b51d"/>
<circle cx="323.94" cy="342.26" r="0.95" fill="#f2b51d"/>
<circle cx="324.45" cy="342.23" r="0.95" fill="#f2b51d"/>
<circle cx="324.96" cy="342.21" r="0.95" fill="#f2b51d"/>
<circle cx="325.46" cy="342.19" r="0.95" fill="#f2b51d"/>
<circle cx="325.97" cy="342.17" r="0.95" fill="#f2b51d"/>
<circle cx="326.48" cy="342.15" r="0.95" fill="#f2b51d"/>
<circle cx="326.98" cy="342.13" r="0.95" fill="#f2b51d"/>
<circle cx="327.49" cy="342.11" r="0.95" fill="#f2b51d"/>
<circle cx="328.00" cy="342.09" r="0.95" fill="#f2b51d"/>
<circle cx="328.50" cy="342.06" r="0.95" fill="#f2b51d"/>
<circle cx="329.01" cy="342.04" r="0.95" fill="#f2b51d"/>
<circle cx="329.51" cy="342.02" r="0.95" fill="#f2b51d"/>
<circle cx="330.02" cy="342.00" r="0.95" fill="#f2b51d"/>
<circle cx="330.53" cy="341.98" r="0.95" fill="#f2b51d"/>
<circle cx="331.03" cy="341.96" r="0.95" fill="#f2b51d"/>
<circle cx="331.54" cy="341.94" r="0.95" fill="#f2b51d"/>
<circle cx="332.05" cy="341.91" r="0.95" fill="#f2b51d"/>
<circle cx="332.55" cy="341.89" r="0.95" fill="#f2b51d"/>
<circle cx="333.06" cy="341.87" r="0.95" fill="#f2b51d"/>
<circle cx="333.57" cy="341.73" r="0.95" fill="#f2b51d"/>
<circle cx="334.07" cy="341.59" r="0.95" fill="#f2b51d"/>
<circle cx="334.58" cy="341.45" r="0.95" fill="#f2b51d"/>
<circle cx="335.08" cy="341.32" r="0.95" fill="#f2b51d"/>
<circle cx="335.59" cy="341.18" r="0.95" fill="#f2b51d"/>
<circle cx="336.10" cy="341.04" r="0.95" fill="#f2b51d"/>
<circle cx="336.60" cy="340.90" r="0.95" fill="#f2b51d"/>
<circle cx="337.11" cy="340.76" r="0.95" fill="#f2b51d"/>
<circle cx="337.62" cy="340.62" r="0.95" fill="#f2b51d"/>
<circle cx="338.12" cy="340.48" r="0.95" fill="#f2b51d"/>
<circle cx="338.63" cy="340.34" r="0.95" fill="#f2b51d"/>
<circle cx="339.14" cy="340.21" r="0.95" fill="#f2b51d"/>
<circle cx="339.64" cy="339.82" r="0.95" fill="#f2b51d"/>
<circle cx="340.15" cy="339.43" r="0.95" fill="#f2b51d"/>
<circle cx="340.66" cy="339.04" r="0.95" fill="#f2b51d"/>
<circle cx="341.16" cy="338.65" r="0.95" fill="#f2b51d"/>
<circle cx="341.67" cy="338.26" r="0.95" fill="#f2b51d"/>
<circle cx="342.17" cy="337.88" r="0.95" fill="#f2b51d"/>
<circle cx="342.68" cy="336.65" r="0.95" fill="#f2b51d"/>
<circle cx="343.19" cy="335.43" r="0.95" fill="#f2b51d"/>
<circle cx="343.69" cy="334.21" r="0.95" fill="#f2b51d"/>
<circle cx="344.20" cy="332.88" r="0.95" fill="#f2b51d"/>
<circle cx="344.71" cy="324.22" r="0.95" fill="#f2b51d"/>
<circle cx="345.21" cy="312.90" r="0.95" fill="#f2b51d"/>
<rect x="213.60" y="311.80" width="137.30" height="33.50" fill="none" stroke="#8f8f8f" stroke-width="1.15"/>
<line x1="210.60" y1="312.90" x2="213.60" y2="312.90" stroke="#6a6a6a" stroke-width="0.8"/>
<text x="207.30" y="312.90" font-size="4.4" text-anchor="middle" fill="#222" transform="rotate(-90 207.30 312.90)">10</text>
<line x1="210.60" y1="319.56" x2="213.60" y2="319.56" stroke="#6a6a6a" stroke-width="0.8"/>
<line x1="210.60" y1="326.22" x2="213.60" y2="326.22" stroke="#6a6a6a" stroke-width="0.8"/>
<text x="207.30" y="326.22" font-size="4.4" text-anchor="middle" fill="#222" transform="rotate(-90 207.30 326.22)">6</text>
<line x1="210.60" y1="332.88" x2="213.60" y2="332.88" stroke="#6a6a6a" stroke-width="0.8"/>
<line x1="210.60" y1="339.54" x2="213.60" y2="339.54" stroke="#6a6a6a" stroke-width="0.8"/>
<text x="207.30" y="339.54" font-size="4.4" text-anchor="middle" fill="#222" transform="rotate(-90 207.30 339.54)">2</text>
<line x1="217.60" y1="345.30" x2="217.60" y2="347.90" stroke="#6a6a6a" stroke-width="0.8"/>
<text x="217.60" y="355.60" font-size="4.9" text-anchor="middle" class="s" fill="#222">0</text>
<line x1="242.92" y1="345.30" x2="242.92" y2="347.90" stroke="#6a6a6a" stroke-width="0.8"/>
<text x="242.92" y="355.60" font-size="4.9" text-anchor="middle" class="s" fill="#222">50</text>
<line x1="268.24" y1="345.30" x2="268.24" y2="347.90" stroke="#6a6a6a" stroke-width="0.8"/>
<text x="268.24" y="355.60" font-size="4.9" text-anchor="middle" class="s" fill="#222">100</text>
<line x1="293.56" y1="345.30" x2="293.56" y2="347.90" stroke="#6a6a6a" stroke-width="0.8"/>
<text x="293.56" y="355.60" font-size="4.9" text-anchor="middle" class="s" fill="#222">150</text>
<line x1="318.88" y1="345.30" x2="318.88" y2="347.90" stroke="#6a6a6a" stroke-width="0.8"/>
<text x="318.88" y="355.60" font-size="4.9" text-anchor="middle" class="s" fill="#222">200</text>
<line x1="344.20" y1="345.30" x2="344.20" y2="347.90" stroke="#6a6a6a" stroke-width="0.8"/>
<text x="344.20" y="355.60" font-size="4.9" text-anchor="middle" class="s" fill="#222">250</text>
<text x="282.25" y="368.10" font-size="4.75" text-anchor="middle" class="s" fill="#222">Patients (increasing risk score)</text>
<text x="194.10" y="328.55" font-size="4.75" text-anchor="middle" class="s" fill="#222" transform="rotate(-90 194.10 328.55)">Risk score</text>
<line x1="288.75" y1="379.10" x2="288.75" y2="412.40" stroke="#555" stroke-width="0.7" stroke-dasharray="1,1.2"/>
<circle cx="218.11" cy="390.66" r="1.2" fill="#1f78c8"/>
<circle cx="218.61" cy="396.22" r="1.2" fill="#1f78c8"/>
<circle cx="219.12" cy="393.08" r="1.2" fill="#1f78c8"/>
<circle cx="219.63" cy="400.62" r="1.2" fill="#1f78c8"/>
<circle cx="220.13" cy="390.99" r="1.2" fill="#1f78c8"/>
<circle cx="220.64" cy="409.76" r="1.2" fill="#1f78c8"/>
<circle cx="221.14" cy="408.23" r="1.2" fill="#1f78c8"/>
<circle cx="221.65" cy="390.77" r="1.2" fill="#1f78c8"/>
<circle cx="222.16" cy="392.35" r="1.2" fill="#1f78c8"/>
<circle cx="222.66" cy="409.72" r="1.2" fill="#1f78c8"/>
<circle cx="223.17" cy="389.88" r="1.2" fill="#1f78c8"/>
<circle cx="223.68" cy="398.26" r="1.2" fill="#f2b51d"/>
<circle cx="224.18" cy="398.07" r="1.2" fill="#1f78c8"/>
<circle cx="224.69" cy="399.03" r="1.2" fill="#1f78c8"/>
<circle cx="225.20" cy="394.70" r="1.2" fill="#1f78c8"/>
<circle cx="225.70" cy="399.42" r="1.2" fill="#1f78c8"/>
<circle cx="226.21" cy="403.69" r="1.2" fill="#1f78c8"/>
<circle cx="226.72" cy="407.32" r="1.2" fill="#1f78c8"/>
<circle cx="227.22" cy="399.49" r="1.2" fill="#1f78c8"/>
<circle cx="227.73" cy="396.58" r="1.2" fill="#f2b51d"/>
<circle cx="228.23" cy="391.77" r="1.2" fill="#1f78c8"/>
<circle cx="228.74" cy="411.29" r="1.2" fill="#1f78c8"/>
<circle cx="229.25" cy="401.36" r="1.2" fill="#1f78c8"/>
<circle cx="229.75" cy="395.68" r="1.2" fill="#1f78c8"/>
<circle cx="230.26" cy="404.90" r="1.2" fill="#1f78c8"/>
<circle cx="230.77" cy="410.92" r="1.2" fill="#1f78c8"/>
<circle cx="231.27" cy="402.75" r="1.2" fill="#1f78c8"/>
<circle cx="231.78" cy="395.03" r="1.2" fill="#1f78c8"/>
<circle cx="232.29" cy="399.13" r="1.2" fill="#1f78c8"/>
<circle cx="232.79" cy="397.80" r="1.2" fill="#f2b51d"/>
<circle cx="233.30" cy="391.53" r="1.2" fill="#1f78c8"/>
<circle cx="233.80" cy="395.56" r="1.2" fill="#1f78c8"/>
<circle cx="234.31" cy="397.54" r="1.2" fill="#1f78c8"/>
<circle cx="234.82" cy="409.87" r="1.2" fill="#1f78c8"/>
<circle cx="235.32" cy="407.57" r="1.2" fill="#f2b51d"/>
<circle cx="235.83" cy="407.95" r="1.2" fill="#1f78c8"/>
<circle cx="236.34" cy="400.94" r="1.2" fill="#1f78c8"/>
<circle cx="236.84" cy="399.48" r="1.2" fill="#1f78c8"/>
<circle cx="237.35" cy="390.51" r="1.2" fill="#1f78c8"/>
<circle cx="237.86" cy="404.59" r="1.2" fill="#1f78c8"/>
<circle cx="238.36" cy="411.04" r="1.2" fill="#f2b51d"/>
<circle cx="238.87" cy="402.33" r="1.2" fill="#1f78c8"/>
<circle cx="239.38" cy="398.94" r="1.2" fill="#1f78c8"/>
<circle cx="239.88" cy="398.20" r="1.2" fill="#1f78c8"/>
<circle cx="240.39" cy="390.44" r="1.2" fill="#1f78c8"/>
<circle cx="240.89" cy="398.66" r="1.2" fill="#1f78c8"/>
<circle cx="241.40" cy="407.33" r="1.2" fill="#1f78c8"/>
<circle cx="241.91" cy="394.90" r="1.2" fill="#1f78c8"/>
<circle cx="242.41" cy="400.56" r="1.2" fill="#1f78c8"/>
<circle cx="242.92" cy="411.24" r="1.2" fill="#1f78c8"/>
<circle cx="243.43" cy="388.45" r="1.2" fill="#1f78c8"/>
<circle cx="243.93" cy="406.92" r="1.2" fill="#1f78c8"/>
<circle cx="244.44" cy="396.33" r="1.2" fill="#1f78c8"/>
<circle cx="244.95" cy="396.75" r="1.2" fill="#f2b51d"/>
<circle cx="245.45" cy="408.75" r="1.2" fill="#1f78c8"/>
<circle cx="245.96" cy="410.93" r="1.2" fill="#1f78c8"/>
<circle cx="246.46" cy="406.68" r="1.2" fill="#1f78c8"/>
<circle cx="246.97" cy="394.27" r="1.2" fill="#1f78c8"/>
<circle cx="247.48" cy="410.85" r="1.2" fill="#1f78c8"/>
<circle cx="247.98" cy="403.87" r="1.2" fill="#1f78c8"/>
<circle cx="248.49" cy="393.71" r="1.2" fill="#1f78c8"/>
<circle cx="249.00" cy="411.34" r="1.2" fill="#1f78c8"/>
<circle cx="249.50" cy="395.06" r="1.2" fill="#1f78c8"/>
<circle cx="250.01" cy="400.28" r="1.2" fill="#1f78c8"/>
<circle cx="250.52" cy="404.52" r="1.2" fill="#1f78c8"/>
<circle cx="251.02" cy="406.22" r="1.2" fill="#1f78c8"/>
<circle cx="251.53" cy="408.80" r="1.2" fill="#1f78c8"/>
<circle cx="252.04" cy="404.76" r="1.2" fill="#1f78c8"/>
<circle cx="252.54" cy="406.86" r="1.2" fill="#1f78c8"/>
<circle cx="253.05" cy="408.21" r="1.2" fill="#1f78c8"/>
<circle cx="253.55" cy="400.04" r="1.2" fill="#1f78c8"/>
<circle cx="254.06" cy="395.01" r="1.2" fill="#1f78c8"/>
<circle cx="254.57" cy="408.82" r="1.2" fill="#f2b51d"/>
<circle cx="255.07" cy="394.07" r="1.2" fill="#1f78c8"/>
<circle cx="255.58" cy="400.14" r="1.2" fill="#1f78c8"/>
<circle cx="256.09" cy="401.67" r="1.2" fill="#1f78c8"/>
<circle cx="256.59" cy="395.05" r="1.2" fill="#1f78c8"/>
<circle cx="257.10" cy="405.24" r="1.2" fill="#1f78c8"/>
<circle cx="257.61" cy="407.35" r="1.2" fill="#1f78c8"/>
<circle cx="258.11" cy="410.03" r="1.2" fill="#f2b51d"/>
<circle cx="258.62" cy="392.19" r="1.2" fill="#1f78c8"/>
<circle cx="259.12" cy="396.91" r="1.2" fill="#1f78c8"/>
<circle cx="259.63" cy="404.53" r="1.2" fill="#1f78c8"/>
<circle cx="260.14" cy="404.81" r="1.2" fill="#1f78c8"/>
<circle cx="260.64" cy="397.16" r="1.2" fill="#1f78c8"/>
<circle cx="261.15" cy="402.96" r="1.2" fill="#f2b51d"/>
<circle cx="261.66" cy="393.26" r="1.2" fill="#1f78c8"/>
<circle cx="262.16" cy="406.35" r="1.2" fill="#1f78c8"/>
<circle cx="262.67" cy="393.29" r="1.2" fill="#1f78c8"/>
<circle cx="263.18" cy="409.79" r="1.2" fill="#1f78c8"/>
<circle cx="263.68" cy="405.83" r="1.2" fill="#1f78c8"/>
<circle cx="264.19" cy="401.08" r="1.2" fill="#1f78c8"/>
<circle cx="264.70" cy="402.32" r="1.2" fill="#1f78c8"/>
<circle cx="265.20" cy="392.12" r="1.2" fill="#1f78c8"/>
<circle cx="265.71" cy="406.88" r="1.2" fill="#1f78c8"/>
<circle cx="266.21" cy="392.49" r="1.2" fill="#1f78c8"/>
<circle cx="266.72" cy="397.75" r="1.2" fill="#1f78c8"/>
<circle cx="267.23" cy="407.21" r="1.2" fill="#1f78c8"/>
<circle cx="267.73" cy="391.11" r="1.2" fill="#1f78c8"/>
<circle cx="268.24" cy="397.48" r="1.2" fill="#1f78c8"/>
<circle cx="268.75" cy="399.00" r="1.2" fill="#f2b51d"/>
<circle cx="269.25" cy="400.95" r="1.2" fill="#1f78c8"/>
<circle cx="269.76" cy="406.31" r="1.2" fill="#1f78c8"/>
<circle cx="270.27" cy="387.57" r="1.2" fill="#1f78c8"/>
<circle cx="270.77" cy="402.68" r="1.2" fill="#1f78c8"/>
<circle cx="271.28" cy="390.68" r="1.2" fill="#1f78c8"/>
<circle cx="271.78" cy="402.89" r="1.2" fill="#f2b51d"/>
<circle cx="272.29" cy="399.17" r="1.2" fill="#1f78c8"/>
<circle cx="272.80" cy="410.08" r="1.2" fill="#f2b51d"/>
<circle cx="273.30" cy="405.86" r="1.2" fill="#1f78c8"/>
<circle cx="273.81" cy="405.79" r="1.2" fill="#1f78c8"/>
<circle cx="274.32" cy="410.82" r="1.2" fill="#1f78c8"/>
<circle cx="274.82" cy="391.57" r="1.2" fill="#1f78c8"/>
<circle cx="275.33" cy="398.13" r="1.2" fill="#1f78c8"/>
<circle cx="275.84" cy="390.09" r="1.2" fill="#1f78c8"/>
<circle cx="276.34" cy="403.71" r="1.2" fill="#f2b51d"/>
<circle cx="276.85" cy="400.80" r="1.2" fill="#1f78c8"/>
<circle cx="277.36" cy="397.42" r="1.2" fill="#1f78c8"/>
<circle cx="277.86" cy="402.60" r="1.2" fill="#1f78c8"/>
<circle cx="278.37" cy="390.69" r="1.2" fill="#1f78c8"/>
<circle cx="278.87" cy="409.72" r="1.2" fill="#f2b51d"/>
<circle cx="279.38" cy="399.51" r="1.2" fill="#1f78c8"/>
<circle cx="279.89" cy="410.73" r="1.2" fill="#f2b51d"/>
<circle cx="280.39" cy="389.89" r="1.2" fill="#1f78c8"/>
<circle cx="280.90" cy="406.15" r="1.2" fill="#f2b51d"/>
<circle cx="281.41" cy="404.32" r="1.2" fill="#1f78c8"/>
<circle cx="281.91" cy="401.60" r="1.2" fill="#f2b51d"/>
<circle cx="282.42" cy="397.24" r="1.2" fill="#f2b51d"/>
<circle cx="282.93" cy="401.53" r="1.2" fill="#1f78c8"/>
<circle cx="283.43" cy="409.48" r="1.2" fill="#1f78c8"/>
<circle cx="283.94" cy="391.34" r="1.2" fill="#1f78c8"/>
<circle cx="284.44" cy="397.05" r="1.2" fill="#1f78c8"/>
<circle cx="284.95" cy="399.87" r="1.2" fill="#1f78c8"/>
<circle cx="285.46" cy="399.53" r="1.2" fill="#f2b51d"/>
<circle cx="285.96" cy="402.40" r="1.2" fill="#1f78c8"/>
<circle cx="286.47" cy="405.30" r="1.2" fill="#f2b51d"/>
<circle cx="286.98" cy="404.77" r="1.2" fill="#f2b51d"/>
<circle cx="287.48" cy="406.33" r="1.2" fill="#1f78c8"/>
<circle cx="287.99" cy="408.69" r="1.2" fill="#1f78c8"/>
<circle cx="288.50" cy="393.47" r="1.2" fill="#1f78c8"/>
<circle cx="289.00" cy="394.35" r="1.2" fill="#1f78c8"/>
<circle cx="289.51" cy="401.02" r="1.2" fill="#f2b51d"/>
<circle cx="290.02" cy="408.11" r="1.2" fill="#f2b51d"/>
<circle cx="290.52" cy="401.45" r="1.2" fill="#f2b51d"/>
<circle cx="291.03" cy="400.69" r="1.2" fill="#f2b51d"/>
<circle cx="291.53" cy="398.00" r="1.2" fill="#f2b51d"/>
<circle cx="292.04" cy="402.15" r="1.2" fill="#f2b51d"/>
<circle cx="292.55" cy="411.07" r="1.2" fill="#1f78c8"/>
<circle cx="293.05" cy="402.47" r="1.2" fill="#1f78c8"/>
<circle cx="293.56" cy="397.05" r="1.2" fill="#1f78c8"/>
<circle cx="294.07" cy="401.96" r="1.2" fill="#f2b51d"/>
<circle cx="294.57" cy="393.58" r="1.2" fill="#1f78c8"/>
<circle cx="295.08" cy="408.41" r="1.2" fill="#1f78c8"/>
<circle cx="295.59" cy="409.60" r="1.2" fill="#f2b51d"/>
<circle cx="296.09" cy="399.56" r="1.2" fill="#1f78c8"/>
<circle cx="296.60" cy="400.80" r="1.2" fill="#f2b51d"/>
<circle cx="297.10" cy="408.20" r="1.2" fill="#f2b51d"/>
<circle cx="297.61" cy="390.83" r="1.2" fill="#1f78c8"/>
<circle cx="298.12" cy="395.84" r="1.2" fill="#f2b51d"/>
<circle cx="298.62" cy="395.68" r="1.2" fill="#1f78c8"/>
<circle cx="299.13" cy="397.89" r="1.2" fill="#f2b51d"/>
<circle cx="299.64" cy="399.73" r="1.2" fill="#f2b51d"/>
<circle cx="300.14" cy="403.23" r="1.2" fill="#f2b51d"/>
<circle cx="300.65" cy="407.14" r="1.2" fill="#f2b51d"/>
<circle cx="301.16" cy="408.03" r="1.2" fill="#f2b51d"/>
<circle cx="301.66" cy="398.85" r="1.2" fill="#f2b51d"/>
<circle cx="302.17" cy="406.19" r="1.2" fill="#f2b51d"/>
<circle cx="302.68" cy="398.78" r="1.2" fill="#f2b51d"/>
<circle cx="303.18" cy="405.81" r="1.2" fill="#1f78c8"/>
<circle cx="303.69" cy="398.31" r="1.2" fill="#1f78c8"/>
<circle cx="304.19" cy="402.69" r="1.2" fill="#f2b51d"/>
<circle cx="304.70" cy="410.27" r="1.2" fill="#1f78c8"/>
<circle cx="305.21" cy="406.88" r="1.2" fill="#f2b51d"/>
<circle cx="305.71" cy="410.76" r="1.2" fill="#1f78c8"/>
<circle cx="306.22" cy="408.09" r="1.2" fill="#1f78c8"/>
<circle cx="306.73" cy="396.62" r="1.2" fill="#f2b51d"/>
<circle cx="307.23" cy="402.58" r="1.2" fill="#1f78c8"/>
<circle cx="307.74" cy="398.03" r="1.2" fill="#f2b51d"/>
<circle cx="308.25" cy="396.18" r="1.2" fill="#1f78c8"/>
<circle cx="308.75" cy="404.54" r="1.2" fill="#f2b51d"/>
<circle cx="309.26" cy="399.69" r="1.2" fill="#1f78c8"/>
<circle cx="309.76" cy="394.42" r="1.2" fill="#1f78c8"/>
<circle cx="310.27" cy="397.43" r="1.2" fill="#1f78c8"/>
<circle cx="310.78" cy="409.32" r="1.2" fill="#1f78c8"/>
<circle cx="311.28" cy="402.48" r="1.2" fill="#f2b51d"/>
<circle cx="311.79" cy="394.51" r="1.2" fill="#f2b51d"/>
<circle cx="312.30" cy="401.76" r="1.2" fill="#f2b51d"/>
<circle cx="312.80" cy="410.58" r="1.2" fill="#f2b51d"/>
<circle cx="313.31" cy="394.11" r="1.2" fill="#1f78c8"/>
<circle cx="313.82" cy="398.32" r="1.2" fill="#f2b51d"/>
<circle cx="314.32" cy="394.77" r="1.2" fill="#1f78c8"/>
<circle cx="314.83" cy="405.21" r="1.2" fill="#1f78c8"/>
<circle cx="315.34" cy="404.06" r="1.2" fill="#1f78c8"/>
<circle cx="315.84" cy="398.80" r="1.2" fill="#f2b51d"/>
<circle cx="316.35" cy="393.95" r="1.2" fill="#f2b51d"/>
<circle cx="316.85" cy="398.51" r="1.2" fill="#f2b51d"/>
<circle cx="317.36" cy="404.88" r="1.2" fill="#f2b51d"/>
<circle cx="317.87" cy="402.54" r="1.2" fill="#1f78c8"/>
<circle cx="318.37" cy="400.92" r="1.2" fill="#1f78c8"/>
<circle cx="318.88" cy="405.90" r="1.2" fill="#1f78c8"/>
<circle cx="319.39" cy="407.79" r="1.2" fill="#f2b51d"/>
<circle cx="319.89" cy="399.26" r="1.2" fill="#f2b51d"/>
<circle cx="320.40" cy="391.00" r="1.2" fill="#1f78c8"/>
<circle cx="320.91" cy="398.25" r="1.2" fill="#f2b51d"/>
<circle cx="321.41" cy="394.65" r="1.2" fill="#1f78c8"/>
<circle cx="321.92" cy="400.51" r="1.2" fill="#1f78c8"/>
<circle cx="322.42" cy="410.20" r="1.2" fill="#1f78c8"/>
<circle cx="322.93" cy="405.52" r="1.2" fill="#f2b51d"/>
<circle cx="323.44" cy="399.50" r="1.2" fill="#1f78c8"/>
<circle cx="323.94" cy="396.49" r="1.2" fill="#f2b51d"/>
<circle cx="324.45" cy="395.93" r="1.2" fill="#f2b51d"/>
<circle cx="324.96" cy="407.17" r="1.2" fill="#1f78c8"/>
<circle cx="325.46" cy="395.82" r="1.2" fill="#1f78c8"/>
<circle cx="325.97" cy="405.41" r="1.2" fill="#f2b51d"/>
<circle cx="326.48" cy="384.23" r="1.2" fill="#1f78c8"/>
<circle cx="326.98" cy="397.71" r="1.2" fill="#1f78c8"/>
<circle cx="327.49" cy="399.76" r="1.2" fill="#1f78c8"/>
<circle cx="328.00" cy="400.49" r="1.2" fill="#f2b51d"/>
<circle cx="328.50" cy="408.79" r="1.2" fill="#f2b51d"/>
<circle cx="329.01" cy="404.85" r="1.2" fill="#1f78c8"/>
<circle cx="329.51" cy="395.87" r="1.2" fill="#1f78c8"/>
<circle cx="330.02" cy="401.20" r="1.2" fill="#f2b51d"/>
<circle cx="330.53" cy="390.82" r="1.2" fill="#f2b51d"/>
<circle cx="331.03" cy="396.68" r="1.2" fill="#1f78c8"/>
<circle cx="331.54" cy="403.49" r="1.2" fill="#f2b51d"/>
<circle cx="332.05" cy="388.55" r="1.2" fill="#1f78c8"/>
<circle cx="332.55" cy="401.18" r="1.2" fill="#f2b51d"/>
<circle cx="333.06" cy="398.20" r="1.2" fill="#f2b51d"/>
<circle cx="333.57" cy="398.68" r="1.2" fill="#f2b51d"/>
<circle cx="334.07" cy="395.34" r="1.2" fill="#1f78c8"/>
<circle cx="334.58" cy="397.43" r="1.2" fill="#f2b51d"/>
<circle cx="335.08" cy="409.28" r="1.2" fill="#f2b51d"/>
<circle cx="335.59" cy="407.46" r="1.2" fill="#1f78c8"/>
<circle cx="336.10" cy="409.07" r="1.2" fill="#1f78c8"/>
<circle cx="336.60" cy="399.56" r="1.2" fill="#1f78c8"/>
<circle cx="337.11" cy="402.24" r="1.2" fill="#1f78c8"/>
<circle cx="337.62" cy="396.15" r="1.2" fill="#f2b51d"/>
<circle cx="338.12" cy="405.20" r="1.2" fill="#f2b51d"/>
<circle cx="338.63" cy="407.30" r="1.2" fill="#1f78c8"/>
<circle cx="339.14" cy="407.88" r="1.2" fill="#f2b51d"/>
<circle cx="339.64" cy="399.77" r="1.2" fill="#1f78c8"/>
<circle cx="340.15" cy="392.33" r="1.2" fill="#1f78c8"/>
<circle cx="340.66" cy="402.83" r="1.2" fill="#1f78c8"/>
<circle cx="341.16" cy="408.88" r="1.2" fill="#f2b51d"/>
<circle cx="341.67" cy="402.24" r="1.2" fill="#f2b51d"/>
<circle cx="342.17" cy="411.35" r="1.2" fill="#f2b51d"/>
<circle cx="342.68" cy="407.31" r="1.2" fill="#1f78c8"/>
<circle cx="343.19" cy="408.83" r="1.2" fill="#1f78c8"/>
<circle cx="343.69" cy="390.59" r="1.2" fill="#1f78c8"/>
<circle cx="344.20" cy="390.70" r="1.2" fill="#1f78c8"/>
<circle cx="344.71" cy="396.23" r="1.2" fill="#f2b51d"/>
<circle cx="345.21" cy="399.40" r="1.2" fill="#f2b51d"/>
<rect x="213.60" y="379.10" width="137.30" height="33.30" fill="none" stroke="#8f8f8f" stroke-width="1.15"/>
<line x1="210.60" y1="411.50" x2="213.60" y2="411.50" stroke="#6a6a6a" stroke-width="0.8"/>
<text x="207.30" y="411.50" font-size="4.4" text-anchor="middle" fill="#222" transform="rotate(-90 207.30 411.50)">0</text>
<line x1="210.60" y1="405.30" x2="213.60" y2="405.30" stroke="#6a6a6a" stroke-width="0.8"/>
<line x1="210.60" y1="399.10" x2="213.60" y2="399.10" stroke="#6a6a6a" stroke-width="0.8"/>
<text x="207.30" y="399.10" font-size="4.4" text-anchor="middle" fill="#222" transform="rotate(-90 207.30 399.10)">4</text>
<line x1="210.60" y1="392.90" x2="213.60" y2="392.90" stroke="#6a6a6a" stroke-width="0.8"/>
<line x1="210.60" y1="386.70" x2="213.60" y2="386.70" stroke="#6a6a6a" stroke-width="0.8"/>
<text x="207.30" y="386.70" font-size="4.4" text-anchor="middle" fill="#222" transform="rotate(-90 207.30 386.70)">8</text>
<line x1="210.60" y1="380.50" x2="213.60" y2="380.50" stroke="#6a6a6a" stroke-width="0.8"/>
<line x1="217.60" y1="412.40" x2="217.60" y2="415.00" stroke="#6a6a6a" stroke-width="0.8"/>
<text x="217.60" y="423.40" font-size="4.9" text-anchor="middle" class="s" fill="#222">0</text>
<line x1="242.92" y1="412.40" x2="242.92" y2="415.00" stroke="#6a6a6a" stroke-width="0.8"/>
<text x="242.92" y="423.40" font-size="4.9" text-anchor="middle" class="s" fill="#222">50</text>
<line x1="268.24" y1="412.40" x2="268.24" y2="415.00" stroke="#6a6a6a" stroke-width="0.8"/>
<text x="268.24" y="423.40" font-size="4.9" text-anchor="middle" class="s" fill="#222">100</text>
<line x1="293.56" y1="412.40" x2="293.56" y2="415.00" stroke="#6a6a6a" stroke-width="0.8"/>
<text x="293.56" y="423.40" font-size="4.9" text-anchor="middle" class="s" fill="#222">150</text>
<line x1="318.88" y1="412.40" x2="318.88" y2="415.00" stroke="#6a6a6a" stroke-width="0.8"/>
<text x="318.88" y="423.40" font-size="4.9" text-anchor="middle" class="s" fill="#222">200</text>
<line x1="344.20" y1="412.40" x2="344.20" y2="415.00" stroke="#6a6a6a" stroke-width="0.8"/>
<text x="344.20" y="423.40" font-size="4.9" text-anchor="middle" class="s" fill="#222">250</text>
<text x="282.25" y="434.80" font-size="4.75" text-anchor="middle" class="s" fill="#222">Patients (increasing risk score)</text>
<text x="194.10" y="395.75" font-size="4.75" text-anchor="middle" class="s" fill="#222" transform="rotate(-90 194.10 395.75)">Survival time (years)</text>
<rect x="213.60" y="441.5" width="52.67" height="3.50" fill="#1b8ed0"/>
<rect x="266.27" y="441.5" width="42.13" height="3.50" fill="#eedb8a"/>
<rect x="213.600" y="446.60" width="0.626" height="10.50" fill="#09263e"/>
<rect x="213.976" y="446.60" width="0.626" height="10.50" fill="#082339"/>
<rect x="214.352" y="446.60" width="0.626" height="10.50" fill="#082339"/>
<rect x="214.729" y="446.60" width="0.626" height="10.50" fill="#04121e"/>
<rect x="215.105" y="446.60" width="0.626" height="10.50" fill="#04121e"/>
<rect x="215.481" y="446.60" width="0.626" height="10.50" fill="#0b3252"/>
<rect x="215.857" y="446.60" width="0.626" height="10.50" fill="#0b3252"/>
<rect x="216.233" y="446.60" width="0.626" height="10.50" fill="#0b3252"/>
<rect x="216.610" y="446.60" width="0.626" height="10.50" fill="#09263e"/>
<rect x="216.986" y="446.60" width="0.626" height="10.50" fill="#02090f"/>
<rect x="217.362" y="446.60" width="0.626" height="10.50" fill="#071e30"/>
<rect x="217.738" y="446.60" width="0.626" height="10.50" fill="#051624"/>
<rect x="218.114" y="446.60" width="0.626" height="10.50" fill="#051624"/>
<rect x="218.490" y="446.60" width="0.626" height="10.50" fill="#051624"/>
<rect x="218.867" y="446.60" width="0.626" height="10.50" fill="#030b12"/>
<rect x="219.243" y="446.60" width="0.626" height="10.50" fill="#030b12"/>
<rect x="219.619" y="446.60" width="0.626" height="10.50" fill="#071f33"/>
<rect x="219.995" y="446.60" width="0.626" height="10.50" fill="#071f33"/>
<rect x="220.371" y="446.60" width="0.626" height="10.50" fill="#010000"/>
<rect x="220.748" y="446.60" width="0.626" height="10.50" fill="#010100"/>
<rect x="221.124" y="446.60" width="0.626" height="10.50" fill="#010100"/>
<rect x="221.500" y="446.60" width="0.626" height="10.50" fill="#020b12"/>
<rect x="221.876" y="446.60" width="0.626" height="10.50" fill="#020b12"/>
<rect x="222.252" y="446.60" width="0.626" height="10.50" fill="#072136"/>
<rect x="222.629" y="446.60" width="0.626" height="10.50" fill="#072136"/>
<rect x="223.005" y="446.60" width="0.626" height="10.50" fill="#0b3252"/>
<rect x="223.381" y="446.60" width="0.626" height="10.50" fill="#051523"/>
<rect x="223.757" y="446.60" width="0.626" height="10.50" fill="#051725"/>
<rect x="224.133" y="446.60" width="0.626" height="10.50" fill="#051625"/>
<rect x="224.510" y="446.60" width="0.626" height="10.50" fill="#051625"/>
<rect x="224.886" y="446.60" width="0.626" height="10.50" fill="#04111d"/>
<rect x="225.262" y="446.60" width="0.626" height="10.50" fill="#04111c"/>
<rect x="225.638" y="446.60" width="0.626" height="10.50" fill="#04111c"/>
<rect x="226.014" y="446.60" width="0.626" height="10.50" fill="#0b3252"/>
<rect x="226.390" y="446.60" width="0.626" height="10.50" fill="#0b3252"/>
<rect x="226.767" y="446.60" width="0.626" height="10.50" fill="#0b3252"/>
<rect x="227.143" y="446.60" width="0.626" height="10.50" fill="#061b2d"/>
<rect x="227.519" y="446.60" width="0.626" height="10.50" fill="#082339"/>
<rect x="227.895" y="446.60" width="0.626" height="10.50" fill="#082339"/>
<rect x="228.271" y="446.60" width="0.626" height="10.50" fill="#082338"/>
<rect x="228.648" y="446.60" width="0.626" height="10.50" fill="#08243a"/>
<rect x="229.024" y="446.60" width="0.626" height="10.50" fill="#08243a"/>
<rect x="229.400" y="446.60" width="0.626" height="10.50" fill="#061929"/>
<rect x="229.776" y="446.60" width="0.626" height="10.50" fill="#061929"/>
<rect x="230.152" y="446.60" width="0.626" height="10.50" fill="#020a10"/>
<rect x="230.529" y="446.60" width="0.626" height="10.50" fill="#04111b"/>
<rect x="230.905" y="446.60" width="0.626" height="10.50" fill="#04111b"/>
<rect x="231.281" y="446.60" width="0.626" height="10.50" fill="#051625"/>
<rect x="231.657" y="446.60" width="0.626" height="10.50" fill="#051625"/>
<rect x="232.033" y="446.60" width="0.626" height="10.50" fill="#051624"/>
<rect x="232.410" y="446.60" width="0.626" height="10.50" fill="#092740"/>
<rect x="232.786" y="446.60" width="0.626" height="10.50" fill="#092740"/>
<rect x="233.162" y="446.60" width="0.626" height="10.50" fill="#092740"/>
<rect x="233.538" y="446.60" width="0.626" height="10.50" fill="#04121e"/>
<rect x="233.914" y="446.60" width="0.626" height="10.50" fill="#030f19"/>
<rect x="234.290" y="446.60" width="0.626" height="10.50" fill="#030f19"/>
<rect x="234.667" y="446.60" width="0.626" height="10.50" fill="#030c13"/>
<rect x="235.043" y="446.60" width="0.626" height="10.50" fill="#030c13"/>
<rect x="235.419" y="446.60" width="0.626" height="10.50" fill="#030c13"/>
<rect x="235.795" y="446.60" width="0.626" height="10.50" fill="#060500"/>
<rect x="236.171" y="446.60" width="0.626" height="10.50" fill="#09253d"/>
<rect x="236.548" y="446.60" width="0.626" height="10.50" fill="#09253d"/>
<rect x="236.924" y="446.60" width="0.626" height="10.50" fill="#0a2b46"/>
<rect x="237.300" y="446.60" width="0.626" height="10.50" fill="#0a2b46"/>
<rect x="237.676" y="446.60" width="0.626" height="10.50" fill="#0a2b46"/>
<rect x="238.052" y="446.60" width="0.626" height="10.50" fill="#0d3a5f"/>
<rect x="238.429" y="446.60" width="0.626" height="10.50" fill="#0b2f4d"/>
<rect x="238.805" y="446.60" width="0.626" height="10.50" fill="#0b2f4d"/>
<rect x="239.181" y="446.60" width="0.626" height="10.50" fill="#0b2f4d"/>
<rect x="239.557" y="446.60" width="0.626" height="10.50" fill="#0a2b46"/>
<rect x="239.933" y="446.60" width="0.626" height="10.50" fill="#0a2b46"/>
<rect x="240.310" y="446.60" width="0.626" height="10.50" fill="#04121e"/>
<rect x="240.686" y="446.60" width="0.626" height="10.50" fill="#04131e"/>
<rect x="241.062" y="446.60" width="0.626" height="10.50" fill="#04121e"/>
<rect x="241.438" y="446.60" width="0.626" height="10.50" fill="#020a11"/>
<rect x="241.814" y="446.60" width="0.626" height="10.50" fill="#020a11"/>
<rect x="242.190" y="446.60" width="0.626" height="10.50" fill="#020a10"/>
<rect x="242.567" y="446.60" width="0.626" height="10.50" fill="#020a10"/>
<rect x="242.943" y="446.60" width="0.626" height="10.50" fill="#02090e"/>
<rect x="243.319" y="446.60" width="0.626" height="10.50" fill="#02090e"/>
<rect x="243.695" y="446.60" width="0.626" height="10.50" fill="#070500"/>
<rect x="244.071" y="446.60" width="0.626" height="10.50" fill="#030d15"/>
<rect x="244.448" y="446.60" width="0.626" height="10.50" fill="#030d15"/>
<rect x="244.824" y="446.60" width="0.626" height="10.50" fill="#0a2c48"/>
<rect x="245.200" y="446.60" width="0.626" height="10.50" fill="#0a2c48"/>
<rect x="245.576" y="446.60" width="0.626" height="10.50" fill="#0a2c48"/>
<rect x="245.952" y="446.60" width="0.626" height="10.50" fill="#140f00"/>
<rect x="246.329" y="446.60" width="0.626" height="10.50" fill="#030c13"/>
<rect x="246.705" y="446.60" width="0.626" height="10.50" fill="#030c13"/>
<rect x="247.081" y="446.60" width="0.626" height="10.50" fill="#04121d"/>
<rect x="247.457" y="446.60" width="0.626" height="10.50" fill="#04121d"/>
<rect x="247.833" y="446.60" width="0.626" height="10.50" fill="#04121d"/>
<rect x="248.210" y="446.60" width="0.626" height="10.50" fill="#061b2b"/>
<rect x="248.586" y="446.60" width="0.626" height="10.50" fill="#061b2b"/>
<rect x="248.962" y="446.60" width="0.626" height="10.50" fill="#010508"/>
<rect x="249.338" y="446.60" width="0.626" height="10.50" fill="#010508"/>
<rect x="249.714" y="446.60" width="0.626" height="10.50" fill="#082238"/>
<rect x="250.090" y="446.60" width="0.626" height="10.50" fill="#082238"/>
<rect x="250.467" y="446.60" width="0.626" height="10.50" fill="#051522"/>
<rect x="250.843" y="446.60" width="0.626" height="10.50" fill="#02080d"/>
<rect x="251.219" y="446.60" width="0.626" height="10.50" fill="#071e31"/>
<rect x="251.595" y="446.60" width="0.626" height="10.50" fill="#071e31"/>
<rect x="251.971" y="446.60" width="0.626" height="10.50" fill="#030f19"/>
<rect x="252.348" y="446.60" width="0.626" height="10.50" fill="#030b13"/>
<rect x="252.724" y="446.60" width="0.626" height="10.50" fill="#030d15"/>
<rect x="253.100" y="446.60" width="0.626" height="10.50" fill="#02070b"/>
<rect x="253.476" y="446.60" width="0.626" height="10.50" fill="#01070b"/>
<rect x="253.852" y="446.60" width="0.626" height="10.50" fill="#0a2c48"/>
<rect x="254.229" y="446.60" width="0.626" height="10.50" fill="#0a2c48"/>
<rect x="254.605" y="446.60" width="0.626" height="10.50" fill="#030f18"/>
<rect x="254.981" y="446.60" width="0.626" height="10.50" fill="#030e18"/>
<rect x="255.357" y="446.60" width="0.626" height="10.50" fill="#030e18"/>
<rect x="255.733" y="446.60" width="0.626" height="10.50" fill="#030c13"/>
<rect x="256.110" y="446.60" width="0.626" height="10.50" fill="#030c13"/>
<rect x="256.486" y="446.60" width="0.626" height="10.50" fill="#072136"/>
<rect x="256.862" y="446.60" width="0.626" height="10.50" fill="#030f19"/>
<rect x="257.238" y="446.60" width="0.626" height="10.50" fill="#030f18"/>
<rect x="257.614" y="446.60" width="0.626" height="10.50" fill="#030f18"/>
<rect x="257.990" y="446.60" width="0.626" height="10.50" fill="#092943"/>
<rect x="258.367" y="446.60" width="0.626" height="10.50" fill="#04121d"/>
<rect x="258.743" y="446.60" width="0.626" height="10.50" fill="#04121d"/>
<rect x="259.119" y="446.60" width="0.626" height="10.50" fill="#030f18"/>
<rect x="259.495" y="446.60" width="0.626" height="10.50" fill="#030f18"/>
<rect x="259.871" y="446.60" width="0.626" height="10.50" fill="#030f18"/>
<rect x="260.248" y="446.60" width="0.626" height="10.50" fill="#051421"/>
<rect x="260.624" y="446.60" width="0.626" height="10.50" fill="#051421"/>
<rect x="261.000" y="446.60" width="0.626" height="10.50" fill="#051421"/>
<rect x="261.376" y="446.60" width="0.626" height="10.50" fill="#010508"/>
<rect x="261.752" y="446.60" width="0.626" height="10.50" fill="#010508"/>
<rect x="262.129" y="446.60" width="0.626" height="10.50" fill="#02070c"/>
<rect x="262.505" y="446.60" width="0.626" height="10.50" fill="#02070c"/>
<rect x="262.881" y="446.60" width="0.626" height="10.50" fill="#030c13"/>
<rect x="263.257" y="446.60" width="0.626" height="10.50" fill="#030c13"/>
<rect x="263.633" y="446.60" width="0.626" height="10.50" fill="#010100"/>
<rect x="264.010" y="446.60" width="0.626" height="10.50" fill="#010100"/>
<rect x="264.386" y="446.60" width="0.626" height="10.50" fill="#010100"/>
<rect x="264.762" y="446.60" width="0.626" height="10.50" fill="#010509"/>
<rect x="265.138" y="446.60" width="0.626" height="10.50" fill="#010509"/>
<rect x="265.514" y="446.60" width="0.626" height="10.50" fill="#08233a"/>
<rect x="265.890" y="446.60" width="0.626" height="10.50" fill="#08233a"/>
<rect x="266.267" y="446.60" width="0.626" height="10.50" fill="#08233a"/>
<rect x="266.643" y="446.60" width="0.626" height="10.50" fill="#0e0b00"/>
<rect x="267.019" y="446.60" width="0.626" height="10.50" fill="#061a2a"/>
<rect x="267.395" y="446.60" width="0.626" height="10.50" fill="#030d15"/>
<rect x="267.771" y="446.60" width="0.626" height="10.50" fill="#030d15"/>
<rect x="268.148" y="446.60" width="0.626" height="10.50" fill="#08243b"/>
<rect x="268.524" y="446.60" width="0.626" height="10.50" fill="#0c3557"/>
<rect x="268.900" y="446.60" width="0.626" height="10.50" fill="#0c3557"/>
<rect x="269.276" y="446.60" width="0.626" height="10.50" fill="#061b2c"/>
<rect x="269.652" y="446.60" width="0.626" height="10.50" fill="#061b2c"/>
<rect x="270.029" y="446.60" width="0.626" height="10.50" fill="#061b2c"/>
<rect x="270.405" y="446.60" width="0.626" height="10.50" fill="#0b2f4d"/>
<rect x="270.781" y="446.60" width="0.626" height="10.50" fill="#0b2f4d"/>
<rect x="271.157" y="446.60" width="0.626" height="10.50" fill="#0b2f4d"/>
<rect x="271.533" y="446.60" width="0.626" height="10.50" fill="#04101b"/>
<rect x="271.910" y="446.60" width="0.626" height="10.50" fill="#010609"/>
<rect x="272.286" y="446.60" width="0.626" height="10.50" fill="#010609"/>
<rect x="272.662" y="446.60" width="0.626" height="10.50" fill="#02070c"/>
<rect x="273.038" y="446.60" width="0.626" height="10.50" fill="#02070c"/>
<rect x="273.414" y="446.60" width="0.626" height="10.50" fill="#02070c"/>
<rect x="273.790" y="446.60" width="0.626" height="10.50" fill="#030c14"/>
<rect x="274.167" y="446.60" width="0.626" height="10.50" fill="#030c14"/>
<rect x="274.543" y="446.60" width="0.626" height="10.50" fill="#09253d"/>
<rect x="274.919" y="446.60" width="0.626" height="10.50" fill="#09253d"/>
<rect x="275.295" y="446.60" width="0.626" height="10.50" fill="#000203"/>
<rect x="275.671" y="446.60" width="0.626" height="10.50" fill="#000203"/>
<rect x="276.048" y="446.60" width="0.626" height="10.50" fill="#000203"/>
<rect x="276.424" y="446.60" width="0.626" height="10.50" fill="#071e32"/>
<rect x="276.800" y="446.60" width="0.626" height="10.50" fill="#071e32"/>
<rect x="277.176" y="446.60" width="0.626" height="10.50" fill="#030c14"/>
<rect x="277.552" y="446.60" width="0.626" height="10.50" fill="#071f32"/>
<rect x="277.929" y="446.60" width="0.626" height="10.50" fill="#071f32"/>
<rect x="278.305" y="446.60" width="0.626" height="10.50" fill="#071f32"/>
<rect x="278.681" y="446.60" width="0.626" height="10.50" fill="#030b12"/>
<rect x="279.057" y="446.60" width="0.626" height="10.50" fill="#030b12"/>
<rect x="279.433" y="446.60" width="0.626" height="10.50" fill="#030b12"/>
<rect x="279.810" y="446.60" width="0.626" height="10.50" fill="#010305"/>
<rect x="280.186" y="446.60" width="0.626" height="10.50" fill="#010305"/>
<rect x="280.562" y="446.60" width="0.626" height="10.50" fill="#071d30"/>
<rect x="280.938" y="446.60" width="0.626" height="10.50" fill="#071d30"/>
<rect x="281.314" y="446.60" width="0.626" height="10.50" fill="#071d2f"/>
<rect x="281.690" y="446.60" width="0.626" height="10.50" fill="#030e17"/>
<rect x="282.067" y="446.60" width="0.626" height="10.50" fill="#030e17"/>
<rect x="282.443" y="446.60" width="0.626" height="10.50" fill="#030e17"/>
<rect x="282.819" y="446.60" width="0.626" height="10.50" fill="#02070b"/>
<rect x="283.195" y="446.60" width="0.626" height="10.50" fill="#01070b"/>
<rect x="283.571" y="446.60" width="0.626" height="10.50" fill="#010407"/>
<rect x="283.948" y="446.60" width="0.626" height="10.50" fill="#010407"/>
<rect x="284.324" y="446.60" width="0.626" height="10.50" fill="#010406"/>
<rect x="284.700" y="446.60" width="0.626" height="10.50" fill="#08243a"/>
<rect x="285.076" y="446.60" width="0.626" height="10.50" fill="#04101a"/>
<rect x="285.452" y="446.60" width="0.626" height="10.50" fill="#04101a"/>
<rect x="285.829" y="446.60" width="0.626" height="10.50" fill="#01060a"/>
<rect x="286.205" y="446.60" width="0.626" height="10.50" fill="#030b13"/>
<rect x="286.581" y="446.60" width="0.626" height="10.50" fill="#030b13"/>
<rect x="286.957" y="446.60" width="0.626" height="10.50" fill="#051726"/>
<rect x="287.333" y="446.60" width="0.626" height="10.50" fill="#051726"/>
<rect x="287.710" y="446.60" width="0.626" height="10.50" fill="#051726"/>
<rect x="288.086" y="446.60" width="0.626" height="10.50" fill="#010204"/>
<rect x="288.462" y="446.60" width="0.626" height="10.50" fill="#2b2000"/>
<rect x="288.838" y="446.60" width="0.626" height="10.50" fill="#2b2100"/>
<rect x="289.214" y="446.60" width="0.626" height="10.50" fill="#061a2a"/>
<rect x="289.590" y="446.60" width="0.626" height="10.50" fill="#061a2a"/>
<rect x="289.967" y="446.60" width="0.626" height="10.50" fill="#061a2a"/>
<rect x="290.343" y="446.60" width="0.626" height="10.50" fill="#04111c"/>
<rect x="290.719" y="446.60" width="0.626" height="10.50" fill="#04111c"/>
<rect x="291.095" y="446.60" width="0.626" height="10.50" fill="#04111c"/>
<rect x="291.471" y="446.60" width="0.626" height="10.50" fill="#071e31"/>
<rect x="291.848" y="446.60" width="0.626" height="10.50" fill="#071e31"/>
<rect x="292.224" y="446.60" width="0.626" height="10.50" fill="#06192a"/>
<rect x="292.600" y="446.60" width="0.626" height="10.50" fill="#06192a"/>
<rect x="292.976" y="446.60" width="0.626" height="10.50" fill="#061929"/>
<rect x="293.352" y="446.60" width="0.626" height="10.50" fill="#051726"/>
<rect x="293.729" y="446.60" width="0.626" height="10.50" fill="#051726"/>
<rect x="294.105" y="446.60" width="0.626" height="10.50" fill="#051725"/>
<rect x="294.481" y="446.60" width="0.626" height="10.50" fill="#010406"/>
<rect x="294.857" y="446.60" width="0.626" height="10.50" fill="#000102"/>
<rect x="295.233" y="446.60" width="0.626" height="10.50" fill="#000102"/>
<rect x="295.610" y="446.60" width="0.626" height="10.50" fill="#04121d"/>
<rect x="295.986" y="446.60" width="0.626" height="10.50" fill="#04121d"/>
<rect x="296.362" y="446.60" width="0.626" height="10.50" fill="#04121d"/>
<rect x="296.738" y="446.60" width="0.626" height="10.50" fill="#0c0900"/>
<rect x="297.114" y="446.60" width="0.626" height="10.50" fill="#0c0900"/>
<rect x="297.490" y="446.60" width="0.626" height="10.50" fill="#0c0900"/>
<rect x="297.867" y="446.60" width="0.626" height="10.50" fill="#0d395c"/>
<rect x="298.243" y="446.60" width="0.626" height="10.50" fill="#0d395c"/>
<rect x="298.619" y="446.60" width="0.626" height="10.50" fill="#0d385c"/>
<rect x="298.995" y="446.60" width="0.626" height="10.50" fill="#140f00"/>
<rect x="299.371" y="446.60" width="0.626" height="10.50" fill="#151000"/>
<rect x="299.748" y="446.60" width="0.626" height="10.50" fill="#151000"/>
<rect x="300.124" y="446.60" width="0.626" height="10.50" fill="#0a2b47"/>
<rect x="300.500" y="446.60" width="0.626" height="10.50" fill="#010406"/>
<rect x="300.876" y="446.60" width="0.626" height="10.50" fill="#010406"/>
<rect x="301.252" y="446.60" width="0.626" height="10.50" fill="#04121d"/>
<rect x="301.629" y="446.60" width="0.626" height="10.50" fill="#04121d"/>
<rect x="302.005" y="446.60" width="0.626" height="10.50" fill="#092841"/>
<rect x="302.381" y="446.60" width="0.626" height="10.50" fill="#02090f"/>
<rect x="302.757" y="446.60" width="0.626" height="10.50" fill="#1c1600"/>
<rect x="303.133" y="446.60" width="0.626" height="10.50" fill="#1d1600"/>
<rect x="303.510" y="446.60" width="0.626" height="10.50" fill="#1d1600"/>
<rect x="303.886" y="446.60" width="0.626" height="10.50" fill="#04101a"/>
<rect x="304.262" y="446.60" width="0.626" height="10.50" fill="#0e0b00"/>
<rect x="304.638" y="446.60" width="0.626" height="10.50" fill="#0e0b00"/>
<rect x="305.014" y="446.60" width="0.626" height="10.50" fill="#020b12"/>
<rect x="305.390" y="446.60" width="0.626" height="10.50" fill="#020b11"/>
<rect x="305.767" y="446.60" width="0.626" height="10.50" fill="#020b11"/>
<rect x="306.143" y="446.60" width="0.626" height="10.50" fill="#071d2f"/>
<rect x="306.519" y="446.60" width="0.626" height="10.50" fill="#071d2f"/>
<rect x="306.895" y="446.60" width="0.626" height="10.50" fill="#071d2f"/>
<rect x="307.271" y="446.60" width="0.626" height="10.50" fill="#051624"/>
<rect x="307.648" y="446.60" width="0.626" height="10.50" fill="#051624"/>
<rect x="308.024" y="446.60" width="0.626" height="10.50" fill="#030e17"/>
<rect x="213.600" y="457.10" width="0.626" height="10.70" fill="#614a00"/>
<rect x="213.976" y="457.10" width="0.626" height="10.70" fill="#5a4400"/>
<rect x="214.352" y="457.10" width="0.626" height="10.70" fill="#5a4500"/>
<rect x="214.729" y="457.10" width="0.626" height="10.70" fill="#463500"/>
<rect x="215.105" y="457.10" width="0.626" height="10.70" fill="#463500"/>
<rect x="215.481" y="457.10" width="0.626" height="10.70" fill="#544000"/>
<rect x="215.857" y="457.10" width="0.626" height="10.70" fill="#544000"/>
<rect x="216.233" y="457.10" width="0.626" height="10.70" fill="#554000"/>
<rect x="216.610" y="457.10" width="0.626" height="10.70" fill="#6b5100"/>
<rect x="216.986" y="457.10" width="0.626" height="10.70" fill="#715600"/>
<rect x="217.362" y="457.10" width="0.626" height="10.70" fill="#493800"/>
<rect x="217.738" y="457.10" width="0.626" height="10.70" fill="#493800"/>
<rect x="218.114" y="457.10" width="0.626" height="10.70" fill="#4a3800"/>
<rect x="218.490" y="457.10" width="0.626" height="10.70" fill="#4a3800"/>
<rect x="218.867" y="457.10" width="0.626" height="10.70" fill="#5f4800"/>
<rect x="219.243" y="457.10" width="0.626" height="10.70" fill="#5f4800"/>
<rect x="219.619" y="457.10" width="0.626" height="10.70" fill="#453400"/>
<rect x="219.995" y="457.10" width="0.626" height="10.70" fill="#453400"/>
<rect x="220.371" y="457.10" width="0.626" height="10.70" fill="#614900"/>
<rect x="220.748" y="457.10" width="0.626" height="10.70" fill="#614900"/>
<rect x="221.124" y="457.10" width="0.626" height="10.70" fill="#795c00"/>
<rect x="221.500" y="457.10" width="0.626" height="10.70" fill="#755900"/>
<rect x="221.876" y="457.10" width="0.626" height="10.70" fill="#755900"/>
<rect x="222.252" y="457.10" width="0.626" height="10.70" fill="#5f4800"/>
<rect x="222.629" y="457.10" width="0.626" height="10.70" fill="#5f4800"/>
<rect x="223.005" y="457.10" width="0.626" height="10.70" fill="#644c00"/>
<rect x="223.381" y="457.10" width="0.626" height="10.70" fill="#533f00"/>
<rect x="223.757" y="457.10" width="0.626" height="10.70" fill="#413200"/>
<rect x="224.133" y="457.10" width="0.626" height="10.70" fill="#423200"/>
<rect x="224.510" y="457.10" width="0.626" height="10.70" fill="#423200"/>
<rect x="224.886" y="457.10" width="0.626" height="10.70" fill="#5f4800"/>
<rect x="225.262" y="457.10" width="0.626" height="10.70" fill="#5f4800"/>
<rect x="225.638" y="457.10" width="0.626" height="10.70" fill="#5f4800"/>
<rect x="226.014" y="457.10" width="0.626" height="10.70" fill="#654c00"/>
<rect x="226.390" y="457.10" width="0.626" height="10.70" fill="#654d00"/>
<rect x="226.767" y="457.10" width="0.626" height="10.70" fill="#654d00"/>
<rect x="227.143" y="457.10" width="0.626" height="10.70" fill="#695000"/>
<rect x="227.519" y="457.10" width="0.626" height="10.70" fill="#6a5000"/>
<rect x="227.895" y="457.10" width="0.626" height="10.70" fill="#6a5000"/>
<rect x="228.271" y="457.10" width="0.626" height="10.70" fill="#6a5100"/>
<rect x="228.648" y="457.10" width="0.626" height="10.70" fill="#614a00"/>
<rect x="229.024" y="457.10" width="0.626" height="10.70" fill="#624a00"/>
<rect x="229.400" y="457.10" width="0.626" height="10.70" fill="#654c00"/>
<rect x="229.776" y="457.10" width="0.626" height="10.70" fill="#654d00"/>
<rect x="230.152" y="457.10" width="0.626" height="10.70" fill="#795c00"/>
<rect x="230.529" y="457.10" width="0.626" height="10.70" fill="#634b00"/>
<rect x="230.905" y="457.10" width="0.626" height="10.70" fill="#634b00"/>
<rect x="231.281" y="457.10" width="0.626" height="10.70" fill="#574200"/>
<rect x="231.657" y="457.10" width="0.626" height="10.70" fill="#574200"/>
<rect x="232.033" y="457.10" width="0.626" height="10.70" fill="#584200"/>
<rect x="232.410" y="457.10" width="0.626" height="10.70" fill="#8f6d00"/>
<rect x="232.786" y="457.10" width="0.626" height="10.70" fill="#906d00"/>
<rect x="233.162" y="457.10" width="0.626" height="10.70" fill="#906d00"/>
<rect x="233.538" y="457.10" width="0.626" height="10.70" fill="#6e5400"/>
<rect x="233.914" y="457.10" width="0.626" height="10.70" fill="#584200"/>
<rect x="234.290" y="457.10" width="0.626" height="10.70" fill="#584300"/>
<rect x="234.667" y="457.10" width="0.626" height="10.70" fill="#604900"/>
<rect x="235.043" y="457.10" width="0.626" height="10.70" fill="#604900"/>
<rect x="235.419" y="457.10" width="0.626" height="10.70" fill="#604900"/>
<rect x="235.795" y="457.10" width="0.626" height="10.70" fill="#735700"/>
<rect x="236.171" y="457.10" width="0.626" height="10.70" fill="#795c00"/>
<rect x="236.548" y="457.10" width="0.626" height="10.70" fill="#795c00"/>
<rect x="236.924" y="457.10" width="0.626" height="10.70" fill="#644c00"/>
<rect x="237.300" y="457.10" width="0.626" height="10.70" fill="#644c00"/>
<rect x="237.676" y="457.10" width="0.626" height="10.70" fill="#644c00"/>
<rect x="238.052" y="457.10" width="0.626" height="10.70" fill="#846400"/>
<rect x="238.429" y="457.10" width="0.626" height="10.70" fill="#554000"/>
<rect x="238.805" y="457.10" width="0.626" height="10.70" fill="#554000"/>
<rect x="239.181" y="457.10" width="0.626" height="10.70" fill="#554100"/>
<rect x="239.557" y="457.10" width="0.626" height="10.70" fill="#674e00"/>
<rect x="239.933" y="457.10" width="0.626" height="10.70" fill="#684f00"/>
<rect x="240.310" y="457.10" width="0.626" height="10.70" fill="#6e5400"/>
<rect x="240.686" y="457.10" width="0.626" height="10.70" fill="#564100"/>
<rect x="241.062" y="457.10" width="0.626" height="10.70" fill="#564100"/>
<rect x="241.438" y="457.10" width="0.626" height="10.70" fill="#6e5300"/>
<rect x="241.814" y="457.10" width="0.626" height="10.70" fill="#6e5400"/>
<rect x="242.190" y="457.10" width="0.626" height="10.70" fill="#6d5300"/>
<rect x="242.567" y="457.10" width="0.626" height="10.70" fill="#6d5300"/>
<rect x="242.943" y="457.10" width="0.626" height="10.70" fill="#715600"/>
<rect x="243.319" y="457.10" width="0.626" height="10.70" fill="#715600"/>
<rect x="243.695" y="457.10" width="0.626" height="10.70" fill="#684f00"/>
<rect x="244.071" y="457.10" width="0.626" height="10.70" fill="#6e5400"/>
<rect x="244.448" y="457.10" width="0.626" height="10.70" fill="#6e5400"/>
<rect x="244.824" y="457.10" width="0.626" height="10.70" fill="#674e00"/>
<rect x="245.200" y="457.10" width="0.626" height="10.70" fill="#674f00"/>
<rect x="245.576" y="457.10" width="0.626" height="10.70" fill="#684f00"/>
<rect x="245.952" y="457.10" width="0.626" height="10.70" fill="#624a00"/>
<rect x="246.329" y="457.10" width="0.626" height="10.70" fill="#4b3900"/>
<rect x="246.705" y="457.10" width="0.626" height="10.70" fill="#4b3900"/>
<rect x="247.081" y="457.10" width="0.626" height="10.70" fill="#5a4400"/>
<rect x="247.457" y="457.10" width="0.626" height="10.70" fill="#5a4400"/>
<rect x="247.833" y="457.10" width="0.626" height="10.70" fill="#5a4400"/>
<rect x="248.210" y="457.10" width="0.626" height="10.70" fill="#826200"/>
<rect x="248.586" y="457.10" width="0.626" height="10.70" fill="#826300"/>
<rect x="248.962" y="457.10" width="0.626" height="10.70" fill="#836400"/>
<rect x="249.338" y="457.10" width="0.626" height="10.70" fill="#836400"/>
<rect x="249.714" y="457.10" width="0.626" height="10.70" fill="#483600"/>
<rect x="250.090" y="457.10" width="0.626" height="10.70" fill="#483700"/>
<rect x="250.467" y="457.10" width="0.626" height="10.70" fill="#7e6000"/>
<rect x="250.843" y="457.10" width="0.626" height="10.70" fill="#5d4700"/>
<rect x="251.219" y="457.10" width="0.626" height="10.70" fill="#554100"/>
<rect x="251.595" y="457.10" width="0.626" height="10.70" fill="#564100"/>
<rect x="251.971" y="457.10" width="0.626" height="10.70" fill="#765900"/>
<rect x="252.348" y="457.10" width="0.626" height="10.70" fill="#876600"/>
<rect x="252.724" y="457.10" width="0.626" height="10.70" fill="#745800"/>
<rect x="253.100" y="457.10" width="0.626" height="10.70" fill="#806100"/>
<rect x="253.476" y="457.10" width="0.626" height="10.70" fill="#806100"/>
<rect x="253.852" y="457.10" width="0.626" height="10.70" fill="#876700"/>
<rect x="254.229" y="457.10" width="0.626" height="10.70" fill="#876700"/>
<rect x="254.605" y="457.10" width="0.626" height="10.70" fill="#7b5e00"/>
<rect x="254.981" y="457.10" width="0.626" height="10.70" fill="#7b5e00"/>
<rect x="255.357" y="457.10" width="0.626" height="10.70" fill="#7c5e00"/>
<rect x="255.733" y="457.10" width="0.626" height="10.70" fill="#8d6b00"/>
<rect x="256.110" y="457.10" width="0.626" height="10.70" fill="#8e6c00"/>
<rect x="256.486" y="457.10" width="0.626" height="10.70" fill="#674e00"/>
<rect x="256.862" y="457.10" width="0.626" height="10.70" fill="#554100"/>
<rect x="257.238" y="457.10" width="0.626" height="10.70" fill="#554100"/>
<rect x="257.614" y="457.10" width="0.626" height="10.70" fill="#564100"/>
<rect x="257.990" y="457.10" width="0.626" height="10.70" fill="#8a6900"/>
<rect x="258.367" y="457.10" width="0.626" height="10.70" fill="#695000"/>
<rect x="258.743" y="457.10" width="0.626" height="10.70" fill="#6a5000"/>
<rect x="259.119" y="457.10" width="0.626" height="10.70" fill="#a17a00"/>
<rect x="259.495" y="457.10" width="0.626" height="10.70" fill="#a17a00"/>
<rect x="259.871" y="457.10" width="0.626" height="10.70" fill="#a17a00"/>
<rect x="260.248" y="457.10" width="0.626" height="10.70" fill="#7a5d00"/>
<rect x="260.624" y="457.10" width="0.626" height="10.70" fill="#7a5d00"/>
<rect x="261.000" y="457.10" width="0.626" height="10.70" fill="#7a5d00"/>
<rect x="261.376" y="457.10" width="0.626" height="10.70" fill="#8d6b00"/>
<rect x="261.752" y="457.10" width="0.626" height="10.70" fill="#8d6b00"/>
<rect x="262.129" y="457.10" width="0.626" height="10.70" fill="#5a4500"/>
<rect x="262.505" y="457.10" width="0.626" height="10.70" fill="#5a4500"/>
<rect x="262.881" y="457.10" width="0.626" height="10.70" fill="#745800"/>
<rect x="263.257" y="457.10" width="0.626" height="10.70" fill="#755900"/>
<rect x="263.633" y="457.10" width="0.626" height="10.70" fill="#806100"/>
<rect x="264.010" y="457.10" width="0.626" height="10.70" fill="#806100"/>
<rect x="264.386" y="457.10" width="0.626" height="10.70" fill="#806100"/>
<rect x="264.762" y="457.10" width="0.626" height="10.70" fill="#755900"/>
<rect x="265.138" y="457.10" width="0.626" height="10.70" fill="#755900"/>
<rect x="265.514" y="457.10" width="0.626" height="10.70" fill="#644c00"/>
<rect x="265.890" y="457.10" width="0.626" height="10.70" fill="#644c00"/>
<rect x="266.267" y="457.10" width="0.626" height="10.70" fill="#654c00"/>
<rect x="266.643" y="457.10" width="0.626" height="10.70" fill="#866500"/>
<rect x="267.019" y="457.10" width="0.626" height="10.70" fill="#856500"/>
<rect x="267.395" y="457.10" width="0.626" height="10.70" fill="#7e6000"/>
<rect x="267.771" y="457.10" width="0.626" height="10.70" fill="#7e6000"/>
<rect x="268.148" y="457.10" width="0.626" height="10.70" fill="#644c00"/>
<rect x="268.524" y="457.10" width="0.626" height="10.70" fill="#795c00"/>
<rect x="268.900" y="457.10" width="0.626" height="10.70" fill="#795c00"/>
<rect x="269.276" y="457.10" width="0.626" height="10.70" fill="#6c5200"/>
<rect x="269.652" y="457.10" width="0.626" height="10.70" fill="#6c5200"/>
<rect x="270.029" y="457.10" width="0.626" height="10.70" fill="#6d5300"/>
<rect x="270.405" y="457.10" width="0.626" height="10.70" fill="#795c00"/>
<rect x="270.781" y="457.10" width="0.626" height="10.70" fill="#795c00"/>
<rect x="271.157" y="457.10" width="0.626" height="10.70" fill="#795c00"/>
<rect x="271.533" y="457.10" width="0.626" height="10.70" fill="#826200"/>
<rect x="271.910" y="457.10" width="0.626" height="10.70" fill="#806100"/>
<rect x="272.286" y="457.10" width="0.626" height="10.70" fill="#806100"/>
<rect x="272.662" y="457.10" width="0.626" height="10.70" fill="#644c00"/>
<rect x="273.038" y="457.10" width="0.626" height="10.70" fill="#644c00"/>
<rect x="273.414" y="457.10" width="0.626" height="10.70" fill="#644c00"/>
<rect x="273.790" y="457.10" width="0.626" height="10.70" fill="#6d5300"/>
<rect x="274.167" y="457.10" width="0.626" height="10.70" fill="#6d5300"/>
<rect x="274.543" y="457.10" width="0.626" height="10.70" fill="#806100"/>
<rect x="274.919" y="457.10" width="0.626" height="10.70" fill="#806100"/>
<rect x="275.295" y="457.10" width="0.626" height="10.70" fill="#896800"/>
<rect x="275.671" y="457.10" width="0.626" height="10.70" fill="#896800"/>
<rect x="276.048" y="457.10" width="0.626" height="10.70" fill="#896800"/>
<rect x="276.424" y="457.10" width="0.626" height="10.70" fill="#906d00"/>
<rect x="276.800" y="457.10" width="0.626" height="10.70" fill="#906e00"/>
<rect x="277.176" y="457.10" width="0.626" height="10.70" fill="#684f00"/>
<rect x="277.552" y="457.10" width="0.626" height="10.70" fill="#624b00"/>
<rect x="277.929" y="457.10" width="0.626" height="10.70" fill="#634b00"/>
<rect x="278.305" y="457.10" width="0.626" height="10.70" fill="#634b00"/>
<rect x="278.681" y="457.10" width="0.626" height="10.70" fill="#755900"/>
<rect x="279.057" y="457.10" width="0.626" height="10.70" fill="#755900"/>
<rect x="279.433" y="457.10" width="0.626" height="10.70" fill="#755900"/>
<rect x="279.810" y="457.10" width="0.626" height="10.70" fill="#795c00"/>
<rect x="280.186" y="457.10" width="0.626" height="10.70" fill="#795c00"/>
<rect x="280.562" y="457.10" width="0.626" height="10.70" fill="#906d00"/>
<rect x="280.938" y="457.10" width="0.626" height="10.70" fill="#906e00"/>
<rect x="281.314" y="457.10" width="0.626" height="10.70" fill="#906e00"/>
<rect x="281.690" y="457.10" width="0.626" height="10.70" fill="#826300"/>
<rect x="282.067" y="457.10" width="0.626" height="10.70" fill="#836300"/>
<rect x="282.443" y="457.10" width="0.626" height="10.70" fill="#836300"/>
<rect x="282.819" y="457.10" width="0.626" height="10.70" fill="#a57d00"/>
<rect x="283.195" y="457.10" width="0.626" height="10.70" fill="#a57d00"/>
<rect x="283.571" y="457.10" width="0.626" height="10.70" fill="#957100"/>
<rect x="283.948" y="457.10" width="0.626" height="10.70" fill="#957100"/>
<rect x="284.324" y="457.10" width="0.626" height="10.70" fill="#957100"/>
<rect x="284.700" y="457.10" width="0.626" height="10.70" fill="#816200"/>
<rect x="285.076" y="457.10" width="0.626" height="10.70" fill="#725600"/>
<rect x="285.452" y="457.10" width="0.626" height="10.70" fill="#725600"/>
<rect x="285.829" y="457.10" width="0.626" height="10.70" fill="#856500"/>
<rect x="286.205" y="457.10" width="0.626" height="10.70" fill="#947100"/>
<rect x="286.581" y="457.10" width="0.626" height="10.70" fill="#957100"/>
<rect x="286.957" y="457.10" width="0.626" height="10.70" fill="#806200"/>
<rect x="287.333" y="457.10" width="0.626" height="10.70" fill="#816200"/>
<rect x="287.710" y="457.10" width="0.626" height="10.70" fill="#816200"/>
<rect x="288.086" y="457.10" width="0.626" height="10.70" fill="#826300"/>
<rect x="288.462" y="457.10" width="0.626" height="10.70" fill="#785b00"/>
<rect x="288.838" y="457.10" width="0.626" height="10.70" fill="#785b00"/>
<rect x="289.214" y="457.10" width="0.626" height="10.70" fill="#876600"/>
<rect x="289.590" y="457.10" width="0.626" height="10.70" fill="#876600"/>
<rect x="289.967" y="457.10" width="0.626" height="10.70" fill="#876700"/>
<rect x="290.343" y="457.10" width="0.626" height="10.70" fill="#987400"/>
<rect x="290.719" y="457.10" width="0.626" height="10.70" fill="#997400"/>
<rect x="291.095" y="457.10" width="0.626" height="10.70" fill="#997400"/>
<rect x="291.471" y="457.10" width="0.626" height="10.70" fill="#8c6b00"/>
<rect x="291.848" y="457.10" width="0.626" height="10.70" fill="#8d6b00"/>
<rect x="292.224" y="457.10" width="0.626" height="10.70" fill="#735700"/>
<rect x="292.600" y="457.10" width="0.626" height="10.70" fill="#735800"/>
<rect x="292.976" y="457.10" width="0.626" height="10.70" fill="#745800"/>
<rect x="293.352" y="457.10" width="0.626" height="10.70" fill="#937000"/>
<rect x="293.729" y="457.10" width="0.626" height="10.70" fill="#937000"/>
<rect x="294.105" y="457.10" width="0.626" height="10.70" fill="#937000"/>
<rect x="294.481" y="457.10" width="0.626" height="10.70" fill="#896800"/>
<rect x="294.857" y="457.10" width="0.626" height="10.70" fill="#664d00"/>
<rect x="295.233" y="457.10" width="0.626" height="10.70" fill="#664d00"/>
<rect x="295.610" y="457.10" width="0.626" height="10.70" fill="#906e00"/>
<rect x="295.986" y="457.10" width="0.626" height="10.70" fill="#916e00"/>
<rect x="296.362" y="457.10" width="0.626" height="10.70" fill="#916e00"/>
<rect x="296.738" y="457.10" width="0.626" height="10.70" fill="#926f00"/>
<rect x="297.114" y="457.10" width="0.626" height="10.70" fill="#926f00"/>
<rect x="297.490" y="457.10" width="0.626" height="10.70" fill="#926f00"/>
<rect x="297.867" y="457.10" width="0.626" height="10.70" fill="#9d7700"/>
<rect x="298.243" y="457.10" width="0.626" height="10.70" fill="#9d7700"/>
<rect x="298.619" y="457.10" width="0.626" height="10.70" fill="#9d7800"/>
<rect x="298.995" y="457.10" width="0.626" height="10.70" fill="#b28700"/>
<rect x="299.371" y="457.10" width="0.626" height="10.70" fill="#b38800"/>
<rect x="299.748" y="457.10" width="0.626" height="10.70" fill="#b38800"/>
<rect x="300.124" y="457.10" width="0.626" height="10.70" fill="#987400"/>
<rect x="300.500" y="457.10" width="0.626" height="10.70" fill="#a27b00"/>
<rect x="300.876" y="457.10" width="0.626" height="10.70" fill="#a27b00"/>
<rect x="301.252" y="457.10" width="0.626" height="10.70" fill="#8e6c00"/>
<rect x="301.629" y="457.10" width="0.626" height="10.70" fill="#8e6c00"/>
<rect x="302.005" y="457.10" width="0.626" height="10.70" fill="#a17a00"/>
<rect x="302.381" y="457.10" width="0.626" height="10.70" fill="#ae8400"/>
<rect x="302.757" y="457.10" width="0.626" height="10.70" fill="#806100"/>
<rect x="303.133" y="457.10" width="0.626" height="10.70" fill="#806100"/>
<rect x="303.510" y="457.10" width="0.626" height="10.70" fill="#806100"/>
<rect x="303.886" y="457.10" width="0.626" height="10.70" fill="#8b6900"/>
<rect x="304.262" y="457.10" width="0.626" height="10.70" fill="#806100"/>
<rect x="304.638" y="457.10" width="0.626" height="10.70" fill="#806100"/>
<rect x="305.014" y="457.10" width="0.626" height="10.70" fill="#977200"/>
<rect x="305.390" y="457.10" width="0.626" height="10.70" fill="#977300"/>
<rect x="305.767" y="457.10" width="0.626" height="10.70" fill="#977300"/>
<rect x="306.143" y="457.10" width="0.626" height="10.70" fill="#836300"/>
<rect x="306.519" y="457.10" width="0.626" height="10.70" fill="#836400"/>
<rect x="306.895" y="457.10" width="0.626" height="10.70" fill="#836400"/>
<rect x="307.271" y="457.10" width="0.626" height="10.70" fill="#7b5e00"/>
<rect x="307.648" y="457.10" width="0.626" height="10.70" fill="#7c5e00"/>
<rect x="308.024" y="457.10" width="0.626" height="10.70" fill="#a37c00"/>
<rect x="213.60" y="469.2" width="94.80" height="9.20" fill="#565656"/>
<line x1="213.60" y1="471.20" x2="308.40" y2="471.20" stroke="#a8a8a8" stroke-width="0.5"/>
<line x1="213.60" y1="473.30" x2="308.40" y2="473.30" stroke="#a8a8a8" stroke-width="0.5"/>
<line x1="213.60" y1="475.30" x2="308.40" y2="475.30" stroke="#a8a8a8" stroke-width="0.5"/>
<line x1="213.60" y1="477.30" x2="308.40" y2="477.30" stroke="#a8a8a8" stroke-width="0.5"/>
<polyline points="213.60,451.85 192.80,451.85 192.80,462.45 213.60,462.45" fill="none" stroke="#555" stroke-width="0.8"/>
<text x="310.00" y="445.2" font-size="4.6" font-weight="bold" fill="#222">type</text>
<text x="310.00" y="453.95" font-size="4.6" text-anchor="start" fill="#222">PYCR1</text>
<text x="310.00" y="464.55" font-size="4.6" text-anchor="start" fill="#222">PYCR2</text>
<defs><linearGradient id="gF" x1="0" y1="0" x2="0" y2="1"><stop offset="0" stop-color="#f5ba00"/><stop offset="0.12" stop-color="#f0b400"/><stop offset="0.5" stop-color="#000"/><stop offset="0.88" stop-color="#1b6fbd"/><stop offset="1" stop-color="#1c7bc9"/></linearGradient></defs>
<rect x="327.60" y="451.3" width="4.4" height="24.2" fill="url(#gF)"/>
<text x="333.60" y="454.30" font-size="4.6" text-anchor="start" fill="#222">6</text>
<text x="333.60" y="459.80" font-size="4.6" text-anchor="start" fill="#222">4</text>
<text x="333.60" y="465.20" font-size="4.6" text-anchor="start" fill="#222">2</text>
<text x="333.60" y="470.70" font-size="4.6" text-anchor="start" fill="#222">0</text>
<text x="333.60" y="476.20" font-size="4.6" text-anchor="start" fill="#222">−2</text>
<text x="348.70" y="450.0" font-size="4.6" font-weight="bold" fill="#222">type</text>
<rect x="348.70" y="452.2" width="3.8" height="3.6" fill="#eedb8a"/>
<rect x="348.70" y="456.8" width="3.8" height="3.6" fill="#1b8ed0"/>
<text x="353.90" y="455.60" font-size="4.6" text-anchor="start" fill="#222">high</text>
<text x="353.90" y="460.20" font-size="4.6" text-anchor="start" fill="#222">low</text>
<circle cx="403.20" cy="344.63" r="1.0" fill="#1f78c8"/>
<circle cx="405.60" cy="343.81" r="1.0" fill="#1f78c8"/>
<circle cx="407.99" cy="341.83" r="1.0" fill="#1f78c8"/>
<circle cx="410.39" cy="341.17" r="1.0" fill="#1f78c8"/>
<circle cx="412.79" cy="340.34" r="1.0" fill="#1f78c8"/>
<circle cx="415.19" cy="339.85" r="1.0" fill="#1f78c8"/>
<circle cx="417.59" cy="339.02" r="1.0" fill="#1f78c8"/>
<circle cx="419.98" cy="339.02" r="1.0" fill="#1f78c8"/>
<circle cx="422.38" cy="338.69" r="1.0" fill="#1f78c8"/>
<circle cx="424.78" cy="338.36" r="1.0" fill="#1f78c8"/>
<circle cx="427.18" cy="338.03" r="1.0" fill="#1f78c8"/>
<circle cx="429.58" cy="337.70" r="1.0" fill="#1f78c8"/>
<circle cx="431.97" cy="337.38" r="1.0" fill="#1f78c8"/>
<circle cx="434.37" cy="337.38" r="1.0" fill="#1f78c8"/>
<circle cx="436.77" cy="337.38" r="1.0" fill="#1f78c8"/>
<circle cx="439.17" cy="337.21" r="1.0" fill="#1f78c8"/>
<circle cx="441.57" cy="337.04" r="1.0" fill="#1f78c8"/>
<circle cx="443.96" cy="336.71" r="1.0" fill="#1f78c8"/>
<circle cx="446.36" cy="336.38" r="1.0" fill="#1f78c8"/>
<circle cx="448.76" cy="336.22" r="1.0" fill="#1f78c8"/>
<circle cx="451.16" cy="335.89" r="1.0" fill="#1f78c8"/>
<circle cx="453.56" cy="335.89" r="1.0" fill="#1f78c8"/>
<circle cx="455.95" cy="335.89" r="1.0" fill="#1f78c8"/>
<circle cx="458.35" cy="335.89" r="1.0" fill="#1f78c8"/>
<circle cx="460.75" cy="335.46" r="1.0" fill="#f2b51d"/>
<circle cx="463.15" cy="335.46" r="1.0" fill="#f2b51d"/>
<circle cx="465.55" cy="335.46" r="1.0" fill="#f2b51d"/>
<circle cx="467.94" cy="335.46" r="1.0" fill="#f2b51d"/>
<circle cx="470.34" cy="335.46" r="1.0" fill="#f2b51d"/>
<circle cx="472.74" cy="335.07" r="1.0" fill="#f2b51d"/>
<circle cx="475.14" cy="334.82" r="1.0" fill="#f2b51d"/>
<circle cx="477.54" cy="334.56" r="1.0" fill="#f2b51d"/>
<circle cx="479.93" cy="334.44" r="1.0" fill="#f2b51d"/>
<circle cx="482.33" cy="334.18" r="1.0" fill="#f2b51d"/>
<circle cx="484.73" cy="333.93" r="1.0" fill="#f2b51d"/>
<circle cx="487.13" cy="333.80" r="1.0" fill="#f2b51d"/>
<circle cx="489.53" cy="333.55" r="1.0" fill="#f2b51d"/>
<circle cx="491.92" cy="333.42" r="1.0" fill="#f2b51d"/>
<circle cx="494.32" cy="333.29" r="1.0" fill="#f2b51d"/>
<circle cx="496.72" cy="333.04" r="1.0" fill="#f2b51d"/>
<circle cx="499.12" cy="332.91" r="1.0" fill="#f2b51d"/>
<circle cx="501.52" cy="332.65" r="1.0" fill="#f2b51d"/>
<circle cx="503.91" cy="332.40" r="1.0" fill="#f2b51d"/>
<circle cx="506.31" cy="331.89" r="1.0" fill="#f2b51d"/>
<circle cx="508.71" cy="331.00" r="1.0" fill="#f2b51d"/>
<circle cx="511.11" cy="330.36" r="1.0" fill="#f2b51d"/>
<circle cx="513.51" cy="329.98" r="1.0" fill="#f2b51d"/>
<circle cx="515.90" cy="329.73" r="1.0" fill="#f2b51d"/>
<circle cx="518.30" cy="329.47" r="1.0" fill="#f2b51d"/>
<circle cx="520.70" cy="328.45" r="1.0" fill="#f2b51d"/>
<circle cx="523.10" cy="324.64" r="1.0" fill="#f2b51d"/>
<circle cx="525.50" cy="320.82" r="1.0" fill="#f2b51d"/>
<circle cx="527.89" cy="316.36" r="1.0" fill="#f2b51d"/>
<circle cx="530.29" cy="312.80" r="1.0" fill="#f2b51d"/>
<rect x="398.40" y="311.80" width="137.10" height="33.50" fill="none" stroke="#8f8f8f" stroke-width="1.15"/>
<line x1="395.40" y1="318.40" x2="398.40" y2="318.40" stroke="#6a6a6a" stroke-width="0.8"/>
<line x1="395.40" y1="326.65" x2="398.40" y2="326.65" stroke="#6a6a6a" stroke-width="0.8"/>
<text x="392.10" y="326.65" font-size="4.4" text-anchor="middle" fill="#222" transform="rotate(-90 392.10 326.65)">1.5</text>
<line x1="395.40" y1="334.90" x2="398.40" y2="334.90" stroke="#6a6a6a" stroke-width="0.8"/>
<line x1="395.40" y1="343.15" x2="398.40" y2="343.15" stroke="#6a6a6a" stroke-width="0.8"/>
<text x="392.10" y="343.15" font-size="4.4" text-anchor="middle" fill="#222" transform="rotate(-90 392.10 343.15)">0.5</text>
<line x1="400.80" y1="345.30" x2="400.80" y2="347.90" stroke="#6a6a6a" stroke-width="0.8"/>
<text x="400.80" y="355.60" font-size="4.9" text-anchor="middle" class="s" fill="#222">0</text>
<line x1="424.78" y1="345.30" x2="424.78" y2="347.90" stroke="#6a6a6a" stroke-width="0.8"/>
<text x="424.78" y="355.60" font-size="4.9" text-anchor="middle" class="s" fill="#222">10</text>
<line x1="448.76" y1="345.30" x2="448.76" y2="347.90" stroke="#6a6a6a" stroke-width="0.8"/>
<text x="448.76" y="355.60" font-size="4.9" text-anchor="middle" class="s" fill="#222">20</text>
<line x1="472.74" y1="345.30" x2="472.74" y2="347.90" stroke="#6a6a6a" stroke-width="0.8"/>
<text x="472.74" y="355.60" font-size="4.9" text-anchor="middle" class="s" fill="#222">30</text>
<line x1="496.72" y1="345.30" x2="496.72" y2="347.90" stroke="#6a6a6a" stroke-width="0.8"/>
<text x="496.72" y="355.60" font-size="4.9" text-anchor="middle" class="s" fill="#222">40</text>
<line x1="520.70" y1="345.30" x2="520.70" y2="347.90" stroke="#6a6a6a" stroke-width="0.8"/>
<text x="520.70" y="355.60" font-size="4.9" text-anchor="middle" class="s" fill="#222">50</text>
<text x="466.95" y="368.10" font-size="4.75" text-anchor="middle" class="s" fill="#222">Patients (increasing risk score)</text>
<text x="378.90" y="328.55" font-size="4.75" text-anchor="middle" class="s" fill="#222" transform="rotate(-90 378.90 328.55)">Risk score</text>
<line x1="459.55" y1="379.10" x2="459.55" y2="412.40" stroke="#555" stroke-width="0.7" stroke-dasharray="1,1.2"/>
<circle cx="403.20" cy="410.00" r="1.15" fill="#1f78c8"/>
<circle cx="405.60" cy="410.00" r="1.15" fill="#1f78c8"/>
<circle cx="407.99" cy="390.40" r="1.15" fill="#1f78c8"/>
<circle cx="410.39" cy="410.50" r="1.15" fill="#1f78c8"/>
<circle cx="412.79" cy="399.50" r="1.15" fill="#1f78c8"/>
<circle cx="415.19" cy="384.90" r="1.15" fill="#1f78c8"/>
<circle cx="417.59" cy="395.10" r="1.15" fill="#1f78c8"/>
<circle cx="419.98" cy="399.00" r="1.15" fill="#1f78c8"/>
<circle cx="422.38" cy="392.20" r="1.15" fill="#1f78c8"/>
<circle cx="424.78" cy="405.80" r="1.15" fill="#1f78c8"/>
<circle cx="427.18" cy="394.20" r="1.15" fill="#f2b51d"/>
<circle cx="429.58" cy="380.00" r="1.15" fill="#1f78c8"/>
<circle cx="431.97" cy="383.60" r="1.15" fill="#1f78c8"/>
<circle cx="434.37" cy="397.30" r="1.15" fill="#1f78c8"/>
<circle cx="436.77" cy="396.90" r="1.15" fill="#1f78c8"/>
<circle cx="439.17" cy="408.70" r="1.15" fill="#f2b51d"/>
<circle cx="441.57" cy="402.70" r="1.15" fill="#1f78c8"/>
<circle cx="443.96" cy="408.20" r="1.15" fill="#1f78c8"/>
<circle cx="446.36" cy="402.20" r="1.15" fill="#1f78c8"/>
<circle cx="448.76" cy="403.10" r="1.15" fill="#1f78c8"/>
<circle cx="451.16" cy="396.40" r="1.15" fill="#1f78c8"/>
<circle cx="453.56" cy="397.30" r="1.15" fill="#1f78c8"/>
<circle cx="455.95" cy="408.50" r="1.15" fill="#1f78c8"/>
<circle cx="458.35" cy="398.50" r="1.15" fill="#1f78c8"/>
<circle cx="460.75" cy="397.60" r="1.15" fill="#f2b51d"/>
<circle cx="463.15" cy="398.50" r="1.15" fill="#1f78c8"/>
<circle cx="465.55" cy="396.40" r="1.15" fill="#1f78c8"/>
<circle cx="467.94" cy="410.90" r="1.15" fill="#1f78c8"/>
<circle cx="470.34" cy="410.40" r="1.15" fill="#1f78c8"/>
<circle cx="472.74" cy="404.50" r="1.15" fill="#1f78c8"/>
<circle cx="475.14" cy="392.20" r="1.15" fill="#1f78c8"/>
<circle cx="477.54" cy="404.50" r="1.15" fill="#f2b51d"/>
<circle cx="479.93" cy="386.40" r="1.15" fill="#1f78c8"/>
<circle cx="482.33" cy="392.20" r="1.15" fill="#1f78c8"/>
<circle cx="484.73" cy="410.00" r="1.15" fill="#1f78c8"/>
<circle cx="487.13" cy="411.50" r="1.15" fill="#1f78c8"/>
<circle cx="489.53" cy="406.40" r="1.15" fill="#1f78c8"/>
<circle cx="491.92" cy="406.00" r="1.15" fill="#1f78c8"/>
<circle cx="494.32" cy="402.70" r="1.15" fill="#1f78c8"/>
<circle cx="496.72" cy="407.80" r="1.15" fill="#f2b51d"/>
<circle cx="499.12" cy="409.50" r="1.15" fill="#1f78c8"/>
<circle cx="501.52" cy="410.40" r="1.15" fill="#f2b51d"/>
<circle cx="503.91" cy="396.40" r="1.15" fill="#1f78c8"/>
<circle cx="506.31" cy="403.30" r="1.15" fill="#1f78c8"/>
<circle cx="508.71" cy="411.50" r="1.15" fill="#1f78c8"/>
<circle cx="511.11" cy="408.20" r="1.15" fill="#1f78c8"/>
<circle cx="513.51" cy="405.80" r="1.15" fill="#1f78c8"/>
<circle cx="515.90" cy="411.50" r="1.15" fill="#1f78c8"/>
<circle cx="518.30" cy="403.60" r="1.15" fill="#f2b51d"/>
<circle cx="520.70" cy="410.00" r="1.15" fill="#f2b51d"/>
<circle cx="523.10" cy="396.90" r="1.15" fill="#1f78c8"/>
<circle cx="525.50" cy="396.00" r="1.15" fill="#f2b51d"/>
<circle cx="527.89" cy="410.90" r="1.15" fill="#1f78c8"/>
<circle cx="530.29" cy="403.10" r="1.15" fill="#1f78c8"/>
<rect x="398.40" y="379.10" width="137.10" height="33.30" fill="none" stroke="#8f8f8f" stroke-width="1.15"/>
<line x1="395.40" y1="411.80" x2="398.40" y2="411.80" stroke="#6a6a6a" stroke-width="0.8"/>
<text x="392.10" y="411.80" font-size="4.4" text-anchor="middle" fill="#222" transform="rotate(-90 392.10 411.80)">0.0</text>
<line x1="395.40" y1="407.30" x2="398.40" y2="407.30" stroke="#6a6a6a" stroke-width="0.8"/>
<line x1="395.40" y1="402.80" x2="398.40" y2="402.80" stroke="#6a6a6a" stroke-width="0.8"/>
<line x1="395.40" y1="398.30" x2="398.40" y2="398.30" stroke="#6a6a6a" stroke-width="0.8"/>
<text x="392.10" y="398.30" font-size="4.4" text-anchor="middle" fill="#222" transform="rotate(-90 392.10 398.30)">1.5</text>
<line x1="395.40" y1="393.80" x2="398.40" y2="393.80" stroke="#6a6a6a" stroke-width="0.8"/>
<line x1="395.40" y1="389.30" x2="398.40" y2="389.30" stroke="#6a6a6a" stroke-width="0.8"/>
<line x1="395.40" y1="384.80" x2="398.40" y2="384.80" stroke="#6a6a6a" stroke-width="0.8"/>
<text x="392.10" y="384.80" font-size="4.4" text-anchor="middle" fill="#222" transform="rotate(-90 392.10 384.80)">3.0</text>
<line x1="395.40" y1="380.30" x2="398.40" y2="380.30" stroke="#6a6a6a" stroke-width="0.8"/>
<line x1="400.80" y1="412.40" x2="400.80" y2="415.00" stroke="#6a6a6a" stroke-width="0.8"/>
<text x="400.80" y="423.40" font-size="4.9" text-anchor="middle" class="s" fill="#222">0</text>
<line x1="424.78" y1="412.40" x2="424.78" y2="415.00" stroke="#6a6a6a" stroke-width="0.8"/>
<text x="424.78" y="423.40" font-size="4.9" text-anchor="middle" class="s" fill="#222">10</text>
<line x1="448.76" y1="412.40" x2="448.76" y2="415.00" stroke="#6a6a6a" stroke-width="0.8"/>
<text x="448.76" y="423.40" font-size="4.9" text-anchor="middle" class="s" fill="#222">20</text>
<line x1="472.74" y1="412.40" x2="472.74" y2="415.00" stroke="#6a6a6a" stroke-width="0.8"/>
<text x="472.74" y="423.40" font-size="4.9" text-anchor="middle" class="s" fill="#222">30</text>
<line x1="496.72" y1="412.40" x2="496.72" y2="415.00" stroke="#6a6a6a" stroke-width="0.8"/>
<text x="496.72" y="423.40" font-size="4.9" text-anchor="middle" class="s" fill="#222">40</text>
<line x1="520.70" y1="412.40" x2="520.70" y2="415.00" stroke="#6a6a6a" stroke-width="0.8"/>
<text x="520.70" y="423.40" font-size="4.9" text-anchor="middle" class="s" fill="#222">50</text>
<text x="466.95" y="434.80" font-size="4.75" text-anchor="middle" class="s" fill="#222">Patients (increasing risk score)</text>
<text x="378.90" y="395.75" font-size="4.75" text-anchor="middle" class="s" fill="#222" transform="rotate(-90 378.90 395.75)">Survival time (years)</text>
<rect x="397.30" y="441.5" width="43.07" height="3.50" fill="#1b8ed0"/>
<rect x="440.37" y="441.5" width="53.83" height="3.50" fill="#eedb8a"/>
<line x1="399.09" y1="441.50" x2="399.09" y2="445.00" stroke="#ffffff" stroke-width="0.35" stroke-opacity="0.6"/>
<line x1="400.89" y1="441.50" x2="400.89" y2="445.00" stroke="#ffffff" stroke-width="0.35" stroke-opacity="0.6"/>
<line x1="402.68" y1="441.50" x2="402.68" y2="445.00" stroke="#ffffff" stroke-width="0.35" stroke-opacity="0.6"/>
<line x1="404.48" y1="441.50" x2="404.48" y2="445.00" stroke="#ffffff" stroke-width="0.35" stroke-opacity="0.6"/>
<line x1="406.27" y1="441.50" x2="406.27" y2="445.00" stroke="#ffffff" stroke-width="0.35" stroke-opacity="0.6"/>
<line x1="408.07" y1="441.50" x2="408.07" y2="445.00" stroke="#ffffff" stroke-width="0.35" stroke-opacity="0.6"/>
<line x1="409.86" y1="441.50" x2="409.86" y2="445.00" stroke="#ffffff" stroke-width="0.35" stroke-opacity="0.6"/>
<line x1="411.66" y1="441.50" x2="411.66" y2="445.00" stroke="#ffffff" stroke-width="0.35" stroke-opacity="0.6"/>
<line x1="413.45" y1="441.50" x2="413.45" y2="445.00" stroke="#ffffff" stroke-width="0.35" stroke-opacity="0.6"/>
<line x1="415.24" y1="441.50" x2="415.24" y2="445.00" stroke="#ffffff" stroke-width="0.35" stroke-opacity="0.6"/>
<line x1="417.04" y1="441.50" x2="417.04" y2="445.00" stroke="#ffffff" stroke-width="0.35" stroke-opacity="0.6"/>
<line x1="418.83" y1="441.50" x2="418.83" y2="445.00" stroke="#ffffff" stroke-width="0.35" stroke-opacity="0.6"/>
<line x1="420.63" y1="441.50" x2="420.63" y2="445.00" stroke="#ffffff" stroke-width="0.35" stroke-opacity="0.6"/>
<line x1="422.42" y1="441.50" x2="422.42" y2="445.00" stroke="#ffffff" stroke-width="0.35" stroke-opacity="0.6"/>
<line x1="424.22" y1="441.50" x2="424.22" y2="445.00" stroke="#ffffff" stroke-width="0.35" stroke-opacity="0.6"/>
<line x1="426.01" y1="441.50" x2="426.01" y2="445.00" stroke="#ffffff" stroke-width="0.35" stroke-opacity="0.6"/>
<line x1="427.81" y1="441.50" x2="427.81" y2="445.00" stroke="#ffffff" stroke-width="0.35" stroke-opacity="0.6"/>
<line x1="429.60" y1="441.50" x2="429.60" y2="445.00" stroke="#ffffff" stroke-width="0.35" stroke-opacity="0.6"/>
<line x1="431.39" y1="441.50" x2="431.39" y2="445.00" stroke="#ffffff" stroke-width="0.35" stroke-opacity="0.6"/>
<line x1="433.19" y1="441.50" x2="433.19" y2="445.00" stroke="#ffffff" stroke-width="0.35" stroke-opacity="0.6"/>
<line x1="434.98" y1="441.50" x2="434.98" y2="445.00" stroke="#ffffff" stroke-width="0.35" stroke-opacity="0.6"/>
<line x1="436.78" y1="441.50" x2="436.78" y2="445.00" stroke="#ffffff" stroke-width="0.35" stroke-opacity="0.6"/>
<line x1="438.57" y1="441.50" x2="438.57" y2="445.00" stroke="#ffffff" stroke-width="0.35" stroke-opacity="0.6"/>
<line x1="440.37" y1="441.50" x2="440.37" y2="445.00" stroke="#ffffff" stroke-width="0.35" stroke-opacity="0.6"/>
<line x1="442.16" y1="441.50" x2="442.16" y2="445.00" stroke="#ffffff" stroke-width="0.35" stroke-opacity="0.6"/>
<line x1="443.96" y1="441.50" x2="443.96" y2="445.00" stroke="#ffffff" stroke-width="0.35" stroke-opacity="0.6"/>
<line x1="445.75" y1="441.50" x2="445.75" y2="445.00" stroke="#ffffff" stroke-width="0.35" stroke-opacity="0.6"/>
<line x1="447.54" y1="441.50" x2="447.54" y2="445.00" stroke="#ffffff" stroke-width="0.35" stroke-opacity="0.6"/>
<line x1="449.34" y1="441.50" x2="449.34" y2="445.00" stroke="#ffffff" stroke-width="0.35" stroke-opacity="0.6"/>
<line x1="451.13" y1="441.50" x2="451.13" y2="445.00" stroke="#ffffff" stroke-width="0.35" stroke-opacity="0.6"/>
<line x1="452.93" y1="441.50" x2="452.93" y2="445.00" stroke="#ffffff" stroke-width="0.35" stroke-opacity="0.6"/>
<line x1="454.72" y1="441.50" x2="454.72" y2="445.00" stroke="#ffffff" stroke-width="0.35" stroke-opacity="0.6"/>
<line x1="456.52" y1="441.50" x2="456.52" y2="445.00" stroke="#ffffff" stroke-width="0.35" stroke-opacity="0.6"/>
<line x1="458.31" y1="441.50" x2="458.31" y2="445.00" stroke="#ffffff" stroke-width="0.35" stroke-opacity="0.6"/>
<line x1="460.11" y1="441.50" x2="460.11" y2="445.00" stroke="#ffffff" stroke-width="0.35" stroke-opacity="0.6"/>
<line x1="461.90" y1="441.50" x2="461.90" y2="445.00" stroke="#ffffff" stroke-width="0.35" stroke-opacity="0.6"/>
<line x1="463.69" y1="441.50" x2="463.69" y2="445.00" stroke="#ffffff" stroke-width="0.35" stroke-opacity="0.6"/>
<line x1="465.49" y1="441.50" x2="465.49" y2="445.00" stroke="#ffffff" stroke-width="0.35" stroke-opacity="0.6"/>
<line x1="467.28" y1="441.50" x2="467.28" y2="445.00" stroke="#ffffff" stroke-width="0.35" stroke-opacity="0.6"/>
<line x1="469.08" y1="441.50" x2="469.08" y2="445.00" stroke="#ffffff" stroke-width="0.35" stroke-opacity="0.6"/>
<line x1="470.87" y1="441.50" x2="470.87" y2="445.00" stroke="#ffffff" stroke-width="0.35" stroke-opacity="0.6"/>
<line x1="472.67" y1="441.50" x2="472.67" y2="445.00" stroke="#ffffff" stroke-width="0.35" stroke-opacity="0.6"/>
<line x1="474.46" y1="441.50" x2="474.46" y2="445.00" stroke="#ffffff" stroke-width="0.35" stroke-opacity="0.6"/>
<line x1="476.26" y1="441.50" x2="476.26" y2="445.00" stroke="#ffffff" stroke-width="0.35" stroke-opacity="0.6"/>
<line x1="478.05" y1="441.50" x2="478.05" y2="445.00" stroke="#ffffff" stroke-width="0.35" stroke-opacity="0.6"/>
<line x1="479.84" y1="441.50" x2="479.84" y2="445.00" stroke="#ffffff" stroke-width="0.35" stroke-opacity="0.6"/>
<line x1="481.64" y1="441.50" x2="481.64" y2="445.00" stroke="#ffffff" stroke-width="0.35" stroke-opacity="0.6"/>
<line x1="483.43" y1="441.50" x2="483.43" y2="445.00" stroke="#ffffff" stroke-width="0.35" stroke-opacity="0.6"/>
<line x1="485.23" y1="441.50" x2="485.23" y2="445.00" stroke="#ffffff" stroke-width="0.35" stroke-opacity="0.6"/>
<line x1="487.02" y1="441.50" x2="487.02" y2="445.00" stroke="#ffffff" stroke-width="0.35" stroke-opacity="0.6"/>
<line x1="488.82" y1="441.50" x2="488.82" y2="445.00" stroke="#ffffff" stroke-width="0.35" stroke-opacity="0.6"/>
<line x1="490.61" y1="441.50" x2="490.61" y2="445.00" stroke="#ffffff" stroke-width="0.35" stroke-opacity="0.6"/>
<line x1="492.41" y1="441.50" x2="492.41" y2="445.00" stroke="#ffffff" stroke-width="0.35" stroke-opacity="0.6"/>
<rect x="397.300" y="446.70" width="2.044" height="11.10" fill="#196fb5"/>
<rect x="399.094" y="446.70" width="2.044" height="11.10" fill="#503d00"/>
<rect x="400.889" y="446.70" width="2.044" height="11.10" fill="#644c00"/>
<rect x="402.683" y="446.70" width="2.044" height="11.10" fill="#523e00"/>
<rect x="404.478" y="446.70" width="2.044" height="11.10" fill="#342700"/>
<rect x="406.272" y="446.70" width="2.044" height="11.10" fill="#01060a"/>
<rect x="408.067" y="446.70" width="2.044" height="11.10" fill="#856500"/>
<rect x="409.861" y="446.70" width="2.044" height="11.10" fill="#302400"/>
<rect x="411.656" y="446.70" width="2.044" height="11.10" fill="#191300"/>
<rect x="413.450" y="446.70" width="2.044" height="11.10" fill="#403100"/>
<rect x="415.244" y="446.70" width="2.044" height="11.10" fill="#060400"/>
<rect x="417.039" y="446.70" width="2.044" height="11.10" fill="#02080d"/>
<rect x="418.833" y="446.70" width="2.044" height="11.10" fill="#020a11"/>
<rect x="420.628" y="446.70" width="2.044" height="11.10" fill="#1e1700"/>
<rect x="422.422" y="446.70" width="2.044" height="11.10" fill="#302400"/>
<rect x="424.217" y="446.70" width="2.044" height="11.10" fill="#060500"/>
<rect x="426.011" y="446.70" width="2.044" height="11.10" fill="#000000"/>
<rect x="427.806" y="446.70" width="2.044" height="11.10" fill="#1e1700"/>
<rect x="429.600" y="446.70" width="2.044" height="11.10" fill="#010100"/>
<rect x="431.394" y="446.70" width="2.044" height="11.10" fill="#070500"/>
<rect x="433.189" y="446.70" width="2.044" height="11.10" fill="#1e1700"/>
<rect x="434.983" y="446.70" width="2.044" height="11.10" fill="#171200"/>
<rect x="436.778" y="446.70" width="2.044" height="11.10" fill="#443400"/>
<rect x="438.572" y="446.70" width="2.044" height="11.10" fill="#463500"/>
<rect x="440.367" y="446.70" width="2.044" height="11.10" fill="#120d00"/>
<rect x="442.161" y="446.70" width="2.044" height="11.10" fill="#181200"/>
<rect x="443.956" y="446.70" width="2.044" height="11.10" fill="#060500"/>
<rect x="445.750" y="446.70" width="2.044" height="11.10" fill="#271e00"/>
<rect x="447.544" y="446.70" width="2.044" height="11.10" fill="#403100"/>
<rect x="449.339" y="446.70" width="2.044" height="11.10" fill="#110d00"/>
<rect x="451.133" y="446.70" width="2.044" height="11.10" fill="#0b0800"/>
<rect x="452.928" y="446.70" width="2.044" height="11.10" fill="#312500"/>
<rect x="454.722" y="446.70" width="2.044" height="11.10" fill="#4a3800"/>
<rect x="456.517" y="446.70" width="2.044" height="11.10" fill="#463600"/>
<rect x="458.311" y="446.70" width="2.044" height="11.10" fill="#120e00"/>
<rect x="460.106" y="446.70" width="2.044" height="11.10" fill="#070500"/>
<rect x="461.900" y="446.70" width="2.044" height="11.10" fill="#463500"/>
<rect x="463.694" y="446.70" width="2.044" height="11.10" fill="#3b2d00"/>
<rect x="465.489" y="446.70" width="2.044" height="11.10" fill="#0c0900"/>
<rect x="467.283" y="446.70" width="2.044" height="11.10" fill="#0a0800"/>
<rect x="469.078" y="446.70" width="2.044" height="11.10" fill="#080600"/>
<rect x="470.872" y="446.70" width="2.044" height="11.10" fill="#413100"/>
<rect x="472.667" y="446.70" width="2.044" height="11.10" fill="#080600"/>
<rect x="474.461" y="446.70" width="2.044" height="11.10" fill="#1e1700"/>
<rect x="476.256" y="446.70" width="2.044" height="11.10" fill="#3b2d00"/>
<rect x="478.050" y="446.70" width="2.044" height="11.10" fill="#020100"/>
<rect x="479.844" y="446.70" width="2.044" height="11.10" fill="#1e1700"/>
<rect x="481.639" y="446.70" width="2.044" height="11.10" fill="#171200"/>
<rect x="483.433" y="446.70" width="2.044" height="11.10" fill="#130e00"/>
<rect x="485.228" y="446.70" width="2.044" height="11.10" fill="#140f00"/>
<rect x="487.022" y="446.70" width="2.044" height="11.10" fill="#080600"/>
<rect x="488.817" y="446.70" width="2.044" height="11.10" fill="#02070b"/>
<rect x="490.611" y="446.70" width="2.044" height="11.10" fill="#110d00"/>
<rect x="492.406" y="446.70" width="2.044" height="11.10" fill="#483700"/>
<rect x="397.300" y="457.80" width="2.044" height="11.60" fill="#0b3150"/>
<rect x="399.094" y="457.80" width="2.044" height="11.60" fill="#624a00"/>
<rect x="400.889" y="457.80" width="2.044" height="11.60" fill="#b38800"/>
<rect x="402.683" y="457.80" width="2.044" height="11.60" fill="#b38800"/>
<rect x="404.478" y="457.80" width="2.044" height="11.60" fill="#c59500"/>
<rect x="406.272" y="457.80" width="2.044" height="11.60" fill="#ca9a00"/>
<rect x="408.067" y="457.80" width="2.044" height="11.60" fill="#c29300"/>
<rect x="409.861" y="457.80" width="2.044" height="11.60" fill="#d7a300"/>
<rect x="411.656" y="457.80" width="2.044" height="11.60" fill="#bb8e00"/>
<rect x="413.450" y="457.80" width="2.044" height="11.60" fill="#c09200"/>
<rect x="415.244" y="457.80" width="2.044" height="11.60" fill="#d29f00"/>
<rect x="417.039" y="457.80" width="2.044" height="11.60" fill="#e5ae00"/>
<rect x="418.833" y="457.80" width="2.044" height="11.60" fill="#e2ac00"/>
<rect x="420.628" y="457.80" width="2.044" height="11.60" fill="#d3a000"/>
<rect x="422.422" y="457.80" width="2.044" height="11.60" fill="#c79700"/>
<rect x="424.217" y="457.80" width="2.044" height="11.60" fill="#b18600"/>
<rect x="426.011" y="457.80" width="2.044" height="11.60" fill="#daa600"/>
<rect x="427.806" y="457.80" width="2.044" height="11.60" fill="#c39400"/>
<rect x="429.600" y="457.80" width="2.044" height="11.60" fill="#e7af00"/>
<rect x="431.394" y="457.80" width="2.044" height="11.60" fill="#c59600"/>
<rect x="433.189" y="457.80" width="2.044" height="11.60" fill="#a88000"/>
<rect x="434.983" y="457.80" width="2.044" height="11.60" fill="#d5a200"/>
<rect x="436.778" y="457.80" width="2.044" height="11.60" fill="#c79700"/>
<rect x="438.572" y="457.80" width="2.044" height="11.60" fill="#bd8f00"/>
<rect x="440.367" y="457.80" width="2.044" height="11.60" fill="#c79700"/>
<rect x="442.161" y="457.80" width="2.044" height="11.60" fill="#c59500"/>
<rect x="443.956" y="457.80" width="2.044" height="11.60" fill="#c99900"/>
<rect x="445.750" y="457.80" width="2.044" height="11.60" fill="#aa8100"/>
<rect x="447.544" y="457.80" width="2.044" height="11.60" fill="#c59600"/>
<rect x="449.339" y="457.80" width="2.044" height="11.60" fill="#cb9a00"/>
<rect x="451.133" y="457.80" width="2.044" height="11.60" fill="#b28700"/>
<rect x="452.928" y="457.80" width="2.044" height="11.60" fill="#d8a400"/>
<rect x="454.722" y="457.80" width="2.044" height="11.60" fill="#c29400"/>
<rect x="456.517" y="457.80" width="2.044" height="11.60" fill="#a77e00"/>
<rect x="458.311" y="457.80" width="2.044" height="11.60" fill="#dca700"/>
<rect x="460.106" y="457.80" width="2.044" height="11.60" fill="#bf9100"/>
<rect x="461.900" y="457.80" width="2.044" height="11.60" fill="#c59600"/>
<rect x="463.694" y="457.80" width="2.044" height="11.60" fill="#c29300"/>
<rect x="465.489" y="457.80" width="2.044" height="11.60" fill="#e1ab00"/>
<rect x="467.283" y="457.80" width="2.044" height="11.60" fill="#c59600"/>
<rect x="469.078" y="457.80" width="2.044" height="11.60" fill="#ba8e00"/>
<rect x="470.872" y="457.80" width="2.044" height="11.60" fill="#bb8e00"/>
<rect x="472.667" y="457.80" width="2.044" height="11.60" fill="#cd9c00"/>
<rect x="474.461" y="457.80" width="2.044" height="11.60" fill="#ce9c00"/>
<rect x="476.256" y="457.80" width="2.044" height="11.60" fill="#bb8e00"/>
<rect x="478.050" y="457.80" width="2.044" height="11.60" fill="#d3a000"/>
<rect x="479.844" y="457.80" width="2.044" height="11.60" fill="#bb8e00"/>
<rect x="481.639" y="457.80" width="2.044" height="11.60" fill="#c79700"/>
<rect x="483.433" y="457.80" width="2.044" height="11.60" fill="#cd9b00"/>
<rect x="485.228" y="457.80" width="2.044" height="11.60" fill="#c99900"/>
<rect x="487.022" y="457.80" width="2.044" height="11.60" fill="#c99800"/>
<rect x="488.817" y="457.80" width="2.044" height="11.60" fill="#c99900"/>
<rect x="490.611" y="457.80" width="2.044" height="11.60" fill="#bd9000"/>
<rect x="492.406" y="457.80" width="2.044" height="11.60" fill="#c89800"/>
<rect x="397.30" y="470.9" width="96.90" height="8.20" fill="#d2d2d2"/>
<line x1="398.20" y1="470.90" x2="398.20" y2="479.10" stroke="#9a9a9a" stroke-width="0.6" stroke-dasharray="1.1,0.6"/>
<line x1="399.99" y1="470.90" x2="399.99" y2="479.10" stroke="#9a9a9a" stroke-width="0.6" stroke-dasharray="1.1,0.6"/>
<line x1="401.79" y1="470.90" x2="401.79" y2="479.10" stroke="#9a9a9a" stroke-width="0.6" stroke-dasharray="1.1,0.6"/>
<line x1="403.58" y1="470.90" x2="403.58" y2="479.10" stroke="#9a9a9a" stroke-width="0.6" stroke-dasharray="1.1,0.6"/>
<line x1="405.38" y1="470.90" x2="405.38" y2="479.10" stroke="#9a9a9a" stroke-width="0.6" stroke-dasharray="1.1,0.6"/>
<line x1="407.17" y1="470.90" x2="407.17" y2="479.10" stroke="#9a9a9a" stroke-width="0.6" stroke-dasharray="1.1,0.6"/>
<line x1="408.96" y1="470.90" x2="408.96" y2="479.10" stroke="#9a9a9a" stroke-width="0.6" stroke-dasharray="1.1,0.6"/>
<line x1="410.76" y1="470.90" x2="410.76" y2="479.10" stroke="#9a9a9a" stroke-width="0.6" stroke-dasharray="1.1,0.6"/>
<line x1="412.55" y1="470.90" x2="412.55" y2="479.10" stroke="#9a9a9a" stroke-width="0.6" stroke-dasharray="1.1,0.6"/>
<line x1="414.35" y1="470.90" x2="414.35" y2="479.10" stroke="#9a9a9a" stroke-width="0.6" stroke-dasharray="1.1,0.6"/>
<line x1="416.14" y1="470.90" x2="416.14" y2="479.10" stroke="#9a9a9a" stroke-width="0.6" stroke-dasharray="1.1,0.6"/>
<line x1="417.94" y1="470.90" x2="417.94" y2="479.10" stroke="#9a9a9a" stroke-width="0.6" stroke-dasharray="1.1,0.6"/>
<line x1="419.73" y1="470.90" x2="419.73" y2="479.10" stroke="#9a9a9a" stroke-width="0.6" stroke-dasharray="1.1,0.6"/>
<line x1="421.52" y1="470.90" x2="421.52" y2="479.10" stroke="#9a9a9a" stroke-width="0.6" stroke-dasharray="1.1,0.6"/>
<line x1="423.32" y1="470.90" x2="423.32" y2="479.10" stroke="#9a9a9a" stroke-width="0.6" stroke-dasharray="1.1,0.6"/>
<line x1="425.11" y1="470.90" x2="425.11" y2="479.10" stroke="#9a9a9a" stroke-width="0.6" stroke-dasharray="1.1,0.6"/>
<line x1="426.91" y1="470.90" x2="426.91" y2="479.10" stroke="#9a9a9a" stroke-width="0.6" stroke-dasharray="1.1,0.6"/>
<line x1="428.70" y1="470.90" x2="428.70" y2="479.10" stroke="#9a9a9a" stroke-width="0.6" stroke-dasharray="1.1,0.6"/>
<line x1="430.50" y1="470.90" x2="430.50" y2="479.10" stroke="#9a9a9a" stroke-width="0.6" stroke-dasharray="1.1,0.6"/>
<line x1="432.29" y1="470.90" x2="432.29" y2="479.10" stroke="#9a9a9a" stroke-width="0.6" stroke-dasharray="1.1,0.6"/>
<line x1="434.09" y1="470.90" x2="434.09" y2="479.10" stroke="#9a9a9a" stroke-width="0.6" stroke-dasharray="1.1,0.6"/>
<line x1="435.88" y1="470.90" x2="435.88" y2="479.10" stroke="#9a9a9a" stroke-width="0.6" stroke-dasharray="1.1,0.6"/>
<line x1="437.68" y1="470.90" x2="437.68" y2="479.10" stroke="#9a9a9a" stroke-width="0.6" stroke-dasharray="1.1,0.6"/>
<line x1="439.47" y1="470.90" x2="439.47" y2="479.10" stroke="#9a9a9a" stroke-width="0.6" stroke-dasharray="1.1,0.6"/>
<line x1="441.26" y1="470.90" x2="441.26" y2="479.10" stroke="#9a9a9a" stroke-width="0.6" stroke-dasharray="1.1,0.6"/>
<line x1="443.06" y1="470.90" x2="443.06" y2="479.10" stroke="#9a9a9a" stroke-width="0.6" stroke-dasharray="1.1,0.6"/>
<line x1="444.85" y1="470.90" x2="444.85" y2="479.10" stroke="#9a9a9a" stroke-width="0.6" stroke-dasharray="1.1,0.6"/>
<line x1="446.65" y1="470.90" x2="446.65" y2="479.10" stroke="#9a9a9a" stroke-width="0.6" stroke-dasharray="1.1,0.6"/>
<line x1="448.44" y1="470.90" x2="448.44" y2="479.10" stroke="#9a9a9a" stroke-width="0.6" stroke-dasharray="1.1,0.6"/>
<line x1="450.24" y1="470.90" x2="450.24" y2="479.10" stroke="#9a9a9a" stroke-width="0.6" stroke-dasharray="1.1,0.6"/>
<line x1="452.03" y1="470.90" x2="452.03" y2="479.10" stroke="#9a9a9a" stroke-width="0.6" stroke-dasharray="1.1,0.6"/>
<line x1="453.82" y1="470.90" x2="453.82" y2="479.10" stroke="#9a9a9a" stroke-width="0.6" stroke-dasharray="1.1,0.6"/>
<line x1="455.62" y1="470.90" x2="455.62" y2="479.10" stroke="#9a9a9a" stroke-width="0.6" stroke-dasharray="1.1,0.6"/>
<line x1="457.41" y1="470.90" x2="457.41" y2="479.10" stroke="#9a9a9a" stroke-width="0.6" stroke-dasharray="1.1,0.6"/>
<line x1="459.21" y1="470.90" x2="459.21" y2="479.10" stroke="#9a9a9a" stroke-width="0.6" stroke-dasharray="1.1,0.6"/>
<line x1="461.00" y1="470.90" x2="461.00" y2="479.10" stroke="#9a9a9a" stroke-width="0.6" stroke-dasharray="1.1,0.6"/>
<line x1="462.80" y1="470.90" x2="462.80" y2="479.10" stroke="#9a9a9a" stroke-width="0.6" stroke-dasharray="1.1,0.6"/>
<line x1="464.59" y1="470.90" x2="464.59" y2="479.10" stroke="#9a9a9a" stroke-width="0.6" stroke-dasharray="1.1,0.6"/>
<line x1="466.39" y1="470.90" x2="466.39" y2="479.10" stroke="#9a9a9a" stroke-width="0.6" stroke-dasharray="1.1,0.6"/>
<line x1="468.18" y1="470.90" x2="468.18" y2="479.10" stroke="#9a9a9a" stroke-width="0.6" stroke-dasharray="1.1,0.6"/>
<line x1="469.98" y1="470.90" x2="469.98" y2="479.10" stroke="#9a9a9a" stroke-width="0.6" stroke-dasharray="1.1,0.6"/>
<line x1="471.77" y1="470.90" x2="471.77" y2="479.10" stroke="#9a9a9a" stroke-width="0.6" stroke-dasharray="1.1,0.6"/>
<line x1="473.56" y1="470.90" x2="473.56" y2="479.10" stroke="#9a9a9a" stroke-width="0.6" stroke-dasharray="1.1,0.6"/>
<line x1="475.36" y1="470.90" x2="475.36" y2="479.10" stroke="#9a9a9a" stroke-width="0.6" stroke-dasharray="1.1,0.6"/>
<line x1="477.15" y1="470.90" x2="477.15" y2="479.10" stroke="#9a9a9a" stroke-width="0.6" stroke-dasharray="1.1,0.6"/>
<line x1="478.95" y1="470.90" x2="478.95" y2="479.10" stroke="#9a9a9a" stroke-width="0.6" stroke-dasharray="1.1,0.6"/>
<line x1="480.74" y1="470.90" x2="480.74" y2="479.10" stroke="#9a9a9a" stroke-width="0.6" stroke-dasharray="1.1,0.6"/>
<line x1="482.54" y1="470.90" x2="482.54" y2="479.10" stroke="#9a9a9a" stroke-width="0.6" stroke-dasharray="1.1,0.6"/>
<line x1="484.33" y1="470.90" x2="484.33" y2="479.10" stroke="#9a9a9a" stroke-width="0.6" stroke-dasharray="1.1,0.6"/>
<line x1="486.12" y1="470.90" x2="486.12" y2="479.10" stroke="#9a9a9a" stroke-width="0.6" stroke-dasharray="1.1,0.6"/>
<line x1="487.92" y1="470.90" x2="487.92" y2="479.10" stroke="#9a9a9a" stroke-width="0.6" stroke-dasharray="1.1,0.6"/>
<line x1="489.71" y1="470.90" x2="489.71" y2="479.10" stroke="#9a9a9a" stroke-width="0.6" stroke-dasharray="1.1,0.6"/>
<line x1="491.51" y1="470.90" x2="491.51" y2="479.10" stroke="#9a9a9a" stroke-width="0.6" stroke-dasharray="1.1,0.6"/>
<line x1="493.30" y1="470.90" x2="493.30" y2="479.10" stroke="#9a9a9a" stroke-width="0.6" stroke-dasharray="1.1,0.6"/>
<polyline points="397.30,452.25 376.50,452.25 376.50,463.60 397.30,463.60" fill="none" stroke="#555" stroke-width="0.8"/>
<text x="495.80" y="445.2" font-size="4.6" font-weight="bold" fill="#222">type</text>
<text x="495.80" y="454.35" font-size="4.6" text-anchor="start" fill="#222">PYCR1</text>
<text x="495.80" y="465.70" font-size="4.6" text-anchor="start" fill="#222">PYCR2</text>
<defs><linearGradient id="gI" x1="0" y1="0" x2="0" y2="1"><stop offset="0" stop-color="#f5ba00"/><stop offset="0.12" stop-color="#f0b400"/><stop offset="0.5" stop-color="#000"/><stop offset="0.88" stop-color="#1b6fbd"/><stop offset="1" stop-color="#1c7bc9"/></linearGradient></defs>
<rect x="513.40" y="451.3" width="4.4" height="24.2" fill="url(#gI)"/>
<text x="519.40" y="454.30" font-size="4.6" text-anchor="start" fill="#222">5</text>
<text x="519.40" y="461.60" font-size="4.6" text-anchor="start" fill="#222">0</text>
<text x="519.40" y="468.90" font-size="4.6" text-anchor="start" fill="#222">−5</text>
<text x="519.40" y="476.10" font-size="4.6" text-anchor="start" fill="#222">−10</text>
<text x="532.70" y="450.0" font-size="4.6" font-weight="bold" fill="#222">type</text>
<rect x="532.70" y="452.2" width="3.8" height="3.6" fill="#eedb8a"/>
<rect x="532.70" y="456.8" width="3.8" height="3.6" fill="#1b8ed0"/>
<text x="537.90" y="455.60" font-size="4.6" text-anchor="start" fill="#222">high</text>
<text x="537.90" y="460.20" font-size="4.6" text-anchor="start" fill="#222">low</text>
<text x="67.3" y="502.7" font-size="6.7" font-weight="bold" fill="#111" class="u">characteristics</text>
<text x="253.0" y="502.2" font-size="6.7" font-weight="bold" fill="#111" class="u" text-anchor="middle">Unadj.HR(95%CI)</text>
<text x="295.0" y="502.2" font-size="6.7" font-weight="bold" fill="#111" class="u" text-anchor="middle">P value</text>
<text x="410.4" y="502.3" font-size="6.7" font-weight="bold" fill="#111" class="u">Adj.HR(95%CI)</text>
<text x="468.7" y="502.3" font-size="6.7" font-weight="bold" fill="#111" class="u">P value</text>
<line x1="63.10" y1="506.30" x2="306.90" y2="506.30" stroke="#3a3a3a" stroke-width="1.0"/>
<line x1="323.40" y1="506.30" x2="492.20" y2="506.30" stroke="#3a3a3a" stroke-width="1.0"/>
<line x1="161.40" y1="518.00" x2="161.40" y2="709.30" stroke="#5f8b98" stroke-width="0.7" stroke-dasharray="1,1"/>
<line x1="348.60" y1="518.00" x2="348.60" y2="709.30" stroke="#5f8b98" stroke-width="0.7" stroke-dasharray="1,1"/>
<text x="67.3" y="515.50" font-size="6.7" font-weight="bold" fill="#111" class="u">Age</text>
<text x="67.30" y="527.85" font-size="6.3" text-anchor="start" class="r" fill="#222">&gt;=60 vs. &lt;60</text>
<text x="253.00" y="527.85" font-size="6.3" text-anchor="middle" class="r" fill="#222">1.732(1.254−2.394)</text>
<text x="295.00" y="527.85" font-size="6.3" text-anchor="middle" class="r" fill="#222">&lt; 0.001</text>
<text x="410.40" y="527.85" font-size="6.3" text-anchor="start" class="r" fill="#222">1.417(1.02−1.969)</text>
<text x="468.70" y="527.85" font-size="6.3" text-anchor="start" class="r" fill="#222">0.038</text>
<line x1="168.97" y1="525.40" x2="190.90" y2="525.40" stroke="#3c3c3c" stroke-width="1.05"/>
<circle cx="179.92" cy="525.40" r="3.1" fill="#f7c75c" fill-opacity="0.88"/>
<line x1="168.97" y1="523.90" x2="168.97" y2="526.90" stroke="#3c3c3c" stroke-width="1.0"/>
<line x1="190.90" y1="523.90" x2="190.90" y2="526.90" stroke="#3c3c3c" stroke-width="1.0"/>
<line x1="349.23" y1="525.40" x2="373.33" y2="525.40" stroke="#3c3c3c" stroke-width="1.05"/>
<circle cx="361.27" cy="525.40" r="3.1" fill="#f7c75c" fill-opacity="0.88"/>
<line x1="349.23" y1="523.90" x2="349.23" y2="526.90" stroke="#3c3c3c" stroke-width="1.0"/>
<line x1="373.33" y1="523.90" x2="373.33" y2="526.90" stroke="#3c3c3c" stroke-width="1.0"/>
<text x="67.3" y="540.82" font-size="6.7" font-weight="bold" fill="#111" class="u">Gender</text>
<text x="67.30" y="553.17" font-size="6.3" text-anchor="start" class="r" fill="#222">Male vs. Female</text>
<text x="253.00" y="553.17" font-size="6.3" text-anchor="middle" class="r" fill="#222">0.95(0.689−1.31)</text>
<text x="295.00" y="553.17" font-size="6.3" text-anchor="middle" class="r" fill="#222">0.756</text>
<text x="410.40" y="553.17" font-size="6.3" text-anchor="start" class="r" fill="#222">0.989(0.709−1.38)</text>
<text x="468.70" y="553.17" font-size="6.3" text-anchor="start" class="r" fill="#222">0.95</text>
<line x1="148.67" y1="550.84" x2="170.45" y2="550.84" stroke="#3c3c3c" stroke-width="1.05"/>
<circle cx="159.56" cy="550.84" r="3.1" fill="#f7c75c" fill-opacity="0.88"/>
<line x1="148.67" y1="549.34" x2="148.67" y2="552.34" stroke="#3c3c3c" stroke-width="1.0"/>
<line x1="170.45" y1="549.34" x2="170.45" y2="552.34" stroke="#3c3c3c" stroke-width="1.0"/>
<line x1="335.90" y1="550.84" x2="360.30" y2="550.84" stroke="#3c3c3c" stroke-width="1.05"/>
<circle cx="348.09" cy="550.84" r="3.1" fill="#f7c75c" fill-opacity="0.88"/>
<line x1="335.90" y1="549.34" x2="335.90" y2="552.34" stroke="#3c3c3c" stroke-width="1.0"/>
<line x1="360.30" y1="549.34" x2="360.30" y2="552.34" stroke="#3c3c3c" stroke-width="1.0"/>
<text x="67.3" y="566.14" font-size="6.7" font-weight="bold" fill="#111" class="u">Grade</text>
<text x="67.30" y="578.49" font-size="6.3" text-anchor="start" class="r" fill="#222">G3/G4/GX vs. G1/G2</text>
<text x="253.00" y="578.49" font-size="6.3" text-anchor="middle" class="r" fill="#222">2.587(1.814−3.689)</text>
<text x="295.00" y="578.49" font-size="6.3" text-anchor="middle" class="r" fill="#222">&lt; 0.001</text>
<text x="410.40" y="578.49" font-size="6.3" text-anchor="start" class="r" fill="#222">1.465(1.002−2.143)</text>
<text x="468.70" y="578.49" font-size="6.3" text-anchor="start" class="r" fill="#222">0.049</text>
<line x1="181.49" y1="576.28" x2="205.56" y2="576.28" stroke="#3c3c3c" stroke-width="1.05"/>
<circle cx="193.53" cy="576.28" r="3.1" fill="#f7c75c" fill-opacity="0.88"/>
<line x1="181.49" y1="574.78" x2="181.49" y2="577.78" stroke="#3c3c3c" stroke-width="1.0"/>
<line x1="205.56" y1="574.78" x2="205.56" y2="577.78" stroke="#3c3c3c" stroke-width="1.0"/>
<line x1="348.57" y1="576.28" x2="376.43" y2="576.28" stroke="#3c3c3c" stroke-width="1.05"/>
<circle cx="362.49" cy="576.28" r="3.1" fill="#f7c75c" fill-opacity="0.88"/>
<line x1="348.57" y1="574.78" x2="348.57" y2="577.78" stroke="#3c3c3c" stroke-width="1.0"/>
<line x1="376.43" y1="574.78" x2="376.43" y2="577.78" stroke="#3c3c3c" stroke-width="1.0"/>
<text x="67.3" y="591.46" font-size="6.7" font-weight="bold" fill="#111" class="u">Stage</text>
<text x="67.30" y="603.81" font-size="6.3" text-anchor="start" class="r" fill="#222">Stage III/IV vs. Stage I/II</text>
<text x="253.00" y="603.81" font-size="6.3" text-anchor="middle" class="r" fill="#222">4.291(3.075−5.988)</text>
<text x="295.00" y="603.81" font-size="6.3" text-anchor="middle" class="r" fill="#222">&lt; 0.001</text>
<text x="410.40" y="603.81" font-size="6.3" text-anchor="start" class="r" fill="#222">2.461(1.219−4.968)</text>
<text x="468.70" y="603.81" font-size="6.3" text-anchor="start" class="r" fill="#222">0.012</text>
<line x1="199.38" y1="601.72" x2="221.98" y2="601.72" stroke="#3c3c3c" stroke-width="1.05"/>
<circle cx="210.68" cy="601.72" r="3.1" fill="#f7c75c" fill-opacity="0.88"/>
<line x1="199.38" y1="600.22" x2="199.38" y2="603.22" stroke="#3c3c3c" stroke-width="1.0"/>
<line x1="221.98" y1="600.22" x2="221.98" y2="603.22" stroke="#3c3c3c" stroke-width="1.0"/>
<line x1="355.76" y1="601.72" x2="407.24" y2="601.72" stroke="#3c3c3c" stroke-width="1.05"/>
<circle cx="381.50" cy="601.72" r="3.1" fill="#f7c75c" fill-opacity="0.88"/>
<line x1="355.76" y1="600.22" x2="355.76" y2="603.22" stroke="#3c3c3c" stroke-width="1.0"/>
<line x1="407.24" y1="600.22" x2="407.24" y2="603.22" stroke="#3c3c3c" stroke-width="1.0"/>
<text x="67.3" y="616.78" font-size="6.7" font-weight="bold" fill="#111" class="u">T_stage</text>
<text x="67.30" y="629.13" font-size="6.3" text-anchor="start" class="r" fill="#222">T3/T4 vs. T1/T2</text>
<text x="253.00" y="629.13" font-size="6.3" text-anchor="middle" class="r" fill="#222">3.44(2.505−4.724)</text>
<text x="295.00" y="629.13" font-size="6.3" text-anchor="middle" class="r" fill="#222">&lt; 0.001</text>
<text x="410.40" y="629.13" font-size="6.3" text-anchor="start" class="r" fill="#222">1.044(0.558−1.953)</text>
<text x="468.70" y="629.13" font-size="6.3" text-anchor="start" class="r" fill="#222">0.892</text>
<line x1="192.43" y1="627.16" x2="213.94" y2="627.16" stroke="#3c3c3c" stroke-width="1.05"/>
<circle cx="203.19" cy="627.16" r="3.1" fill="#f7c75c" fill-opacity="0.88"/>
<line x1="192.43" y1="625.66" x2="192.43" y2="628.66" stroke="#3c3c3c" stroke-width="1.0"/>
<line x1="213.94" y1="625.66" x2="213.94" y2="628.66" stroke="#3c3c3c" stroke-width="1.0"/>
<line x1="327.12" y1="627.16" x2="373.03" y2="627.16" stroke="#3c3c3c" stroke-width="1.05"/>
<circle cx="350.08" cy="627.16" r="3.1" fill="#f7c75c" fill-opacity="0.88"/>
<line x1="327.12" y1="625.66" x2="327.12" y2="628.66" stroke="#3c3c3c" stroke-width="1.0"/>
<line x1="373.03" y1="625.66" x2="373.03" y2="628.66" stroke="#3c3c3c" stroke-width="1.0"/>
<text x="67.3" y="642.10" font-size="6.7" font-weight="bold" fill="#111" class="u">M_satge</text>
<text x="67.30" y="654.45" font-size="6.3" text-anchor="start" class="r" fill="#222">M1/MX vs. M0</text>
<text x="253.00" y="654.45" font-size="6.3" text-anchor="middle" class="r" fill="#222">3.866(2.808−5.322)</text>
<text x="295.00" y="654.45" font-size="6.3" text-anchor="middle" class="r" fill="#222">&lt; 0.001</text>
<text x="410.40" y="654.45" font-size="6.3" text-anchor="start" class="r" fill="#222">1.965(1.356−2.848)</text>
<text x="468.70" y="654.45" font-size="6.3" text-anchor="start" class="r" fill="#222">&lt; 0.001</text>
<line x1="196.30" y1="652.60" x2="217.98" y2="652.60" stroke="#3c3c3c" stroke-width="1.05"/>
<circle cx="207.14" cy="652.60" r="3.1" fill="#f7c75c" fill-opacity="0.88"/>
<line x1="196.30" y1="651.10" x2="196.30" y2="654.10" stroke="#3c3c3c" stroke-width="1.0"/>
<line x1="217.98" y1="651.10" x2="217.98" y2="654.10" stroke="#3c3c3c" stroke-width="1.0"/>
<line x1="359.66" y1="652.60" x2="386.85" y2="652.60" stroke="#3c3c3c" stroke-width="1.05"/>
<circle cx="373.25" cy="652.60" r="3.1" fill="#f7c75c" fill-opacity="0.88"/>
<line x1="359.66" y1="651.10" x2="359.66" y2="654.10" stroke="#3c3c3c" stroke-width="1.0"/>
<line x1="386.85" y1="651.10" x2="386.85" y2="654.10" stroke="#3c3c3c" stroke-width="1.0"/>
<text x="67.3" y="667.42" font-size="6.7" font-weight="bold" fill="#111" class="u">N_stage</text>
<text x="67.30" y="679.77" font-size="6.3" text-anchor="start" class="r" fill="#222">N1/NX vs. N0</text>
<text x="253.00" y="679.77" font-size="6.3" text-anchor="middle" class="r" fill="#222">0.838(0.615−1.142)</text>
<text x="295.00" y="679.77" font-size="6.3" text-anchor="middle" class="r" fill="#222">0.264</text>
<text x="410.40" y="679.77" font-size="6.3" text-anchor="start" class="r" fill="#222">0.754(0.549−1.035)</text>
<text x="468.70" y="679.77" font-size="6.3" text-anchor="start" class="r" fill="#222">0.081</text>
<line x1="144.82" y1="678.04" x2="165.80" y2="678.04" stroke="#3c3c3c" stroke-width="1.05"/>
<circle cx="155.31" cy="678.04" r="3.1" fill="#f7c75c" fill-opacity="0.88"/>
<line x1="144.82" y1="676.54" x2="144.82" y2="679.54" stroke="#3c3c3c" stroke-width="1.0"/>
<line x1="165.80" y1="676.54" x2="165.80" y2="679.54" stroke="#3c3c3c" stroke-width="1.0"/>
<line x1="326.53" y1="678.04" x2="349.76" y2="678.04" stroke="#3c3c3c" stroke-width="1.05"/>
<circle cx="338.15" cy="678.04" r="3.1" fill="#f7c75c" fill-opacity="0.88"/>
<line x1="326.53" y1="676.54" x2="326.53" y2="679.54" stroke="#3c3c3c" stroke-width="1.0"/>
<line x1="349.76" y1="676.54" x2="349.76" y2="679.54" stroke="#3c3c3c" stroke-width="1.0"/>
<text x="67.3" y="692.74" font-size="6.7" font-weight="bold" fill="#111" class="u">riskScore</text>
<text x="67.30" y="705.09" font-size="6.3" text-anchor="start" class="r" fill="#222">high vs. low</text>
<text x="253.00" y="705.09" font-size="6.3" text-anchor="middle" class="r" fill="#222">2.788(1.996−3.896)</text>
<text x="295.00" y="705.09" font-size="6.3" text-anchor="middle" class="r" fill="#222">&lt; 0.001</text>
<text x="410.40" y="705.09" font-size="6.3" text-anchor="start" class="r" fill="#222">2.058(1.453−2.914)</text>
<text x="468.70" y="705.09" font-size="6.3" text-anchor="start" class="r" fill="#222">&lt; 0.001</text>
<line x1="184.73" y1="703.48" x2="207.41" y2="703.48" stroke="#3c3c3c" stroke-width="1.05"/>
<circle cx="196.06" cy="703.48" r="3.1" fill="#f7c75c" fill-opacity="0.88"/>
<line x1="184.73" y1="701.98" x2="184.73" y2="704.98" stroke="#3c3c3c" stroke-width="1.0"/>
<line x1="207.41" y1="701.98" x2="207.41" y2="704.98" stroke="#3c3c3c" stroke-width="1.0"/>
<line x1="362.19" y1="703.48" x2="387.69" y2="703.48" stroke="#3c3c3c" stroke-width="1.05"/>
<circle cx="374.95" cy="703.48" r="3.1" fill="#f7c75c" fill-opacity="0.88"/>
<line x1="362.19" y1="701.98" x2="362.19" y2="704.98" stroke="#3c3c3c" stroke-width="1.0"/>
<line x1="387.69" y1="701.98" x2="387.69" y2="704.98" stroke="#3c3c3c" stroke-width="1.0"/>
<line x1="137.60" y1="709.40" x2="208.20" y2="709.40" stroke="#444" stroke-width="1.0"/>
<line x1="137.80" y1="709.40" x2="137.80" y2="713.00" stroke="#444" stroke-width="1.0"/>
<text x="137.80" y="722.60" font-size="6.1" text-anchor="middle" class="r" fill="#222">0.50</text>
<line x1="161.30" y1="709.40" x2="161.30" y2="713.00" stroke="#444" stroke-width="1.0"/>
<text x="161.30" y="722.60" font-size="6.1" text-anchor="middle" class="r" fill="#222">1.0</text>
<line x1="184.80" y1="709.40" x2="184.80" y2="713.00" stroke="#444" stroke-width="1.0"/>
<text x="184.80" y="722.60" font-size="6.1" text-anchor="middle" class="r" fill="#222">2.0</text>
<line x1="208.30" y1="709.40" x2="208.30" y2="713.00" stroke="#444" stroke-width="1.0"/>
<text x="208.30" y="722.60" font-size="6.1" text-anchor="middle" class="r" fill="#222">4.0</text>
<line x1="323.30" y1="709.40" x2="399.50" y2="709.40" stroke="#444" stroke-width="1.0"/>
<line x1="323.10" y1="709.40" x2="323.10" y2="713.00" stroke="#444" stroke-width="1.0"/>
<text x="323.10" y="722.60" font-size="6.1" text-anchor="middle" class="r" fill="#222">0.50</text>
<line x1="348.50" y1="709.40" x2="348.50" y2="713.00" stroke="#444" stroke-width="1.0"/>
<text x="348.50" y="722.60" font-size="6.1" text-anchor="middle" class="r" fill="#222">1.0</text>
<line x1="373.90" y1="709.40" x2="373.90" y2="713.00" stroke="#444" stroke-width="1.0"/>
<text x="373.90" y="722.60" font-size="6.1" text-anchor="middle" class="r" fill="#222">2.0</text>
<line x1="399.30" y1="709.40" x2="399.30" y2="713.00" stroke="#444" stroke-width="1.0"/>
<text x="399.30" y="722.60" font-size="6.1" text-anchor="middle" class="r" fill="#222">4.0</text>
</svg></body></html>
